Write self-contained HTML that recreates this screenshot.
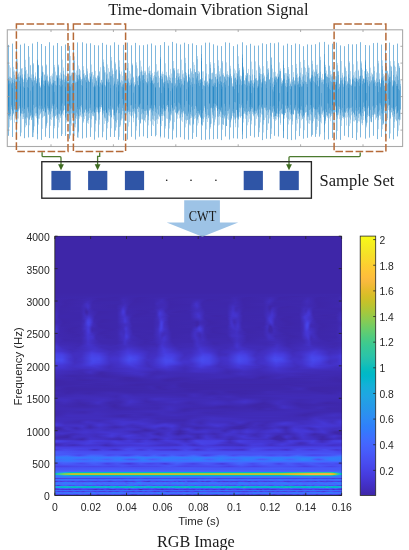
<!DOCTYPE html>
<html><head><meta charset="utf-8"><style>
html,body{margin:0;padding:0;background:#fff;width:409px;height:550px;overflow:hidden}
#sp{position:absolute;left:54.8px;top:236.2px;width:287px;height:260px;overflow:hidden}
#sp i{display:block;height:1px}
#ov{position:absolute;left:0;top:0}
.serif{font-family:"Liberation Serif","Times New Roman",serif;fill:#1a1a1a}
.sans{font-family:"Liberation Sans",Arial,sans-serif}
</style></head><body>
<div id="sp"><i style="background:#3e26a8"></i><i style="background:#3e26a8"></i><i style="background:#3e26a8"></i><i style="background:#3e26a8"></i><i style="background:#3e26a8"></i><i style="background:#3e26a8"></i><i style="background:#3e26a8"></i><i style="background:#3e26a8"></i><i style="background:#3e26a8"></i><i style="background:#3e26a8"></i><i style="background:#3e26a8"></i><i style="background:#3e26a8"></i><i style="background:#3e26a8"></i><i style="background:#3e26a8"></i><i style="background:#3e26a8"></i><i style="background:#3e26a8"></i><i style="background:#3e26a8"></i><i style="background:#3e26a8"></i><i style="background:#3e26a8"></i><i style="background:#3e26a8"></i><i style="background:#3e26a8"></i><i style="background:#3e26a8"></i><i style="background:#3e26a8"></i><i style="background:#3e26a8"></i><i style="background:#3e26a8"></i><i style="background:#3e26a8"></i><i style="background:#3e26a8"></i><i style="background:#3e26a8"></i><i style="background:#3e26a8"></i><i style="background:#3e26a8"></i><i style="background:#3e26a8"></i><i style="background:#3e26a8"></i><i style="background:#3e26a8"></i><i style="background:#3e26a8"></i><i style="background:#3e26a8"></i><i style="background:#3e26a8"></i><i style="background:#3e26a8"></i><i style="background:#3e26a8"></i><i style="background:#3e26a8"></i><i style="background:#3e26a8"></i><i style="background:#3e26a8"></i><i style="background:#3e26a8"></i><i style="background:#3e26a8"></i><i style="background:#3e26a8"></i><i style="background:#3e26a8"></i><i style="background:#3e26a8"></i><i style="background:#3e26a8"></i><i style="background:#3e26a8"></i><i style="background:#3e26a8"></i><i style="background:#3e26a8"></i><i style="background:#3e26a8"></i><i style="background:#3e26a8"></i><i style="background:#3e26a8"></i><i style="background:#3e26a8"></i><i style="background:#3e26a8"></i><i style="background:#3e26a8"></i><i style="background:#3e26a8"></i><i style="background:#3e26a9"></i><i style="background:linear-gradient(90deg,#3e27a9 0px,#3e28ac 286px)"></i><i style="background:linear-gradient(90deg,#3e27aa 0px,#3e27aa 36px,#3e27ab 65px,#3e27ac 175px,#3e27ac 213px,#3e28ac 250px,#3e27ab 283px,#3f28ae 286px)"></i><i style="background:linear-gradient(90deg,#3e27aa 0px,#3e28ac 31px,#3e27aa 64px,#3e28ad 71px,#3e27ab 100px,#3e27aa 174px,#3f28ad 180px,#3e27ab 209px,#3f28ae 217px,#3e26a8 239px,#3f28ad 254px,#3e27aa 282px,#3f29b1 286px)"></i><i style="background:linear-gradient(90deg,#3e27ab 0px,#3e28ac 29px,#3f28ae 35px,#3e26a8 61px,#3f28af 69px,#3e26a8 86px,#3f28ae 108px,#3e26a8 125px,#3e27ab 146px,#3e27aa 174px,#3f29b0 179px,#3e26a8 193px,#3f28ae 210px,#402ab3 216px,#3e26a8 225px,#3f28ad 249px,#3f29b1 253px,#3e26a8 264px,#3e28ac 283px,#402ab3 286px)"></i><i style="background:linear-gradient(90deg,#3f28ad 0px,#3e27ab 27px,#3f29b1 34px,#3e26a8 43px,#3e27aa 64px,#3f29b1 69px,#3e26a8 82px,#3f28ad 100px,#3f29b0 108px,#3e26a8 116px,#3e28ad 136px,#3e28ac 146px,#3e27aa 174px,#3f29b2 179px,#3e26a8 189px,#3f28ad 209px,#402bb6 216px,#3e26a9 224px,#3f28ae 249px,#402ab4 253px,#3e26a8 262px,#3f28ad 283px,#402ab5 286px)"></i><i style="background:linear-gradient(90deg,#3f28ae 0px,#3e26a8 17px,#3f29b0 30px,#3f29b0 35px,#3e26a8 45px,#3e27aa 64px,#402ab3 68px,#3e26a8 81px,#3e27ac 99px,#402bb6 107px,#3e26a9 113px,#3f28ad 136px,#3f29b2 144px,#3e26a8 154px,#3f28ad 175px,#402ab3 180px,#3e26a8 188px,#3f28ad 209px,#412cba 215px,#3e27a9 223px,#3f28ad 248px,#402bb6 253px,#3e26a8 261px,#3f28ad 283px,#402ab6 286px)"></i><i style="background:linear-gradient(90deg,#3f28af 0px,#3e26a8 12px,#3e28ac 28px,#402ab4 34px,#3e26a9 41px,#3e27a9 64px,#402ab5 68px,#3e26a8 80px,#3e27ac 99px,#402bb8 107px,#3e27a9 113px,#3f28ad 136px,#402bb6 143px,#3e26a8 152px,#3f28ae 175px,#402ab5 180px,#3e26a8 188px,#3e27ab 208px,#412dbc 215px,#3e27ab 221px,#3e28ac 247px,#412cb9 252px,#3e26a9 261px,#3e28ad 283px,#402ab5 286px)"></i><i style="background:linear-gradient(90deg,#3f29af 0px,#3e26a8 10px,#3f28ad 28px,#412cb9 33px,#3e27a9 39px,#3e28ac 65px,#402ab4 69px,#3e26a8 80px,#3e27ac 99px,#412cb9 106px,#3e26a9 115px,#3f28ad 136px,#412dbc 142px,#3e27aa 149px,#3e28ac 174px,#402ab5 181px,#3e26a9 188px,#3e27ab 208px,#412ebd 214px,#3e28ad 220px,#3e27ac 246px,#412cba 252px,#3e26a9 261px,#3e28ac 283px,#402ab5 286px)"></i><i style="background:linear-gradient(90deg,#3f29af 0px,#3e26a8 10px,#3f28ae 28px,#412dbc 33px,#3e27ab 38px,#3e28ac 65px,#402bb6 69px,#3e26a8 79px,#3e27ac 99px,#402bb6 103px,#402bb7 108px,#3e26a9 115px,#3f28ad 136px,#422fc2 142px,#3e27ab 148px,#3e27ac 173px,#402bb7 181px,#3e26a9 188px,#3e27ab 208px,#412dbc 214px,#3e27ac 219px,#3e28ac 246px,#412cb9 252px,#3e26a8 262px,#3e28ac 283px,#402ab5 286px)"></i><i style="background:linear-gradient(90deg,#3f29af 0px,#3e26a8 11px,#3e28ac 27px,#422fc1 32px,#3e27ab 38px,#3e28ac 65px,#402bb7 70px,#3e27a9 77px,#3e27ac 99px,#402bb7 102px,#402ab6 109px,#3e26a9 115px,#3f28ad 136px,#4331c7 141px,#422fc1 143px,#3e27ac 147px,#3e27ab 172px,#402bb8 180px,#3e26a9 188px,#3f28ae 209px,#412cb9 213px,#3e27ab 219px,#3f28ad 246px,#402bb7 252px,#3e26a8 263px,#3e28ac 283px,#402ab5 286px)"></i><i style="background:linear-gradient(90deg,#3f29b0 0px,#3e26a8 11px,#3f28ae 27px,#4330c4 32px,#422ebe 34px,#3f28ad 37px,#3e27aa 63px,#412cba 70px,#3e27a9 76px,#3e27ac 99px,#402bb7 102px,#402ab3 110px,#3e26a8 116px,#3e27ab 135px,#412dbc 139px,#4332ca 141px,#4230c3 143px,#3e27ac 147px,#3e27ab 172px,#402cb8 178px,#3f29b2 183px,#3e26a8 190px,#3f28ad 209px,#402ab5 213px,#3e27ac 219px,#3e27ac 245px,#402bb6 252px,#3e26a8 263px,#3e28ad 283px,#402ab5 286px)"></i><i style="background:linear-gradient(90deg,#3f29b0 0px,#3e26a8 9px,#3f28ad 26px,#4331c7 33px,#3f28ad 37px,#3e27a9 61px,#402bb6 67px,#412dbd 70px,#3e27aa 75px,#3e27ac 99px,#402ab5 103px,#402ab4 110px,#3e26a9 115px,#3e27ac 135px,#4330c4 140px,#4332ca 142px,#3e28ac 147px,#3e27ac 172px,#412dbc 178px,#3e26a9 189px,#3f28ad 209px,#402ab5 212px,#3e27ac 216px,#3e28ac 245px,#402ab5 252px,#3e26a8 264px,#3f28ae 284px,#402ab4 286px)"></i><i style="background:linear-gradient(90deg,#3f29b2 0px,#3e26a8 7px,#3f28ae 26px,#422ebf 31px,#4331c7 33px,#3f28ad 37px,#3e27a9 61px,#412cb9 67px,#422fc2 69px,#3e27ab 74px,#3e28ac 99px,#402ab5 103px,#402bb7 109px,#3e26a9 115px,#3e28ac 135px,#4332c9 142px,#3e27ab 148px,#3e27ac 172px,#422ec0 178px,#3e26a9 188px,#3e27ab 208px,#402ab3 212px,#3e26a8 215px,#3f28af 220px,#3e26a8 233px,#3f28af 246px,#402bb6 251px,#3e26a8 265px,#3f28af 285px,#3f29b1 286px)"></i><i style="background:linear-gradient(90deg,#402ab4 0px,#3e26a9 6px,#3e27ac 25px,#412dbb 31px,#4331c6 33px,#3f28ad 37px,#3e27a9 61px,#402bb6 66px,#4330c5 68px,#422fc2 70px,#3e27ab 74px,#3e28ac 99px,#402ab5 104px,#402bb6 109px,#3e26a9 115px,#3e28ad 135px,#4330c5 142px,#3e27ac 148px,#3e27ac 172px,#412cba 176px,#4230c3 178px,#402ab4 181px,#3e26a8 191px,#3e27ab 208px,#402ab3 212px,#3e26a8 215px,#402ab5 218px,#3e26a8 226px,#3e28ac 245px,#402bb8 250px,#402bb6 255px,#3e26a9 262px,#3f28ad 286px)"></i><i style="background:linear-gradient(90deg,#402bb6 0px,#3e27a9 5px,#3e27ac 25px,#402bb6 29px,#402ab5 31px,#422fc2 33px,#3f28ad 37px,#3e27aa 61px,#412cba 66px,#4433cc 68px,#4230c3 70px,#3f28ad 73px,#3e27ab 98px,#412dbc 107px,#3e27a9 114px,#3f28ad 135px,#422fc1 142px,#3e27ac 149px,#3e28ac 172px,#412cba 176px,#4330c5 178px,#402ab3 181px,#402ab4 184px,#3e26a9 189px,#3e27ac 208px,#402ab4 212px,#3e26a8 215px,#412cb9 218px,#3e27a9 224px,#3e28ac 245px,#412cba 249px,#412cb9 252px,#412ebe 254px,#3e27ab 259px,#3e27aa 286px)"></i><i style="background:linear-gradient(90deg,#402bb8 0px,#3e27a9 5px,#3e27ab 25px,#402bb6 29px,#3f28af 31px,#412dbc 33px,#402bb6 35px,#3e27ac 39px,#3e27ab 62px,#402ab5 65px,#4535d2 68px,#4330c5 70px,#3e28ad 73px,#3e27ab 98px,#422fc1 106px,#402bb7 109px,#3e27aa 113px,#3e28ad 135px,#412ebd 141px,#412cb9 145px,#3e27ab 150px,#3e28ac 172px,#412dbc 176px,#4331c6 178px,#402ab3 181px,#402bb6 184px,#3e27a9 188px,#3e27ac 208px,#402ab5 212px,#3e27ab 215px,#412dbc 217px,#412cb9 219px,#3e27aa 223px,#3e27ac 245px,#412dbb 249px,#402bb7 251px,#4230c3 254px,#3f28ad 258px,#3e27aa 286px)"></i><i style="background:linear-gradient(90deg,#412cba 0px,#3e27a9 5px,#3f28ad 26px,#402bb6 29px,#3e27a9 31px,#412cba 34px,#3e27ac 39px,#3e27ab 62px,#402bb7 65px,#4537d7 68px,#4536d3 69px,#3f29b0 72px,#3e26a8 86px,#3f28ad 100px,#4331c8 105px,#422fc1 108px,#3f28ae 111px,#3e26a9 132px,#402bb7 138px,#412ebe 144px,#3e27ab 150px,#3e28ac 172px,#412ebe 176px,#4331c8 178px,#402bb6 181px,#402bb8 184px,#3e27a9 188px,#3e28ac 208px,#402bb7 212px,#3f29b0 215px,#422fc0 217px,#412dbb 219px,#3e27aa 223px,#3e28ac 245px,#412dbc 249px,#402bb8 251px,#4331c8 253px,#4332c9 254px,#3e28ad 258px,#3e27ac 285px,#3e28ad 286px)"></i><i style="background:linear-gradient(90deg,#412dbc 0px,#3e27a9 5px,#3f28ad 26px,#402bb7 29px,#3e26a8 31px,#3e26a8 32px,#402bb8 34px,#3e26a8 44px,#3e27ab 62px,#412cb9 65px,#4539d9 68px,#4537d5 69px,#3f28af 72px,#3e26a8 91px,#3f29b0 101px,#4434cf 105px,#4230c4 108px,#3f28af 111px,#3e26a8 124px,#3e27ac 135px,#412ebe 141px,#412dbd 145px,#3e27aa 151px,#3e28ac 172px,#422fc1 176px,#4332ca 178px,#412dbb 181px,#412cba 184px,#3e27a9 188px,#3e28ac 208px,#412cb8 213px,#402ab5 215px,#4330c5 217px,#402bb6 220px,#3e27a9 224px,#3e28ac 245px,#412dbd 249px,#412cbb 251px,#4433cd 253px,#4434ce 254px,#3e27ac 258px,#3e28ac 283px,#3f29b1 286px)"></i><i style="background:linear-gradient(90deg,#412ebd 0px,#3e27a9 5px,#3e27ac 26px,#412cb9 29px,#3e26a8 31px,#3e26a8 32px,#412cb8 34px,#3e26a8 44px,#3e27ac 62px,#412dbb 65px,#4539d9 68px,#4537d6 69px,#3f28af 72px,#3e26a8 92px,#3f29b0 101px,#4537d5 105px,#4331c6 108px,#3f29b2 111px,#3e26a8 119px,#3e27ac 135px,#422fc1 141px,#4330c5 144px,#3e28ac 150px,#3e28ac 172px,#4433cd 178px,#422fc3 181px,#412dbc 184px,#3e27ab 187px,#3e28ac 208px,#412dbb 213px,#412cba 215px,#4332c8 217px,#3e27aa 223px,#3f28ad 245px,#422ebe 249px,#422fc0 251px,#4535d2 253px,#4535d2 254px,#3e27ac 258px,#3e27ab 282px,#402bb6 286px)"></i><i style="background:linear-gradient(90deg,#422ec0 0px,#3e27aa 5px,#3e27ac 26px,#412cba 29px,#3e27ab 32px,#412dbb 34px,#3e26a9 43px,#3e27ac 62px,#412dbc 65px,#4538d7 68px,#4536d4 69px,#3f29b0 72px,#3e26a8 86px,#3e27ac 100px,#402bb7 102px,#4435d1 104px,#4538d7 105px,#3f28ad 113px,#3e27aa 134px,#4332ca 143px,#3e27aa 151px,#3e28ac 172px,#4434cf 178px,#4230c3 183px,#3e27ab 187px,#3e28ac 208px,#412dbd 213px,#422ebe 215px,#4433cc 217px,#3e27aa 223px,#3e27ab 244px,#4434ce 252px,#4537d5 254px,#3e28ac 258px,#3e27ac 282px,#412cb8 286px)"></i><i style="background:linear-gradient(90deg,#422fc2 0px,#3e27aa 5px,#3e27ab 26px,#412dbc 29px,#402ab3 32px,#422ebf 34px,#3e27a9 42px,#3e27ac 62px,#412dbc 65px,#4536d3 68px,#4332cb 70px,#402ab4 72px,#3e26a8 82px,#3e28ac 100px,#402bb8 102px,#4435d1 104px,#4538d7 105px,#3e27ab 114px,#3e27ac 135px,#4434ce 143px,#422fc0 146px,#3e28ac 150px,#3e27ac 172px,#4434d0 178px,#4332ca 182px,#3e27ac 187px,#3e27ac 208px,#422ebf 213px,#4230c3 215px,#4434cf 217px,#3e27aa 223px,#3e27ab 244px,#4537d6 253px,#4433cd 255px,#3f28ad 258px,#3e27a9 280px,#412cba 286px)"></i><i style="background:linear-gradient(90deg,#4230c4 0px,#3e27ac 4px,#3e27ab 26px,#412ebe 30px,#412dbb 32px,#4331c5 34px,#3e27aa 41px,#3e27ac 62px,#412dbc 65px,#4434ce 68px,#4433cc 70px,#402cb8 72px,#3e26a9 79px,#3f28ad 100px,#402bb7 102px,#4434d0 104px,#4435d1 106px,#3e27aa 115px,#3e27ac 135px,#4434cf 144px,#3f28af 149px,#3e26a8 160px,#3e27ac 172px,#4433cc 177px,#4434cf 181px,#3e27aa 188px,#3e27ab 208px,#4435d0 217px,#3e27ab 223px,#3e27ab 244px,#422ec0 248px,#4537d6 251px,#4536d3 254px,#3f28af 258px,#3e26a8 269px,#3f28ad 282px,#412dbb 286px)"></i><i style="background:linear-gradient(90deg,#4330c5 0px,#3e27ac 4px,#3e27ab 26px,#422ec0 30px,#4433cc 34px,#3e27ab 40px,#3e27ac 62px,#4434ce 69px,#4331c6 71px,#402bb7 74px,#3e26a9 79px,#3e27ac 99px,#402bb6 102px,#4435d2 105px,#402ab5 112px,#3e27a9 116px,#3e27ac 135px,#4434cf 144px,#3f28ae 149px,#3e26a8 163px,#3f28af 173px,#4332cb 177px,#4434cd 181px,#3e27aa 188px,#3f28ad 209px,#4435d1 216px,#4332ca 218px,#3f28ae 222px,#3e26a8 233px,#3f28ae 245px,#4537d6 250px,#4536d2 253px,#4230c3 256px,#3e27ac 259px,#3e27aa 281px,#412dbd 286px)"></i><i style="background:linear-gradient(90deg,#4330c4 0px,#3e27ac 4px,#3e27ab 26px,#4536d3 34px,#3e27ab 40px,#3e27ac 62px,#4435d0 70px,#3e27ab 77px,#3e28ac 99px,#402ab5 102px,#4434d0 105px,#422fc0 110px,#3e27ab 114px,#3e27ac 135px,#4433cb 144px,#3e27ac 150px,#3e27ab 172px,#4331c7 176px,#4331c6 182px,#3e27aa 188px,#3e27ac 209px,#422ebe 212px,#4435d1 215px,#4434cf 217px,#3f28ae 222px,#3e26a8 234px,#3f28ad 245px,#4538d7 250px,#4537d5 252px,#4230c3 256px,#3f28ad 259px,#3e27a9 280px,#412ebe 286px)"></i><i style="background:linear-gradient(90deg,#422fc2 0px,#3e27aa 5px,#3e27ab 26px,#4434ce 32px,#4639da 34px,#422fc2 37px,#3e27ab 40px,#3e27ac 62px,#4536d3 70px,#3f28ad 76px,#3e27ab 98px,#412dbb 103px,#4434cf 105px,#4433cb 108px,#3e27ab 114px,#3e27ac 135px,#4331c6 145px,#3e27ac 150px,#3e27aa 172px,#4331c7 176px,#4230c3 180px,#422fc0 183px,#3e27aa 188px,#3f28ad 210px,#4435d0 214px,#4536d3 216px,#3f29b1 221px,#3e26a8 227px,#3f28ad 245px,#4537d6 250px,#4537d5 252px,#422fc2 256px,#3e27ab 260px,#3e27aa 281px,#422ebf 286px)"></i><i style="background:linear-gradient(90deg,#412ebe 0px,#3e27a9 6px,#3e27ac 26px,#422ebf 30px,#463bdd 33px,#463ada 35px,#3f28af 39px,#3e26a8 48px,#3e27ac 62px,#4331c6 68px,#4537d6 70px,#3e28ac 76px,#3e27ab 98px,#412cb9 103px,#4537d5 106px,#3e27ab 114px,#3e27ab 135px,#412dbb 143px,#422fc1 145px,#3e27aa 151px,#3e27aa 172px,#4331c6 176px,#412cbb 179px,#422fc1 183px,#3e27aa 188px,#3f28ad 210px,#4537d6 215px,#4434ce 217px,#402ab3 220px,#3e26a8 227px,#3e28ac 245px,#4538d8 251px,#4332c9 255px,#3e27ac 260px,#3e27ab 281px,#422ebe 286px)"></i><i style="background:linear-gradient(90deg,#412cba 0px,#3e26a9 7px,#3e27ac 26px,#402bb7 29px,#473fe2 33px,#463cde 35px,#3f29b0 39px,#3e26a8 47px,#3e27ac 62px,#4331c7 68px,#4538d8 70px,#412dbc 74px,#3e27ac 76px,#3e27ab 98px,#412cb8 103px,#4539d9 106px,#4434cf 108px,#3e27aa 114px,#3f28ad 136px,#402ab5 143px,#412dbb 145px,#3e26a9 153px,#3f28ad 173px,#4331c6 176px,#412dbd 178px,#402bb6 179px,#422fc1 183px,#3e27aa 188px,#3e28ad 210px,#4538d7 215px,#4434cf 217px,#3f29b2 220px,#3e26a8 229px,#3e27ac 245px,#4539d8 251px,#4639da 253px,#402ab4 258px,#3e26a9 263px,#3f28ad 282px,#412dbb 286px)"></i><i style="background:linear-gradient(90deg,#402bb7 0px,#3e26a9 8px,#3e28ad 26px,#402bb7 29px,#4741e5 33px,#463de0 35px,#3f29b1 39px,#3e26a8 46px,#3e28ac 62px,#422ebe 66px,#4331c6 68px,#4538d7 70px,#412ebe 74px,#3e28ac 76px,#3e27ab 98px,#402bb8 103px,#422fc1 104px,#463bdd 106px,#463bdc 107px,#422ebe 110px,#3e27aa 114px,#3f28ad 136px,#3f28af 140px,#3e26a9 142px,#402bb7 145px,#3e26a8 154px,#3f28ad 173px,#4331c7 176px,#4331c6 177px,#402ab3 179px,#412dbb 181px,#422fc2 183px,#3e27aa 188px,#3f28ad 210px,#4433cb 214px,#4538d8 216px,#4330c5 218px,#3f29b1 220px,#3e26a8 231px,#3e27ac 245px,#422ec0 248px,#463de0 252px,#4538d8 254px,#412cb9 257px,#3e27a9 262px,#3e27ab 281px,#402bb8 286px)"></i><i style="background:linear-gradient(90deg,#402bb7 0px,#3e26a8 9px,#3f28ad 26px,#412cb9 29px,#4743e7 33px,#473ee1 35px,#4029b3 39px,#3e26a8 45px,#3e28ac 62px,#412dbd 66px,#4230c4 68px,#4535d2 70px,#422ebe 74px,#3f28ad 76px,#3e27aa 97px,#402bb7 103px,#422ec0 104px,#463de0 106px,#463de0 107px,#412ebd 110px,#3e27aa 114px,#3e28ad 136px,#3e27ab 140px,#3e26a8 143px,#402ab5 145px,#3e26a8 156px,#3f28ad 173px,#4331c7 176px,#4331c7 177px,#402ab5 179px,#402ab4 180px,#4230c4 183px,#3e27ac 187px,#3e27ab 209px,#4331c6 214px,#4537d6 216px,#4331c6 218px,#3f29b0 220px,#3e26a8 234px,#3e27ac 245px,#412ebe 248px,#4740e4 252px,#4740e4 253px,#412dbd 256px,#3e27a9 262px,#3e27ab 281px,#402ab5 286px)"></i><i style="background:linear-gradient(90deg,#412cba 0px,#3e26a9 8px,#3f28ad 26px,#412dbc 29px,#4742e6 33px,#463de0 35px,#412cbb 38px,#3e27aa 42px,#3e27ac 62px,#412cba 66px,#422ebf 68px,#4332ca 70px,#412ebe 74px,#3e27ab 77px,#3e27ab 98px,#402bb8 103px,#422fc0 104px,#473fe2 106px,#473ee1 107px,#4330c5 109px,#3e27ab 114px,#3e28ac 136px,#3f28ae 139px,#3e26a8 142px,#3e26a8 143px,#402bb6 145px,#3e26a8 156px,#3f28ad 173px,#4331c7 176px,#4332c9 177px,#412cb8 179px,#412dbd 181px,#4331c6 183px,#3e27ac 187px,#3e27ab 209px,#4331c7 215px,#4434cf 217px,#3f29b0 220px,#3e26a8 235px,#3e27ac 245px,#412dbc 248px,#4743e7 252px,#4742e6 253px,#412cb9 256px,#3e26a9 264px,#3e27ab 281px,#402ab3 286px)"></i><i style="background:linear-gradient(90deg,#422ec0 0px,#3e27a9 7px,#3f28ad 26px,#412ebe 29px,#4740e3 33px,#4741e5 34px,#412cba 38px,#3e27a9 43px,#3e27ac 62px,#402bb8 66px,#4230c4 71px,#412dbd 74px,#3e27ab 77px,#3e27ab 98px,#402cb8 103px,#422fc2 104px,#4740e3 106px,#473ee2 107px,#4230c4 109px,#3e27ab 114px,#3e27ac 136px,#3f28af 139px,#3e26a8 143px,#412cba 145px,#3e26a9 154px,#3f28ad 173px,#4332cb 177px,#412dbb 180px,#4332c9 183px,#3e27ac 187px,#3e27ab 209px,#412dbc 213px,#412dbc 215px,#4332c9 217px,#3f29b0 220px,#3e26a8 234px,#3e27ac 245px,#412dbb 248px,#473ee1 251px,#4744e9 252px,#4743e7 253px,#422fc1 255px,#402ab5 256px,#3e26a8 266px,#3f28ae 282px,#402ab3 286px)"></i><i style="background:linear-gradient(90deg,#4331c6 0px,#3e27aa 6px,#3e27ab 25px,#402bb7 28px,#463ddf 33px,#463ee1 34px,#402bb8 38px,#3e26a9 44px,#3e27ac 62px,#402bb6 66px,#422ebe 69px,#4230c4 72px,#3e27aa 78px,#3e27ab 98px,#412cb9 103px,#4230c4 104px,#4740e3 106px,#463ee1 107px,#4330c5 109px,#3e27aa 115px,#3f28ad 137px,#3f28ad 140px,#3e26a8 142px,#4230c3 145px,#3e27aa 152px,#3e27ab 172px,#412dbc 175px,#4432cb 177px,#422ebf 180px,#4332cb 183px,#3e28ac 187px,#3e27ac 209px,#412ebe 212px,#3f29b1 215px,#422fc0 217px,#422fc0 218px,#3f29b1 220px,#3e26a8 232px,#3e27ac 245px,#412cba 248px,#473fe2 251px,#4745e9 252px,#4742e6 253px,#412ebe 255px,#402ab3 256px,#3e26a8 268px,#3f28ad 282px,#402bb6 286px)"></i><i style="background:linear-gradient(90deg,#4433cd 0px,#3e27ab 6px,#3e27ab 25px,#402bb7 28px,#463adb 33px,#463bdc 34px,#412cba 37px,#3e26a9 44px,#3e27ac 62px,#402ab5 66px,#422ebf 69px,#4332ca 71px,#3e27aa 78px,#3e27ab 98px,#412cbb 103px,#473fe3 106px,#463de0 107px,#4331c6 109px,#3e27aa 115px,#3f28ad 137px,#402ab3 140px,#3f29b1 142px,#4332ca 144px,#4433cd 145px,#3e27ac 151px,#3e27ac 172px,#4230c3 176px,#4332ca 178px,#422fc2 180px,#4433cb 183px,#3f28ad 187px,#3e27aa 208px,#422ebf 212px,#412dbc 213px,#3e26a8 215px,#3e27ab 216px,#402bb8 217px,#412dbc 218px,#3f28ad 223px,#3e27aa 244px,#412cb9 248px,#473fe2 251px,#4744e8 252px,#4740e4 253px,#412dbc 255px,#402ab3 256px,#3e26a8 268px,#3f28ad 282px,#412cb9 286px)"></i><i style="background:linear-gradient(90deg,#4535d2 0px,#3f28ae 5px,#3e26a8 21px,#3f29b1 27px,#4539d8 33px,#4539d8 34px,#402ab5 37px,#3e26a9 46px,#3e27ac 62px,#412cb9 68px,#4434d0 71px,#3e27ac 77px,#3e27ab 98px,#412dbc 103px,#473fe3 106px,#463ddf 107px,#4331c7 109px,#412cba 112px,#3e27ab 115px,#3f28ad 137px,#412ebe 142px,#4537d5 144px,#4537d6 145px,#3f29b0 150px,#3e26a8 160px,#3e27ac 172px,#4332c8 178px,#4230c3 180px,#4332ca 183px,#3f28ae 187px,#3e26a9 205px,#3f29b2 210px,#412ebe 212px,#412dbb 213px,#3e28ad 214px,#3e26a8 216px,#412cb9 218px,#3e26a9 227px,#3e27ac 245px,#412cb9 248px,#463ee1 251px,#4742e6 252px,#463ee1 253px,#412dbd 255px,#402ab6 257px,#3e26a8 266px,#3f28ad 282px,#412dbb 286px)"></i><i style="background:linear-gradient(90deg,#4537d7 0px,#3f28ae 5px,#3e26a8 17px,#3f28ad 26px,#4539d9 33px,#4538d8 34px,#3f29b1 37px,#3e26a8 51px,#3e27ac 62px,#412dbb 68px,#4536d4 71px,#4330c5 73px,#3e27ac 77px,#3e27ab 98px,#422ebe 103px,#463adb 105px,#473fe2 106px,#463cdf 107px,#4332c9 109px,#412dbc 112px,#3e27ab 115px,#3e27ab 136px,#4331c7 142px,#463adb 144px,#4537d5 146px,#3f29b0 150px,#3e26a8 158px,#3e28ad 172px,#4330c5 178px,#4331c7 181px,#4331c8 183px,#3e27ab 188px,#3e27ab 208px,#412dbd 212px,#412cb9 213px,#3e27a9 214px,#3e27ab 217px,#402bb7 218px,#3f29b2 221px,#3e26a8 230px,#3e27ac 245px,#412cb9 248px,#463ddf 251px,#4740e3 252px,#463bdd 253px,#422fc0 255px,#3e26a9 264px,#3f28ad 282px,#412dbc 286px)"></i><i style="background:linear-gradient(90deg,#4539d9 0px,#3f28af 5px,#3e26a8 15px,#3f28ad 26px,#4332c9 31px,#4639da 33px,#4539d8 34px,#3f29af 37px,#3e26a9 58px,#3f29b0 63px,#412cbb 68px,#4536d4 71px,#4331c6 73px,#3e28ac 77px,#3e27ab 98px,#422fc0 103px,#463adb 105px,#463ee1 106px,#4435d1 108px,#4331c8 110px,#3e27ac 115px,#3e27ab 136px,#4536d4 143px,#463bdd 145px,#3f29b1 150px,#3e26a9 157px,#3f28ad 172px,#422fc1 178px,#4332c9 182px,#3e27aa 189px,#3e27ab 208px,#412dbc 212px,#402bb7 213px,#3e26a8 214px,#3e27a9 217px,#402bb6 218px,#402bb8 220px,#3e27ab 224px,#3e27ac 245px,#412cb9 248px,#463bdc 251px,#463de0 252px,#422fc3 255px,#3e27a9 264px,#3f28ad 282px,#412dbd 286px)"></i><i style="background:linear-gradient(90deg,#4538d7 0px,#3f28af 5px,#3e26a8 14px,#3f28ad 26px,#422ebe 30px,#463ada 33px,#4639d9 34px,#3f29b0 37px,#3e26a9 56px,#3f28ad 62px,#412cba 66px,#422ebf 69px,#4435d1 71px,#4331c7 73px,#3e27ab 78px,#3f28ad 99px,#422fc1 103px,#4639d9 105px,#463bdd 106px,#4331c6 109px,#412dbc 112px,#3e27aa 116px,#3e28ac 136px,#4538d8 145px,#4433cc 147px,#3f29b2 150px,#3e26a9 157px,#3f28ae 172px,#412dbd 177px,#422fc0 180px,#4331c6 182px,#3e27aa 189px,#3e27ac 208px,#412dbb 212px,#402bb6 213px,#3e27a9 214px,#3e27aa 217px,#412cb9 219px,#3e27aa 225px,#3e27ac 245px,#412cb9 248px,#4539d9 251px,#463adc 252px,#4330c5 255px,#3e27a9 264px,#3f28ad 282px,#412dbc 286px)"></i><i style="background:linear-gradient(90deg,#4536d3 0px,#3f28ae 5px,#3e26a8 15px,#3f28ad 26px,#412dbd 30px,#4639da 33px,#4639d9 34px,#402ab3 37px,#3e26a9 49px,#3f28ad 62px,#412dbc 66px,#412dbd 69px,#4434d0 71px,#4331c8 73px,#3e27ab 78px,#3f28ad 99px,#422fc1 103px,#4537d6 105px,#4435d0 107px,#422fc2 109px,#412dbc 112px,#3e27ab 116px,#3e27ab 135px,#4331c7 141px,#4434cf 146px,#3f29b1 150px,#3e26a8 158px,#3f28ae 172px,#412dbc 176px,#422ebf 180px,#4230c4 182px,#402bb7 185px,#3e27a9 192px,#3f28ad 208px,#412dbb 212px,#3e26a8 215px,#3f28ad 217px,#412cb9 219px,#3e27aa 226px,#3e27ac 245px,#412cba 248px,#4537d6 251px,#4537d5 253px,#4330c5 256px,#3e27aa 263px,#3e27ac 281px,#412dbc 286px)"></i><i style="background:linear-gradient(90deg,#4434cd 0px,#3f28ae 5px,#3e26a8 19px,#3f29b1 28px,#4330c5 31px,#4538d8 33px,#4538d8 34px,#412cb9 37px,#3e26a9 46px,#3f28ad 62px,#412ebe 66px,#412dbd 69px,#4435d1 71px,#4332c9 73px,#3e27ac 78px,#3e27ab 98px,#422fc0 103px,#4435d0 105px,#422ebe 109px,#412dbb 112px,#3e27aa 117px,#3e27ab 135px,#4330c5 140px,#422ec0 144px,#4330c5 147px,#3f29b1 150px,#3e26a8 158px,#3f28ae 172px,#412dbc 177px,#422ec0 180px,#4330c5 181px,#402bb7 185px,#3e27a9 192px,#3f28ad 208px,#412dbc 212px,#3e28ac 216px,#402bb8 219px,#3e27a9 229px,#3f28ae 246px,#4536d5 251px,#4536d5 253px,#4331c6 256px,#3e27aa 263px,#3e28ac 281px,#412dbb 286px)"></i><i style="background:linear-gradient(90deg,#4331c7 0px,#3f29b0 4px,#3e27a9 14px,#3f28ad 27px,#4330c5 31px,#4537d6 33px,#4434cf 35px,#402bb6 39px,#3e26a8 46px,#3f28ad 62px,#422ebf 66px,#422ebe 69px,#4536d3 71px,#4332ca 73px,#3f28ad 78px,#3e27ab 98px,#422ec0 103px,#4433cc 105px,#412dbb 108px,#412dbb 112px,#3e27aa 117px,#3e28ac 135px,#4331c6 140px,#402bb8 144px,#422fc1 147px,#3f28ae 151px,#3e26a8 165px,#3f28ad 172px,#412dbd 177px,#422fc1 180px,#4230c3 182px,#402bb8 185px,#3e27aa 193px,#3f28ad 208px,#412dbd 213px,#402ab3 216px,#402bb6 219px,#3e27a9 232px,#3f28ae 246px,#4536d3 251px,#4537d5 253px,#4230c4 256px,#3e27aa 263px,#3f28ad 281px,#412cbb 286px)"></i><i style="background:linear-gradient(90deg,#4230c3 0px,#3f28af 4px,#3e26a9 23px,#3f29b1 28px,#4536d3 33px,#3e27ab 43px,#3f28ad 62px,#422fc0 66px,#422fc0 69px,#4538d7 71px,#4433cc 73px,#3f28ae 78px,#3e27aa 97px,#422ebf 103px,#4332c8 105px,#412cbb 108px,#422ebf 111px,#3e27aa 117px,#3f28ad 135px,#4331c6 140px,#402ab4 145px,#412ebd 147px,#3e27ac 152px,#3e27ab 171px,#422ebf 177px,#422fc2 180px,#4230c4 182px,#3e27ac 190px,#3f28ad 208px,#422ebf 213px,#3e27a9 229px,#3f28ae 246px,#4535d2 251px,#4537d5 253px,#422fc1 256px,#412dbb 259px,#3e27ab 263px,#3f28ad 281px,#412cb9 286px)"></i><i style="background:linear-gradient(90deg,#422ec0 0px,#3f28ae 4px,#3e27aa 25px,#402bb7 29px,#4435d2 33px,#4230c4 38px,#3f29b0 41px,#3e27a9 51px,#3f28ad 62px,#422fc0 67px,#422fc2 69px,#4639d9 71px,#4538d7 72px,#402bb7 76px,#3e27ab 81px,#3e28ac 98px,#422ebe 103px,#4331c7 105px,#412dbc 107px,#422fc2 111px,#3e27aa 117px,#3f28ae 135px,#4331c6 140px,#402ab3 145px,#412dbc 147px,#3e27aa 153px,#3e28ac 172px,#422fc0 177px,#4330c5 182px,#3e27ab 192px,#3f28ad 208px,#422fc1 214px,#3f29b2 221px,#3e26a8 236px,#3f28af 246px,#4434d0 251px,#4537d5 253px,#412dbc 256px,#412dbc 259px,#3e27aa 264px,#3e28ac 281px,#402cb8 286px)"></i><i style="background:linear-gradient(90deg,#422ebf 0px,#3f28af 4px,#3e27aa 24px,#402bb8 29px,#4435d1 33px,#4433cd 37px,#3f29b1 41px,#3e27aa 53px,#3f28ad 62px,#422ec0 67px,#4230c4 69px,#4639da 71px,#4539d8 72px,#402bb8 76px,#3e27ab 83px,#3f28ad 98px,#412ebd 103px,#4331c6 105px,#422ebe 107px,#4332c8 110px,#3e27aa 117px,#3f28ae 135px,#4331c6 140px,#402ab5 145px,#412dbc 147px,#3e27ab 153px,#3f28ae 173px,#422ebf 177px,#4331c6 182px,#3e27ab 192px,#3f28ae 209px,#422fc2 214px,#412cba 218px,#3f29b1 220px,#3f29af 224px,#3e26a8 239px,#3f28ae 246px,#4435d1 252px,#4536d4 253px,#4434cf 254px,#402bb7 256px,#412dbd 259px,#3e27ab 264px,#3e27ac 281px,#402bb7 286px)"></i><i style="background:linear-gradient(90deg,#412ebe 0px,#3f29b0 4px,#3e27ab 19px,#3f29b0 27px,#4330c5 31px,#4435d0 33px,#4331c8 38px,#3f29b1 41px,#3e27aa 53px,#3f28ad 62px,#4330c5 69px,#4538d8 71px,#4538d7 72px,#402bb7 76px,#3e27ab 85px,#3f28ad 98px,#412dbc 103px,#4230c4 105px,#422fc1 107px,#4433cd 109px,#3e27ab 117px,#3f28ad 135px,#4331c7 141px,#402bb8 145px,#412dbb 148px,#3e27ab 153px,#3e28ac 173px,#412dbd 178px,#422fc2 183px,#3e27aa 192px,#3f29b0 210px,#422fc1 214px,#412dbc 218px,#402ab3 221px,#3e27a9 237px,#3f28ae 246px,#4535d2 253px,#4434cd 254px,#402ab4 256px,#412dbd 259px,#3e27ab 265px,#3e27ab 281px,#402bb7 286px)"></i><i style="background:linear-gradient(90deg,#412dbc 0px,#3f28ad 7px,#3f28ad 26px,#4230c3 31px,#4435d0 33px,#4331c7 38px,#3f29b2 41px,#3e27aa 57px,#3f29b0 63px,#4330c5 69px,#4536d5 71px,#4433cb 73px,#402bb6 76px,#3e27ab 87px,#3f28ad 98px,#412dbb 103px,#4230c3 105px,#4230c3 107px,#4434cf 109px,#3e27ac 117px,#3f28ad 135px,#4331c7 141px,#412cba 145px,#412dbd 148px,#3f28ad 153px,#3f28ae 174px,#412cb9 178px,#4230c3 182px,#3e27ab 192px,#3f29b0 210px,#422ebf 214px,#412ebe 218px,#402ab4 221px,#3e27aa 234px,#3f28ae 246px,#4434cf 253px,#4433cc 254px,#402ab3 256px,#412cb9 260px,#3e27ab 266px,#3f28ad 282px,#402bb6 286px)"></i><i style="background:linear-gradient(90deg,#412dbb 0px,#3e27ac 9px,#3f28ad 26px,#422fc1 31px,#4434cf 33px,#4230c3 38px,#3f29b0 42px,#3f28ad 62px,#422ec0 68px,#4435d0 71px,#402ab5 76px,#3e27a9 91px,#3f29b2 100px,#4432cb 108px,#4433cc 110px,#3f28ae 116px,#3f28ad 135px,#4331c6 142px,#412dbb 145px,#422ebf 148px,#3f28af 153px,#3f28ad 174px,#422fc2 182px,#3e27ab 192px,#402ab3 211px,#412dbd 214px,#412cba 219px,#3e27ab 232px,#3f29b0 247px,#4230c4 252px,#4433cb 253px,#4332ca 254px,#402ab4 256px,#412cb8 260px,#3e27ab 268px,#3f29af 283px,#402ab5 286px)"></i><i style="background:linear-gradient(90deg,#412cbb 0px,#3e27ac 10px,#3e28ac 26px,#422ebf 31px,#4433cd 33px,#3f28ae 44px,#3f28ad 62px,#422ebf 68px,#4433cc 70px,#422fc1 73px,#3f29b2 78px,#3e27ac 97px,#4433cc 109px,#3f28ad 117px,#3f28af 137px,#4331c6 142px,#412dbc 145px,#422ec0 148px,#3f29b0 153px,#3f28af 175px,#422fc1 182px,#3e27ac 192px,#402ab3 211px,#412dbc 217px,#3e27ac 232px,#3f29b1 248px,#422fc0 252px,#4332c8 254px,#402bb6 256px,#402ab5 261px,#3e27ab 273px,#3f29b1 284px,#402ab4 286px)"></i><i style="background:linear-gradient(90deg,#412dbc 0px,#3f28af 7px,#3e28ac 26px,#422ebe 31px,#4433cb 33px,#3f28ad 45px,#3f28ad 62px,#402bb7 67px,#4332ca 70px,#402bb6 76px,#3e27ab 91px,#402ab3 100px,#4332ca 109px,#3f28ae 117px,#3f28ae 137px,#4330c4 142px,#422ebe 146px,#412cba 149px,#3f28ae 157px,#3f29b0 176px,#422fc1 182px,#3f28ad 192px,#3f29b2 211px,#412cb9 222px,#3e28ac 232px,#3f29b2 248px,#4331c7 254px,#402ab4 257px,#402ab4 261px,#3e27ac 274px,#402ab3 286px)"></i><i style="background:linear-gradient(90deg,#422fc1 0px,#3f29b2 5px,#3f28ad 26px,#422ebf 31px,#4432cb 33px,#3f28ae 45px,#3f28ad 62px,#402bb7 67px,#4332c9 70px,#412cb9 74px,#3e27ac 90px,#3f29b2 100px,#4332c9 108px,#3f28ae 118px,#3f28af 137px,#4330c5 142px,#412ebe 146px,#412cbb 149px,#3f28ad 158px,#3f29b2 177px,#4230c4 182px,#3f28af 190px,#3f29b1 211px,#412cb9 223px,#3e27ac 233px,#402ab5 249px,#4331c6 254px,#402ab5 257px,#3f29b1 263px,#3f28ae 282px,#3f29b2 286px)"></i><i style="background:linear-gradient(90deg,#4331c7 0px,#402ab3 5px,#3f28af 26px,#422fc0 31px,#4433cc 33px,#412cba 40px,#3f28ae 48px,#3f28ae 62px,#402bb8 67px,#4332c8 70px,#412cb9 74px,#3e28ac 90px,#3f29b0 100px,#422ec0 105px,#4332cb 108px,#3f28af 119px,#402ab3 138px,#4331c6 142px,#412ebe 146px,#412cb9 150px,#3e28ac 159px,#402ab3 177px,#4331c8 182px,#3f29b2 189px,#3f29b0 211px,#412dbb 220px,#412dbb 223px,#3e27ac 234px,#402bb7 249px,#4331c6 254px,#402bb6 257px,#3f29b2 263px,#3f28ad 281px,#3f29b2 286px)"></i><i style="background:linear-gradient(90deg,#4434ce 0px,#402ab5 5px,#3f29b1 26px,#422fc2 31px,#4433cc 33px,#4331c6 37px,#402ab3 45px,#3f28af 61px,#422ebe 68px,#4331c6 70px,#412dbb 75px,#3f28ae 86px,#3f28af 100px,#412cba 104px,#4433cc 107px,#3f29af 120px,#402ab4 138px,#4331c7 142px,#422fc0 147px,#3f28ae 159px,#402bb7 178px,#4433cb 182px,#402ab5 188px,#3f29b1 211px,#402bb7 219px,#422fc1 222px,#3f28ae 232px,#402bb6 247px,#4331c6 254px,#402bb7 257px,#402ab5 262px,#3f28ad 279px,#402ab3 286px)"></i><i style="background:linear-gradient(90deg,#4536d4 0px,#412cb8 5px,#3f29b0 24px,#4230c4 31px,#4332ca 34px,#4331c8 37px,#412dbd 41px,#3f29b0 56px,#412cbb 67px,#4230c3 71px,#3f29b0 86px,#402ab3 102px,#4434cf 107px,#3f29b2 120px,#402ab3 137px,#4332c8 143px,#412cba 152px,#3f29b1 162px,#402bb6 177px,#4433cd 182px,#402bb7 188px,#402ab3 211px,#412cb8 217px,#422ebf 220px,#4230c4 222px,#3f28af 232px,#402bb8 247px,#4331c6 254px,#412cba 258px,#402ab5 263px,#3f29af 282px,#402ab4 286px)"></i><i style="background:linear-gradient(90deg,#4538d7 0px,#412dbb 6px,#3f29b2 23px,#4330c4 31px,#4332c9 34px,#4331c8 37px,#4230c4 40px,#402bb7 46px,#402ab4 62px,#4230c3 72px,#3f29b2 89px,#402bb6 102px,#4435d2 107px,#402ab3 121px,#402ab4 137px,#4332c9 143px,#422fc1 151px,#402ab4 159px,#402ab5 172px,#412cbb 178px,#4434cd 182px,#412cb9 189px,#402bb6 211px,#412dbc 217px,#4330c5 222px,#3f29b0 234px,#412cb9 247px,#422fc2 255px,#412dbc 258px,#412cba 262px,#3f28af 279px,#402bb6 286px)"></i><i style="background:linear-gradient(90deg,#4539d9 0px,#412dbd 7px,#402ab3 20px,#412ebe 29px,#4332c8 34px,#4332c9 37px,#4331c7 40px,#402bb7 47px,#402ab4 62px,#4331c7 73px,#402ab4 90px,#412cb9 102px,#4537d6 108px,#4332c9 112px,#3f29b2 125px,#402cb8 138px,#4433cc 145px,#4330c5 151px,#402bb7 159px,#402ab4 171px,#422ebf 179px,#4433cc 182px,#402bb8 193px,#402bb7 210px,#4331c8 222px,#4029b3 235px,#412dbb 247px,#4230c3 255px,#412ebd 262px,#3f29b0 278px,#412cb9 286px)"></i><i style="background:linear-gradient(90deg,#4538d7 0px,#412dbc 9px,#402ab4 21px,#422fc1 30px,#4332c8 34px,#4332c9 40px,#402ab5 51px,#402bb6 63px,#4433cc 73px,#402bb6 90px,#412dbc 102px,#4539d9 108px,#402bb6 123px,#402bb8 136px,#422fc1 141px,#4435d0 145px,#4331c8 151px,#412cb8 160px,#402ab5 171px,#422fc3 180px,#4332cb 183px,#402bb7 199px,#412cb8 210px,#4433cb 221px,#402ab4 237px,#422ebe 248px,#4330c5 261px,#402bb8 269px,#402ab4 282px,#412dbc 286px)"></i><i style="background:linear-gradient(90deg,#4536d5 0px,#402ab5 15px,#412dbb 27px,#4332c9 35px,#4433cb 40px,#402ab5 54px,#412cba 64px,#4435d1 73px,#402bb8 91px,#412dbb 101px,#463adb 109px,#402bb8 124px,#412cba 136px,#422fc2 141px,#4536d4 145px,#4432cb 151px,#402ab5 165px,#422fc0 179px,#4332cb 184px,#4230c3 190px,#402ab5 206px,#4434cd 220px,#402ab5 239px,#4433cb 261px,#412cb9 271px,#402bb8 282px,#422fc0 286px)"></i><i style="background:linear-gradient(90deg,#4536d4 0px,#402bb6 17px,#422fc0 29px,#4435d1 38px,#402bb7 56px,#412ebe 64px,#4537d6 73px,#402bb8 94px,#412dbc 101px,#463bdc 109px,#412cba 125px,#412dbc 136px,#4332c9 142px,#4537d6 146px,#402bb6 165px,#4230c4 179px,#4435d1 187px,#402bb6 203px,#4230c3 212px,#4435d0 221px,#412dbc 233px,#402bb7 242px,#4535d2 261px,#412cb9 273px,#412dbc 283px,#4230c3 286px)"></i><i style="background:linear-gradient(90deg,#4538d8 0px,#4331c8 9px,#402bb8 18px,#422fc2 29px,#4537d6 37px,#4230c4 48px,#412cba 59px,#4332c9 66px,#4639d9 73px,#4433cb 83px,#412cb9 96px,#422fc0 102px,#463bde 109px,#412dbc 127px,#412dbc 136px,#4433cb 142px,#4538d8 146px,#4433cd 154px,#402bb7 164px,#4230c4 176px,#4538d8 187px,#412cb9 203px,#4330c5 212px,#4536d4 221px,#4331c8 230px,#402bb7 238px,#4332cb 252px,#4639d9 260px,#412cb9 275px,#422ec0 284px,#4331c6 286px)"></i><i style="background:linear-gradient(90deg,#463bde 0px,#4537d6 7px,#412dbc 16px,#422fc0 27px,#463bdd 37px,#4435d1 45px,#412dbb 56px,#4230c4 64px,#463bdd 73px,#4434cf 84px,#412dbb 95px,#422ebf 101px,#463cdf 109px,#4435d2 118px,#412dbb 129px,#412dbd 136px,#463adb 147px,#4435d1 155px,#402bb8 164px,#422fc3 174px,#463bdd 186px,#412dbb 203px,#4331c7 212px,#4539d9 220px,#4435d0 229px,#412cba 237px,#4331c6 248px,#463cde 259px,#412cbb 275px,#422fc2 284px,#4332c8 286px)"></i><i style="background:linear-gradient(90deg,#4740e3 0px,#463bdc 7px,#422ebe 17px,#422fc1 27px,#473ee1 37px,#463adb 44px,#412ebe 55px,#4230c4 63px,#463de0 73px,#4537d5 84px,#412dbd 94px,#422fc1 101px,#463ee1 110px,#4639da 117px,#412dbc 129px,#422ebf 136px,#463de0 148px,#4538d8 155px,#402bb8 164px,#412ebe 172px,#463de0 184px,#463bdd 190px,#412ebe 201px,#4330c4 210px,#463cdf 220px,#4538d8 228px,#412dbc 237px,#4330c5 246px,#463ee1 258px,#4537d6 265px,#412dbd 274px,#4230c3 283px,#4433cd 286px)"></i><i style="background:linear-gradient(90deg,#4743e7 0px,#473fe2 7px,#422ec0 18px,#422fc2 27px,#4741e5 37px,#463ddf 44px,#422fc1 54px,#422fc3 62px,#4741e4 74px,#4538d8 84px,#412ebe 94px,#422fc2 101px,#4740e3 110px,#463cdf 117px,#412dbc 130px,#4230c4 137px,#4740e4 148px,#463ee1 154px,#412cb9 164px,#412dbb 171px,#4741e4 184px,#463ee1 190px,#412ebe 201px,#4331c7 210px,#473fe3 220px,#463bdc 228px,#412dbd 238px,#4331c6 246px,#4740e4 257px,#463bdc 264px,#422fc0 274px,#4332c8 283px,#4536d2 286px)"></i><i style="background:linear-gradient(90deg,#4744e9 0px,#4742e6 7px,#422fc0 18px,#422fc1 26px,#4743e7 37px,#473fe3 44px,#4230c3 54px,#4331c6 63px,#4744e8 74px,#463ee1 82px,#422ebf 93px,#4230c4 101px,#4742e6 111px,#463de0 118px,#412dbd 130px,#4331c7 137px,#4743e7 148px,#473fe2 155px,#412dbc 164px,#412ebe 171px,#4744e8 184px,#4741e5 190px,#422fc0 200px,#4230c4 208px,#4742e6 220px,#463ddf 228px,#422ebf 238px,#4330c5 246px,#4743e7 257px,#463ee1 264px,#4230c4 274px,#4332cb 282px,#4538d7 286px)"></i><i style="background:linear-gradient(90deg,#4745e9 0px,#4744e8 7px,#422ebf 19px,#422fc2 26px,#4744e8 37px,#4742e6 44px,#4330c5 55px,#4433cb 64px,#4747eb 74px,#4742e6 81px,#422ec0 93px,#4230c4 100px,#4744e8 111px,#473fe2 118px,#422ebf 129px,#4331c6 136px,#4747eb 148px,#4741e5 155px,#422fc0 164px,#4230c4 172px,#4747eb 184px,#4741e5 191px,#4230c3 200px,#4331c6 208px,#4745e9 220px,#473ee2 228px,#422fc1 238px,#4230c4 246px,#4745e9 257px,#4741e5 264px,#4331c7 275px,#4434cf 283px,#4639d9 286px)"></i><i style="background:linear-gradient(90deg,#4746eb 0px,#4745e9 7px,#422ebf 19px,#4230c3 26px,#4746ea 37px,#4744e8 44px,#4331c8 54px,#4433cc 63px,#484bee 75px,#4742e6 82px,#422fc0 93px,#4331c7 100px,#4745e9 110px,#4742e6 117px,#422fc0 128px,#4331c6 135px,#4848ec 147px,#4745e9 154px,#4230c4 164px,#4332c9 173px,#4849ed 184px,#4743e7 191px,#4330c5 201px,#4331c7 208px,#4848ec 220px,#4743e7 227px,#4230c4 237px,#4230c4 246px,#4747eb 257px,#4743e7 264px,#4332c9 275px,#4434ce 283px,#4539d9 286px)"></i><i style="background:linear-gradient(90deg,#4848ec 0px,#4747ec 7px,#4433cc 15px,#412dbd 21px,#4433cb 28px,#4747ec 37px,#4746ea 44px,#4332c9 54px,#4434ce 63px,#484df0 75px,#4742e7 82px,#422fc1 93px,#4331c6 99px,#4747eb 110px,#4744e8 117px,#4230c3 127px,#4331c6 134px,#484aee 147px,#4745ea 154px,#4330c5 165px,#4432cb 173px,#484aee 184px,#4744e8 191px,#4330c5 202px,#4331c8 208px,#4848ec 219px,#4747eb 226px,#4331c7 236px,#4331c6 246px,#4747eb 257px,#4745e9 264px,#4332c9 275px,#4332ca 282px,#4538d7 286px)"></i><i style="background:linear-gradient(90deg,#484aee 0px,#4849ed 7px,#4535d2 14px,#412ebd 20px,#4331c8 27px,#4747eb 37px,#4746ea 44px,#4332c9 54px,#4434cf 63px,#484cef 74px,#4848ec 80px,#4332c8 90px,#4230c3 97px,#4848ec 110px,#4747ec 116px,#4331c6 126px,#4331c6 133px,#484bef 147px,#4746ea 154px,#4330c5 165px,#4332c9 172px,#484bee 184px,#4745e9 191px,#4230c3 203px,#4432cb 209px,#484bee 220px,#4848ec 226px,#4332c9 236px,#4331c6 245px,#4849ed 258px,#4742e6 265px,#4331c6 275px,#4331c8 282px,#4537d6 286px)"></i><i style="background:linear-gradient(90deg,#484aed 0px,#4848ec 7px,#4433cd 15px,#412ebe 20px,#4332ca 28px,#4848ec 38px,#4743e7 45px,#4332c9 54px,#4433cd 63px,#484bee 74px,#4743e7 81px,#4330c5 91px,#4331c6 98px,#4848ec 110px,#4849ec 116px,#4332c9 126px,#4332ca 134px,#484bef 147px,#4746ea 154px,#4230c3 166px,#4433cb 173px,#484aee 184px,#4742e6 192px,#4230c4 202px,#4332ca 209px,#4849ed 220px,#4745e9 227px,#4331c7 238px,#4332c9 246px,#4848ec 258px,#4741e5 265px,#422fc2 275px,#4331c7 282px,#4537d6 286px)"></i><i style="background:linear-gradient(90deg,#4747eb 0px,#4746ea 7px,#422ebf 19px,#4230c3 26px,#4747eb 38px,#4741e5 45px,#4331c6 55px,#4433cb 63px,#4848ec 74px,#4741e5 81px,#422fc1 92px,#4331c7 98px,#4849ed 111px,#4747eb 117px,#4433cc 126px,#4433cc 135px,#4849ed 147px,#4746ea 154px,#422fc2 166px,#4332ca 173px,#4849ed 184px,#4741e5 192px,#4230c4 201px,#4332c9 209px,#4848ec 221px,#4741e5 228px,#4330c5 239px,#4433cc 247px,#4746ea 258px,#473fe3 265px,#422fc0 274px,#4330c5 281px,#4537d6 286px)"></i><i style="background:linear-gradient(90deg,#4742e6 0px,#4742e6 7px,#422ebf 20px,#4331c7 27px,#4745e9 37px,#4742e6 44px,#4330c5 55px,#4332c9 63px,#4745e9 74px,#473fe3 81px,#422ebf 92px,#4331c6 98px,#4848ec 111px,#4743e7 118px,#4332cb 128px,#4433cb 136px,#4848ec 148px,#4743e7 155px,#422fc1 165px,#4332c8 173px,#4746ea 184px,#473fe3 192px,#4230c4 201px,#4433cd 211px,#4744e8 221px,#463ee1 228px,#4230c4 239px,#4433cc 247px,#4744e8 258px,#463ddf 265px,#422ec0 274px,#4332c9 282px,#4537d6 286px)"></i><i style="background:linear-gradient(90deg,#473ee1 0px,#463ee1 7px,#422fc0 20px,#4332ca 27px,#4743e7 37px,#463ddf 45px,#422fc2 56px,#4332ca 64px,#4741e6 74px,#463cde 82px,#422ebe 92px,#4331c6 98px,#4745e9 111px,#473fe2 119px,#4331c8 129px,#4332ca 137px,#4744e8 147px,#4743e7 154px,#422ebf 165px,#4332ca 174px,#4742e6 184px,#463ee1 192px,#4230c3 202px,#4434ce 212px,#4741e5 221px,#4639da 229px,#422fc2 239px,#4432cb 247px,#4742e6 257px,#463cdf 264px,#422fc1 275px,#4434cf 284px,#4537d5 286px)"></i><i style="background:linear-gradient(90deg,#463bdc 0px,#463adb 7px,#422fc2 19px,#4332c9 26px,#473fe2 36px,#463bdc 44px,#422ebf 56px,#4331c8 64px,#473fe2 75px,#4539d9 83px,#412dbc 93px,#4433cd 101px,#4742e6 111px,#463bdd 119px,#4230c4 129px,#4331c7 137px,#4741e5 147px,#473fe2 154px,#422ebf 164px,#4331c6 173px,#463ee1 184px,#463adb 193px,#422fc2 203px,#4332c8 211px,#473ee1 221px,#4538d7 229px,#422fc0 240px,#4331c8 247px,#4740e3 256px,#463bde 263px,#4330c5 275px,#4433cd 284px,#4536d3 286px)"></i><i style="background:linear-gradient(90deg,#4538d7 0px,#4537d6 7px,#4230c4 18px,#4332ca 26px,#463bdd 36px,#4536d3 45px,#412dbd 55px,#4332c8 65px,#463cde 77px,#4433cd 86px,#412dbb 94px,#4435d1 103px,#463ee1 111px,#4435d1 120px,#422ec0 130px,#4332c9 138px,#463ee1 146px,#463adb 154px,#412ebe 163px,#422fc1 172px,#463adb 183px,#4535d2 195px,#422ebf 207px,#463cde 222px,#412ebe 242px,#4332cb 249px,#463ee1 257px,#4435d2 266px,#4331c6 282px,#4434ce 286px)"></i><i style="background:linear-gradient(90deg,#4536d3 0px,#4536d3 7px,#4230c4 16px,#4332c9 27px,#4538d7 39px,#412cba 55px,#4639d9 79px,#412dbb 94px,#4332ca 102px,#463adb 110px,#4332c9 120px,#412dbc 131px,#4433cb 139px,#463bdd 146px,#4434cf 155px,#412dbc 164px,#422fc0 173px,#4538d8 183px,#422fc0 203px,#422ebf 210px,#4539d9 221px,#412dbc 243px,#4332ca 250px,#463bdc 257px,#422fc1 280px,#4331c7 286px)"></i><i style="background:linear-gradient(90deg,#4434cf 0px,#4434d0 7px,#422fc2 17px,#4331c8 30px,#4435d0 42px,#412cba 54px,#4434ce 74px,#4536d4 81px,#412dbd 96px,#4434cf 105px,#4536d5 112px,#412cba 128px,#422ec0 136px,#4538d7 146px,#412cba 167px,#4330c5 176px,#4536d4 184px,#412dbc 209px,#4536d3 221px,#412dbb 242px,#4330c5 250px,#4536d4 258px,#412dbc 283px,#422fc0 286px)"></i><i style="background:linear-gradient(90deg,#4433cb 0px,#4332cb 8px,#422ebe 20px,#4332c9 36px,#4332c9 44px,#412cba 54px,#422fc1 67px,#4435d0 81px,#422ebf 99px,#4434cf 111px,#402bb7 130px,#4435d0 147px,#412cba 171px,#4434cf 186px,#412cba 206px,#4434ce 221px,#412dbb 239px,#4330c5 252px,#4332c9 262px,#412cb9 284px,#412dbb 286px)"></i><i style="background:linear-gradient(90deg,#4331c7 0px,#4230c4 10px,#412cba 27px,#4330c5 42px,#412cbb 56px,#4331c7 74px,#4433cb 82px,#412ebe 101px,#4332c9 113px,#402bb7 130px,#4332ca 144px,#422fc1 162px,#402bb7 172px,#4332c9 189px,#412cb9 203px,#422ebf 211px,#4433cb 221px,#412dbc 238px,#422ebe 266px,#412cb9 286px)"></i><i style="background:linear-gradient(90deg,#4230c3 0px,#412dbd 14px,#402ab5 26px,#422fc2 37px,#402bb8 54px,#4331c6 74px,#4331c8 82px,#412cb9 102px,#4230c3 114px,#402bb8 130px,#4331c7 141px,#422fc3 161px,#402ab4 172px,#4230c3 189px,#402bb8 202px,#412ebe 211px,#4332c8 222px,#412dbd 238px,#402bb7 285px,#402bb8 286px)"></i><i style="background:linear-gradient(90deg,#422fc0 0px,#402ab4 19px,#402ab4 27px,#422fc2 35px,#3f29b1 47px,#4331c7 75px,#4230c4 84px,#4029b2 102px,#412dbc 112px,#402bb7 130px,#4330c5 141px,#422fc1 160px,#3f29b1 173px,#422ebe 189px,#402bb6 205px,#4330c5 223px,#412dbc 247px,#402ab3 273px,#402ab5 286px)"></i><i style="background:linear-gradient(90deg,#412ebe 0px,#3f29b1 27px,#422fc1 35px,#3e27aa 46px,#402bb7 62px,#4331c6 82px,#402ab3 96px,#3f29b1 103px,#402cb8 113px,#402bb6 130px,#422ebf 143px,#412dbd 160px,#3f29b0 173px,#412ebe 187px,#402ab5 205px,#422fc1 224px,#412cb8 248px,#402bb6 259px,#402ab3 276px,#402ab3 286px)"></i><i style="background:linear-gradient(90deg,#412dbc 0px,#3f29b0 28px,#412dbc 36px,#3e26a8 46px,#402ab5 60px,#4230c3 78px,#422fc2 88px,#3f28af 99px,#402bb7 113px,#402ab3 129px,#412dbb 159px,#3f29b1 173px,#422ebf 186px,#402ab4 205px,#412dbd 226px,#402ab4 247px,#402bb6 256px,#3f29b2 286px)"></i><i style="background:linear-gradient(90deg,#412cb9 0px,#3f29b0 17px,#3f29b0 30px,#402ab4 37px,#3e26a8 45px,#3f29b2 61px,#4230c4 86px,#3f29b0 97px,#402bb7 114px,#402ab3 129px,#402bb7 163px,#402ab3 175px,#422ebe 187px,#4029b2 207px,#412cba 235px,#4029b2 247px,#3f29b1 286px)"></i><i style="background:linear-gradient(90deg,#402bb8 0px,#3e27ac 16px,#3f28af 37px,#3e26a8 48px,#3f29b0 62px,#422ebf 87px,#3f29b1 96px,#402cb8 107px,#402ab3 128px,#402bb7 164px,#402bb6 178px,#412cba 189px,#3f29b0 209px,#412cb9 236px,#402ab4 249px,#3f29b0 260px,#402ab4 268px,#3f28af 286px)"></i><i style="background:linear-gradient(90deg,#402bb6 0px,#3e27aa 17px,#3f28af 37px,#3e26a8 49px,#3f28ae 63px,#402ab4 78px,#412cb9 88px,#3f29b2 96px,#412cb9 105px,#3f29b1 126px,#402bb7 165px,#402ab5 181px,#402ab5 199px,#3e27ab 208px,#402bb7 227px,#3f28ae 254px,#3f29b2 262px,#3f29b0 271px,#3f28ad 285px,#3f28ad 286px)"></i><i style="background:linear-gradient(90deg,#402ab5 0px,#3e28ac 24px,#3f29b2 36px,#3e27ab 50px,#3f28ae 62px,#3e27a9 72px,#402ab5 87px,#3f29b2 96px,#402cb8 104px,#3f28ad 125px,#3f29b0 135px,#402bb7 165px,#3f29b0 183px,#402ab5 197px,#3e26a8 207px,#402bb7 224px,#3f29b2 234px,#3f29b1 261px,#3f29b0 271px,#3e27ab 281px,#3f28ad 286px)"></i><i style="background:linear-gradient(90deg,#3f29b2 0px,#3e27ac 25px,#3f29b1 36px,#3f28ad 62px,#3e26a8 75px,#3f29b0 89px,#402ab5 104px,#3e27a9 121px,#3f28af 135px,#402ab3 145px,#3f29b2 168px,#3f28ad 183px,#3f29b1 197px,#3e26a8 206px,#402ab5 223px,#3e27ac 233px,#3f28af 271px,#3e27a9 281px,#3e27ab 286px)"></i><i style="background:linear-gradient(90deg,#3f28ad 0px,#3f28ae 16px,#3e27a9 26px,#3f29b1 57px,#3e26a8 71px,#3f29b2 104px,#3e26a9 113px,#3f28ae 136px,#402ab3 147px,#3e27ab 172px,#3f28ad 184px,#3e27ab 199px,#3e28ad 210px,#3f28af 225px,#3e28ad 235px,#3f29b1 262px,#3e26a8 285px,#3e26a8 286px)"></i><i style="background:linear-gradient(90deg,#3e26a8 0px,#3f28ae 15px,#3e26a8 29px,#3f29b1 51px,#3e26a8 78px,#3f29b1 103px,#3e26a8 112px,#3f28ae 138px,#3e27ab 168px,#3e27ab 182px,#3e27ab 196px,#3f28ad 213px,#3e27ab 234px,#3f29b0 262px,#3e26a8 286px)"></i><i style="background:linear-gradient(90deg,#3e26a8 0px,#3e27ab 16px,#3e28ad 33px,#3f28ad 65px,#3e27aa 79px,#3f28af 103px,#3e27aa 113px,#3f28ae 123px,#3e27ac 143px,#3e27ac 183px,#3e28ac 236px,#3f28ad 273px,#3e26a8 286px)"></i><i style="background:linear-gradient(90deg,#3e26a8 0px,#3e27ab 17px,#3e27ac 30px,#3f29af 42px,#3f28ae 68px,#3e28ad 85px,#3f28ae 114px,#3f28ad 122px,#3e27aa 131px,#3f28ae 140px,#3e27a9 152px,#3e28ad 185px,#3e27ab 238px,#3f28ad 274px,#3e27ab 286px)"></i><i style="background:linear-gradient(90deg,#3e26a8 0px,#3e27ab 21px,#3f29b0 33px,#3e27ab 43px,#3f29b0 67px,#3e27ab 86px,#3e28ad 111px,#3f28af 120px,#3e26a8 128px,#3e27ac 140px,#3e28ac 187px,#3e27ac 243px,#3f28ae 274px,#3f28ad 286px)"></i><i style="background:linear-gradient(90deg,#3e26a8 0px,#3e27ab 24px,#3e27ac 40px,#3e27ac 50px,#3f28af 66px,#3e26a8 82px,#3e28ac 111px,#3f29b0 119px,#3e26a8 127px,#3e26a9 232px,#3f28ae 245px,#3e28ac 286px)"></i><i style="background:linear-gradient(90deg,#3e26a8 0px,#3f28ae 23px,#3e27a9 49px,#3f28ae 63px,#3e26a8 81px,#3e28ad 96px,#3e27aa 110px,#3f29b2 118px,#3e26a8 126px,#3e27aa 158px,#3e27ab 224px,#3f28ad 232px,#3e27aa 242px,#3f28ae 252px,#3e27ab 286px)"></i><i style="background:linear-gradient(90deg,#3e28ac 0px,#3e28ac 16px,#3e27ab 27px,#3e28ac 52px,#3e27ab 89px,#3f29b1 96px,#3e26a8 103px,#3f28ae 112px,#3f29b2 119px,#3e26a8 127px,#3e27aa 159px,#3e27a9 191px,#3e27ab 225px,#3f28ae 233px,#3f28ae 242px,#3f28ad 251px,#3e27aa 286px)"></i><i style="background:linear-gradient(90deg,#3f29b2 0px,#3e26a8 14px,#3e27ab 27px,#3e28ac 90px,#3f29b1 97px,#3e26a8 104px,#3f28ae 112px,#3f29b2 119px,#3e26a8 129px,#3e27ac 227px,#3f29b2 241px,#3f29b0 249px,#3e26a8 257px,#3e27a9 286px)"></i><i style="background:linear-gradient(90deg,#402ab4 0px,#3e26a8 11px,#3e27ab 90px,#3f29b1 98px,#3e26a8 105px,#3f28af 113px,#3f28ad 122px,#3e27a9 143px,#3e28ac 234px,#402bb7 245px,#3e26a8 255px,#3e27a9 286px)"></i><i style="background:linear-gradient(90deg,#3f29b1 0px,#3e26a8 12px,#3e28ac 91px,#3f29af 99px,#3e26a9 109px,#3f29b0 118px,#3e26a8 135px,#3e27ab 166px,#3e28ad 234px,#402bb6 245px,#3e26a8 256px,#3e27aa 286px)"></i><i style="background:linear-gradient(90deg,#3f28af 0px,#3e26a9 16px,#3e27aa 58px,#3e27a9 86px,#3e28ac 102px,#3f28ae 120px,#3e26a9 138px,#3f28ae 149px,#3f28ad 167px,#3e26a8 191px,#3f28ad 216px,#3f29b0 238px,#3f29b0 249px,#3e26a8 259px,#3e27ac 286px)"></i><i style="background:linear-gradient(90deg,#3f29b0 0px,#3e26a9 14px,#3e27ac 24px,#3e27ac 38px,#3f28ae 56px,#3e27aa 77px,#3f28af 112px,#3e27ab 136px,#3f28ae 150px,#3e27ac 158px,#3f29b0 166px,#3e26a8 174px,#3e27ab 204px,#402ab3 213px,#3f28ae 233px,#3f28af 252px,#3e26a8 267px,#3f28ae 286px)"></i><i style="background:linear-gradient(90deg,#402ab3 0px,#3e26a9 13px,#3f28ae 23px,#3e27aa 35px,#402ab3 55px,#3e27aa 77px,#3e27ac 86px,#3e28ac 97px,#3e28ad 126px,#3f28af 145px,#3e27aa 158px,#3f29b0 166px,#3e26a8 177px,#3e28ad 205px,#402ab4 213px,#3f29af 231px,#3f29b0 255px,#3e27aa 276px,#3f29b2 286px)"></i><i style="background:linear-gradient(90deg,#402ab3 0px,#3e27ab 13px,#3f29b0 22px,#3e27ab 33px,#402ab5 55px,#402ab3 67px,#3f28ae 79px,#3f29b0 87px,#3f28ae 96px,#3f29b0 131px,#402ab5 140px,#3e27a9 158px,#3f29b0 167px,#3e26a9 189px,#3f28ae 205px,#402ab3 213px,#402ab3 231px,#3f29b0 264px,#3e27ab 275px,#402ab4 286px)"></i><i style="background:linear-gradient(90deg,#3f29b0 0px,#3f28af 13px,#402ab4 22px,#3f29b0 34px,#402ab4 56px,#402ab5 64px,#402cb8 71px,#3f29b1 79px,#402ab4 88px,#3f29b2 111px,#3f28ae 130px,#412cba 138px,#3e27ac 155px,#3f29b1 172px,#3e27ab 187px,#3f28af 204px,#4029b3 224px,#402ab4 240px,#402ab5 255px,#402ab3 265px,#3f29b1 276px,#402ab4 286px)"></i><i style="background:linear-gradient(90deg,#3f28af 0px,#402bb7 24px,#402ab3 46px,#402ab4 55px,#3f29b2 62px,#412dbd 70px,#402ab4 80px,#402ab3 115px,#3f28ae 130px,#412cba 139px,#3f29b2 149px,#402ab4 175px,#3f28ad 186px,#402ab3 204px,#402bb7 228px,#402ab3 253px,#402bb7 264px,#402ab5 286px)"></i><i style="background:linear-gradient(90deg,#3f29b2 0px,#412cb8 30px,#402bb6 45px,#402ab5 54px,#3f29b0 61px,#412ebe 70px,#402bb6 83px,#402bb7 114px,#3f29b1 131px,#412cbb 139px,#402ab4 148px,#402bb6 157px,#402ab4 165px,#412cb9 173px,#3f28af 186px,#402ab3 209px,#402bb7 225px,#402ab5 244px,#402bb6 255px,#402bb6 286px)"></i><i style="background:linear-gradient(90deg,#412cb8 0px,#412cb9 33px,#412cb9 43px,#412cb9 52px,#3f29b2 61px,#412ebe 71px,#402bb6 92px,#412dbb 104px,#402bb6 117px,#402ab5 133px,#402bb7 141px,#402bb6 149px,#412cba 156px,#3f29b2 164px,#412cb8 173px,#3f29b2 187px,#3f29b0 210px,#402bb8 232px,#402bb7 254px,#402bb6 286px)"></i><i style="background:linear-gradient(90deg,#412ebd 0px,#412cba 14px,#412cba 24px,#412cb9 34px,#412dbd 43px,#412cba 52px,#402ab5 62px,#422ebe 74px,#402ab5 91px,#422fc1 100px,#402bb7 136px,#402bb6 149px,#412cb8 158px,#402ab4 167px,#402bb7 187px,#3f29b1 214px,#402bb6 231px,#402bb6 251px,#402ab4 286px)"></i><i style="background:linear-gradient(90deg,#412ebe 0px,#422ebe 12px,#402ab5 22px,#412cb9 35px,#422ebf 48px,#402ab3 62px,#422fc1 76px,#402ab4 91px,#422fc1 100px,#402bb8 130px,#412cb9 152px,#402ab5 163px,#402ab5 180px,#422ebf 191px,#3f29af 209px,#402bb8 229px,#3f29b1 246px,#402bb7 263px,#3f29b2 286px)"></i><i style="background:linear-gradient(90deg,#412cba 0px,#422ec0 11px,#4029b2 22px,#422ebf 47px,#3f29b0 63px,#4331c5 76px,#3f29b1 91px,#412dbd 101px,#412dbc 127px,#402bb6 137px,#412dbb 162px,#402ab3 174px,#4330c5 191px,#3f29b0 209px,#412dbc 226px,#3f29b0 244px,#402bb7 262px,#3f29b1 286px)"></i><i style="background:linear-gradient(90deg,#402ab5 0px,#422ebe 10px,#3f29b0 24px,#412dbc 38px,#422fc2 45px,#3f29b0 57px,#3f29b1 66px,#4331c8 75px,#412ebe 83px,#3f28af 91px,#402bb8 104px,#422fc1 121px,#402ab3 135px,#412ebe 162px,#402bb6 174px,#4332c9 190px,#3f29af 209px,#412ebe 224px,#402ab3 236px,#3f29b1 245px,#402bb7 261px,#3f28af 275px,#3f29b1 286px)"></i><i style="background:linear-gradient(90deg,#3f29b0 0px,#412dbb 10px,#3f28ad 24px,#402ab3 34px,#4230c4 43px,#3f28ae 54px,#3f28ae 65px,#4331c7 75px,#412dbc 84px,#3f28af 93px,#422fc0 120px,#3f29b0 134px,#422fc1 161px,#402bb8 175px,#4331c7 190px,#3e27ab 209px,#422ebf 223px,#402ab4 235px,#3f28ad 242px,#402bb7 259px,#3e27aa 272px,#3f28af 286px)"></i><i style="background:linear-gradient(90deg,#3f29af 0px,#412cb8 9px,#3e27ab 25px,#3f29b2 34px,#422fc1 43px,#3e27ac 55px,#3f29b0 65px,#4230c3 74px,#402ab3 88px,#4029b3 101px,#412dbc 121px,#3f28af 135px,#422fc1 160px,#402bb7 176px,#422fc0 190px,#3e26a8 207px,#3f29af 214px,#422ebf 222px,#402bb6 234px,#3e27ab 242px,#402ab3 259px,#3e26a8 272px,#3e28ad 286px)"></i><i style="background:linear-gradient(90deg,#3f29b1 0px,#402ab5 10px,#3e27a9 28px,#412dbb 43px,#3e27a9 60px,#422ec0 73px,#3f29b0 98px,#412cb9 120px,#3f29b0 139px,#412dbd 159px,#402ab5 175px,#402cb8 189px,#3e26a8 203px,#3e27ab 214px,#412ebe 223px,#402bb7 234px,#3e27ab 243px,#3f28af 263px,#3e27ac 286px)"></i><i style="background:linear-gradient(90deg,#402ab3 0px,#3f29b1 14px,#3e27aa 29px,#402bb7 47px,#3e26a8 60px,#412dbc 72px,#3f29b1 100px,#412cba 115px,#3f29b2 142px,#402bb8 158px,#3f29af 171px,#402ab4 187px,#3e26a8 200px,#3f28ad 216px,#422fc1 228px,#3e27ac 244px,#3f28ae 269px,#3e28ad 286px)"></i><i style="background:linear-gradient(90deg,#402ab4 0px,#3f28ad 20px,#3f28ae 33px,#402bb6 50px,#3e26a8 59px,#402bb7 72px,#402ab3 103px,#412dbd 114px,#3f29b1 140px,#402ab3 157px,#3e26a9 168px,#3f29b1 185px,#3e26a8 200px,#3f28ae 218px,#4230c4 229px,#3f28ad 245px,#3f29b0 259px,#402ab3 267px,#3f28ad 286px)"></i><i style="background:linear-gradient(90deg,#402ab5 0px,#3f29af 31px,#402bb7 50px,#3e27aa 60px,#402ab6 80px,#3f29b1 103px,#412ebe 115px,#4029b3 131px,#3f28ae 157px,#3e27a9 171px,#3f28af 187px,#3e26a9 206px,#3f28ae 214px,#4029b3 221px,#4230c4 229px,#3f28ae 247px,#3f29b0 258px,#402bb6 265px,#3f28ae 274px,#3f28ad 286px)"></i><i style="background:linear-gradient(90deg,#402ab5 0px,#402ab3 30px,#402bb8 48px,#3e28ac 61px,#402ab3 86px,#3f29b1 103px,#422ec0 115px,#3f28af 131px,#3f28ad 156px,#3f28ad 173px,#3f28af 195px,#3e27aa 205px,#402ab3 213px,#3f28af 220px,#422ec0 229px,#3f28ae 252px,#402bb6 265px,#3e28ac 274px,#3f28ad 286px)"></i><i style="background:linear-gradient(90deg,#402ab4 0px,#402bb8 36px,#402bb6 48px,#3f28af 65px,#402ab5 91px,#402ab3 102px,#422ec0 116px,#3e28ac 130px,#402ab3 143px,#3f29af 182px,#3f29b2 195px,#3e27ab 204px,#402ab5 213px,#3f29b1 221px,#402bb7 232px,#402ab4 243px,#402ab3 259px,#3f29b1 268px,#3f28ad 277px,#3f28ad 286px)"></i><i style="background:linear-gradient(90deg,#3f29b1 0px,#402bb6 30px,#402bb8 45px,#3f29b2 62px,#412cb9 103px,#412dbd 117px,#3e28ac 129px,#402ab5 141px,#3f29b0 178px,#402ab3 195px,#3f29b0 206px,#3f29b1 217px,#402bb8 237px,#402ab3 262px,#3f28af 279px,#3f28ad 286px)"></i><i style="background:linear-gradient(90deg,#3f28af 0px,#402ab4 16px,#3f29b0 28px,#412cb9 42px,#402ab4 57px,#412dbb 101px,#402cb8 119px,#3f28af 129px,#402bb7 140px,#3f29b0 164px,#402ab3 179px,#402ab3 195px,#402bb7 236px,#402bb7 247px,#3f29b0 261px,#3f28af 286px)"></i><i style="background:linear-gradient(90deg,#3f28ae 0px,#402bb6 14px,#3f28af 28px,#412dbb 41px,#402ab5 56px,#402bb6 86px,#402bb8 98px,#412dbc 107px,#402ab3 123px,#412cb9 139px,#3f29b0 151px,#402ab5 179px,#402bb6 194px,#412cb8 235px,#402ab3 248px,#3f28ae 260px,#402bb6 283px,#402ab4 286px)"></i><i style="background:linear-gradient(90deg,#3f28ad 0px,#402bb8 13px,#402ab3 29px,#412dbd 41px,#402bb6 57px,#412cb9 76px,#402ab3 96px,#412dbb 107px,#402bb7 123px,#402bb7 140px,#3f29b0 157px,#402bb8 195px,#402bb8 230px,#402ab5 242px,#3e27ac 254px,#412dbd 282px,#412cba 286px)"></i><i style="background:linear-gradient(90deg,#3f28ad 0px,#412cba 13px,#412cb9 30px,#412dbd 43px,#3f29b1 70px,#402cb8 81px,#3f29b0 95px,#412dbb 108px,#412cba 122px,#402ab3 166px,#402cb8 196px,#402bb8 230px,#402ab5 238px,#3e27aa 251px,#422fc2 280px,#412ebe 286px)"></i><i style="background:linear-gradient(90deg,#3f28af 0px,#412dbd 13px,#412dbc 30px,#412cbb 46px,#3f28ad 68px,#412cb9 79px,#3f29b1 94px,#412dbd 119px,#402ab4 134px,#402bb8 157px,#402bb7 169px,#402bb7 224px,#402ab5 237px,#3e27aa 249px,#4230c3 278px,#412ebe 286px)"></i><i style="background:linear-gradient(90deg,#402ab4 0px,#412dbd 15px,#412dbc 44px,#3f28ae 67px,#402bb8 80px,#402bb6 103px,#402bb8 122px,#402ab3 134px,#412ebd 154px,#402bb8 169px,#412dbb 217px,#402ab4 238px,#3f29af 251px,#412dbc 262px,#422fc0 280px,#412dbc 286px)"></i><i style="background:linear-gradient(90deg,#412cb9 0px,#412dbc 43px,#402ab5 67px,#402bb8 94px,#402ab5 104px,#402ab5 123px,#402ab5 135px,#422fc0 158px,#412dbc 170px,#402bb7 188px,#402bb7 225px,#402ab4 252px,#422fc1 261px,#412dbd 270px,#412dbb 286px)"></i><i style="background:linear-gradient(90deg,#412dbc 0px,#412ebe 68px,#412cb9 81px,#422ebe 91px,#402ab3 102px,#402bb6 119px,#402ab3 132px,#412dbb 142px,#4230c3 158px,#422ebf 178px,#402bb8 195px,#402bb6 226px,#402bb7 252px,#4330c5 260px,#412dbd 270px,#412ebe 286px)"></i><i style="background:linear-gradient(90deg,#412dbc 0px,#412dbb 13px,#412cba 28px,#412cba 48px,#4330c5 68px,#412cb9 80px,#422fc2 90px,#402ab5 103px,#3f29b0 122px,#3f29b1 131px,#422ebf 139px,#412dbb 148px,#4230c3 158px,#412dbc 188px,#412cb9 217px,#402bb7 251px,#4332c9 261px,#422ebf 276px,#4331c6 286px)"></i><i style="background:linear-gradient(90deg,#412dbd 0px,#412dbc 12px,#402bb6 25px,#422ebf 33px,#402bb6 44px,#4332ca 62px,#422fc1 76px,#4230c4 85px,#402ab4 113px,#3f28af 129px,#422ec0 138px,#412cb8 147px,#422fc1 156px,#422fc2 182px,#412dbb 198px,#402bb7 215px,#402bb8 234px,#422ebf 254px,#4433cd 263px,#422ebf 278px,#4434cf 286px)"></i><i style="background:linear-gradient(90deg,#422fc1 0px,#412cbb 10px,#402ab3 24px,#4330c5 32px,#412cb9 43px,#4433cd 67px,#4332c8 84px,#402bb6 106px,#3f29b2 129px,#422ebf 138px,#402bb6 146px,#422fc1 154px,#422ebf 166px,#412ebe 174px,#4230c4 182px,#4230c3 188px,#412cb8 195px,#402bb6 206px,#402ab5 214px,#4230c4 232px,#412dbd 242px,#4330c5 257px,#4435d1 266px,#412ebe 277px,#4537d5 286px)"></i><i style="background:linear-gradient(90deg,#4332c9 0px,#412cba 10px,#402ab5 24px,#4331c7 32px,#422ebf 53px,#4434cf 68px,#4433cd 82px,#4331c5 93px,#402bb7 103px,#412dbd 112px,#402ab5 129px,#422ec0 138px,#402ab4 145px,#4230c4 154px,#422fc0 165px,#422ec0 172px,#412dbb 178px,#4332c9 185px,#402ab5 194px,#412dbc 202px,#402ab3 212px,#4434d0 231px,#422ebf 245px,#4332c8 260px,#4536d4 268px,#422fc1 277px,#4537d6 286px)"></i><i style="background:linear-gradient(90deg,#4536d3 0px,#412dbc 10px,#412dbb 24px,#422fc2 33px,#4332ca 46px,#422ebf 55px,#4435d0 69px,#4331c8 78px,#4434cf 87px,#412ebd 102px,#4332cb 110px,#402ab4 128px,#4230c3 138px,#402bb6 146px,#4332c9 155px,#4331c6 170px,#412cb9 177px,#4230c4 185px,#3f29b2 193px,#412ebe 201px,#402ab5 211px,#4537d5 229px,#422fc0 246px,#4433cc 262px,#4537d6 269px,#4331c6 278px,#4536d4 286px)"></i><i style="background:linear-gradient(90deg,#4639da 0px,#422fc1 10px,#422fc2 21px,#422fc1 30px,#412dbd 36px,#4535d2 44px,#422fc0 57px,#4434d0 68px,#422fc1 77px,#4433cd 87px,#4331c8 101px,#4537d5 110px,#4332ca 119px,#402ab3 127px,#412dbc 134px,#4230c4 139px,#412cba 146px,#4434cf 157px,#4433cc 169px,#412dbb 177px,#412cba 185px,#3f29b0 192px,#422ebe 200px,#402ab3 208px,#4435d1 227px,#4230c4 248px,#4537d6 270px,#4433cc 280px,#4435d2 286px)"></i><i style="background:linear-gradient(90deg,#4537d6 0px,#4330c5 11px,#4331c6 20px,#4332c9 27px,#402bb6 35px,#4435d1 44px,#412dbc 60px,#4332c8 68px,#412dbc 77px,#4537d6 105px,#4536d4 118px,#402ab3 127px,#412dbb 135px,#412ebe 142px,#422ec0 149px,#4536d4 162px,#4331c7 171px,#3e28ac 189px,#422ebe 199px,#3f29b1 207px,#4331c7 220px,#4331c7 235px,#4434ce 255px,#4536d4 270px,#4434cf 286px)"></i><i style="background:linear-gradient(90deg,#4230c3 0px,#422fc2 15px,#4230c4 22px,#4332c9 28px,#3f29b1 35px,#4433cc 44px,#402ab5 60px,#422fc1 70px,#412dbc 82px,#4537d6 101px,#4433cd 109px,#4538d7 117px,#402bb6 127px,#402bb8 141px,#422ebf 153px,#4434cf 163px,#3f28af 181px,#3e26a8 186px,#402bb6 193px,#412dbd 200px,#402ab4 208px,#4331c6 218px,#402cb8 231px,#4434cd 240px,#4332cb 254px,#4538d7 262px,#4332ca 286px)"></i><i style="background:linear-gradient(90deg,#3e26a8 0px,#402ab5 5px,#4331c6 11px,#402bb6 21px,#4331c7 27px,#3f29af 35px,#4331c6 45px,#3f29b1 61px,#4230c3 72px,#402bb8 83px,#4435d0 100px,#422ebe 108px,#4435d0 117px,#402bb8 126px,#422ebe 134px,#3f28ae 142px,#4230c3 161px,#422fc2 168px,#3e28ac 179px,#3e27a9 189px,#412dbc 196px,#402bb8 205px,#402bb7 211px,#4230c3 220px,#402bb6 227px,#3f28af 231px,#4434cf 239px,#4332ca 247px,#422ebf 254px,#4535d2 263px,#4230c3 285px,#4230c4 286px)"></i><i style="background:linear-gradient(90deg,#3e26a8 0px,#3e26a8 4px,#4330c5 10px,#4230c4 15px,#3f29b2 21px,#4230c4 28px,#402bb6 35px,#4331c6 44px,#412cb9 59px,#4331c8 74px,#412cb8 90px,#4332c9 99px,#402bb7 108px,#4433cc 118px,#412cb8 125px,#4332c9 133px,#3f29b0 141px,#412dbb 152px,#412dbd 160px,#422ebf 167px,#3e27ab 180px,#3e27aa 187px,#422ebf 193px,#412dbc 204px,#402ab5 210px,#4331c6 221px,#412ebe 226px,#3f28af 231px,#4536d3 239px,#4433cd 247px,#402bb7 256px,#4434ce 265px,#422ebf 281px,#4230c4 286px)"></i><i style="background:linear-gradient(90deg,#3e26a8 0px,#3e28ac 4px,#4331c7 13px,#412cb9 22px,#4331c6 29px,#422fc2 36px,#4331c8 44px,#412ebe 52px,#4332ca 73px,#422fc1 84px,#3f29af 90px,#422fc2 100px,#412dbc 110px,#4433cb 118px,#402bb6 125px,#4434cf 133px,#412cba 142px,#4330c5 150px,#422fc1 159px,#422fc1 165px,#402ab4 172px,#412dbc 179px,#402bb6 185px,#4332ca 192px,#412cbb 209px,#4435d0 221px,#4331c8 226px,#402ab5 231px,#4230c4 235px,#4538d7 240px,#4434d0 250px,#412cb9 257px,#4434ce 266px,#422ebf 277px,#4230c3 286px)"></i><i style="background:linear-gradient(90deg,#3f29b0 0px,#4230c4 17px,#422fc3 24px,#4332cb 30px,#4331c7 38px,#4332c8 45px,#422fc2 52px,#4332ca 65px,#422ebf 80px,#412cb9 85px,#3e27aa 91px,#422fc0 104px,#4331c6 118px,#3f28ad 125px,#412ebe 130px,#4433cb 135px,#422fc2 142px,#4332cb 150px,#4230c3 158px,#4230c3 164px,#3f29b2 170px,#4331c8 179px,#422fc0 185px,#4435d1 192px,#422ec0 205px,#4537d5 223px,#402bb7 231px,#422fc3 235px,#4537d6 240px,#4537d6 251px,#422fc0 259px,#4435d1 267px,#412cb8 279px,#412cb9 286px)"></i><i style="background:linear-gradient(90deg,#422ebe 0px,#412dbd 12px,#4330c5 20px,#4434ce 31px,#4331c7 38px,#4433cd 45px,#4332ca 53px,#4332c9 66px,#422ebf 74px,#402ab4 80px,#402ab5 93px,#4331c7 116px,#3e26a8 125px,#3f29b2 129px,#4332c8 135px,#4434ce 150px,#422fc2 157px,#4330c4 164px,#402bb6 170px,#4434cf 178px,#4230c4 185px,#4537d5 192px,#422fc2 203px,#4434ce 214px,#4435d1 224px,#402bb7 231px,#422fc0 235px,#4537d5 241px,#4538d8 252px,#4331c7 260px,#4536d3 268px,#3e28ad 280px,#3e26a8 286px)"></i><i style="background:linear-gradient(90deg,#4330c5 0px,#4230c4 8px,#4331c6 20px,#4434cf 31px,#4331c8 39px,#4434cf 46px,#4435d1 54px,#4331c7 72px,#402ab4 80px,#4230c3 96px,#402bb7 104px,#4433cc 114px,#412cba 120px,#3e26a8 125px,#412dbb 131px,#4331c7 138px,#4332ca 151px,#422ebe 158px,#4230c4 165px,#422fc1 171px,#4435d1 178px,#4230c3 185px,#4536d3 192px,#422fc0 203px,#4434ce 212px,#4332ca 219px,#4332c9 225px,#402bb7 232px,#4537d6 245px,#4435d0 254px,#4230c3 260px,#4435d0 269px,#3e26a8 280px,#3e26a8 286px)"></i><i style="background:linear-gradient(90deg,#422fc2 0px,#4332c9 7px,#412cba 18px,#4332ca 28px,#4230c4 41px,#4433cd 52px,#4537d6 58px,#412dbb 84px,#4332c9 95px,#3f28ad 103px,#422fc1 109px,#4433cc 114px,#3e26a8 123px,#3e27ab 127px,#412dbd 133px,#412dbc 145px,#4230c3 151px,#402ab5 159px,#4434ce 174px,#4332c9 180px,#412ebe 185px,#4332ca 192px,#412cba 202px,#4332c9 212px,#422ec0 221px,#3f29b2 233px,#4536d4 247px,#4330c5 254px,#402ab3 260px,#4331c7 270px,#3e26a8 282px,#3e26a8 286px)"></i><i style="background:linear-gradient(90deg,#412ebe 0px,#422fc2 7px,#402ab4 15px,#4331c7 31px,#422ebf 42px,#4332ca 51px,#4538d8 57px,#4433cc 67px,#4434ce 77px,#422ec0 87px,#4433cc 95px,#3f28af 103px,#412dbc 108px,#4434ce 113px,#4230c4 117px,#3e27ab 123px,#422fc0 132px,#3f29b1 143px,#4230c4 151px,#402ab4 160px,#4434ce 171px,#4330c5 187px,#4330c5 193px,#402bb6 200px,#4433cc 212px,#402ab3 226px,#412cba 239px,#4536d3 247px,#4331c7 252px,#3e27ac 259px,#402ab5 266px,#412ebe 273px,#402bb8 281px,#3e26a8 286px)"></i><i style="background:linear-gradient(90deg,#412dbc 0px,#402bb6 7px,#3e28ad 12px,#422fc3 22px,#4330c5 35px,#412ebe 41px,#4435d1 52px,#4639d9 57px,#4332cb 64px,#463adb 74px,#422fc1 88px,#4434cf 96px,#412cba 105px,#4434cf 114px,#412cb9 123px,#4332ca 133px,#402ab4 143px,#4433cc 151px,#412cbb 162px,#4433cc 171px,#4331c6 179px,#4435d1 190px,#402bb6 200px,#4330c5 207px,#4536d2 213px,#412dbd 219px,#3f28ae 224px,#4330c4 232px,#412cba 239px,#4435d1 247px,#4330c5 252px,#402ab3 258px,#402ab3 269px,#4332ca 280px,#412cba 286px)"></i><i style="background:linear-gradient(90deg,#402bb6 0px,#3f28ad 7px,#3e27ab 13px,#422fc2 19px,#4330c5 35px,#412dbd 42px,#4332ca 51px,#4537d6 56px,#4331c6 64px,#4639da 72px,#4332ca 83px,#4230c4 89px,#4434cf 97px,#4230c3 106px,#4434ce 115px,#422fc1 124px,#4433cb 135px,#3f29b2 143px,#4435d0 151px,#4230c4 157px,#412cb9 162px,#4331c8 170px,#412ebd 177px,#4537d6 188px,#422fc2 196px,#412dbc 203px,#4435d0 212px,#422fc0 217px,#3e26a8 222px,#3f28af 226px,#4332cb 231px,#422fc3 235px,#402bb6 239px,#4435d0 248px,#412cba 258px,#3e27ab 268px,#4230c3 275px,#4434ce 279px,#412dbc 286px)"></i><i style="background:linear-gradient(90deg,#3f28ae 0px,#3e27aa 12px,#422fc1 19px,#412dbc 29px,#4331c8 35px,#422ebf 45px,#4433cb 57px,#412dbc 63px,#4536d4 73px,#4332c9 89px,#4433cd 96px,#4331c7 105px,#4435d1 113px,#4331c6 122px,#4230c4 132px,#4230c4 137px,#3f29b0 143px,#422ebf 147px,#4435d1 151px,#4332ca 156px,#412cba 162px,#4330c5 170px,#412cb9 177px,#4536d4 189px,#422fc1 203px,#4434cf 211px,#412ebd 216px,#3e26a8 220px,#3e27aa 226px,#4331c8 231px,#422ec0 235px,#3f29b0 239px,#412dbc 243px,#4434cf 248px,#402ab4 263px,#3e27aa 268px,#422fc1 275px,#4332c9 279px,#402ab4 286px)"></i><i style="background:linear-gradient(90deg,#3f28af 0px,#402bb6 13px,#412dbd 20px,#3f29b2 28px,#4332ca 35px,#412dbb 59px,#402ab5 65px,#4434d0 74px,#4332c9 88px,#4433cc 94px,#412dbb 101px,#4536d4 112px,#4330c5 120px,#422fc0 126px,#412cb8 132px,#422fc0 138px,#402cb8 144px,#4536d4 152px,#422fc3 163px,#4331c6 169px,#402bb6 176px,#4435d0 191px,#4331c6 205px,#4332ca 212px,#3e26a8 219px,#3e26a8 227px,#422fc1 232px,#3f28ae 240px,#4433cd 248px,#412dbd 261px,#3e27a9 267px,#402ab5 273px,#422fc2 279px,#402ab4 286px)"></i><i style="background:linear-gradient(90deg,#412dbd 0px,#412dbb 19px,#3e27ab 27px,#422fc0 32px,#4433cb 36px,#4330c5 48px,#412dbb 55px,#3f29b1 66px,#4433cc 74px,#422ebe 85px,#4332cb 92px,#3f28af 100px,#412cba 105px,#4435d2 111px,#412cb9 126px,#3e28ad 131px,#4331c7 140px,#4435d0 149px,#4536d3 156px,#4331c7 169px,#3f29b2 175px,#4332c9 185px,#422fc2 214px,#3e26a8 221px,#3e27ab 229px,#412dbc 233px,#402bb6 241px,#4433cb 249px,#4230c3 260px,#3e26a8 266px,#3f28af 272px,#4230c4 280px,#422fc2 286px)"></i><i style="background:linear-gradient(90deg,#463ee1 0px,#4331c6 24px,#4230c4 28px,#463bdd 35px,#463adb 43px,#4537d6 49px,#4435d0 54px,#4536d4 60px,#4332c8 66px,#463adb 74px,#4331c8 83px,#4539d9 91px,#422fc1 101px,#4435d1 107px,#463bdd 112px,#4435d1 124px,#412dbd 131px,#4434cf 136px,#473fe2 141px,#463de0 167px,#422fc1 175px,#463de0 184px,#4536d4 200px,#4434ce 217px,#3f29b2 225px,#412dbd 229px,#4537d6 234px,#4536d4 244px,#463adb 259px,#402bb8 267px,#4230c4 272px,#463bdc 279px,#463ee1 286px)"></i><i style="background:linear-gradient(90deg,#4743e7 0px,#4536d3 17px,#4536d4 29px,#463de0 35px,#4639d9 43px,#4537d6 49px,#4536d4 54px,#463cdf 60px,#4536d4 68px,#4639da 75px,#4331c8 83px,#463ada 91px,#4433cb 103px,#4538d8 114px,#4639da 123px,#4230c3 131px,#4435d1 136px,#4742e6 142px,#4740e4 154px,#4740e4 163px,#4538d8 169px,#422ebf 175px,#4433cd 179px,#473fe2 184px,#4536d4 199px,#4537d5 208px,#4332ca 220px,#412ebe 227px,#463bdd 235px,#4434cf 247px,#463ee0 258px,#4433cb 263px,#412dbc 267px,#4433cc 272px,#463ddf 278px,#4741e5 286px)"></i><i style="background:linear-gradient(90deg,#463adc 0px,#4434cf 16px,#463ddf 35px,#4536d3 42px,#4434d0 49px,#4434cf 54px,#463ddf 61px,#4538d8 70px,#4537d6 78px,#4435d0 84px,#463cde 91px,#4434ce 108px,#4536d3 117px,#463adc 123px,#4433cb 133px,#4743e7 145px,#4740e4 154px,#4740e4 161px,#4433cc 170px,#412dbc 175px,#4433cb 180px,#463bdd 185px,#4538d7 199px,#4538d7 207px,#4332c9 224px,#4536d4 231px,#463adc 236px,#422ebe 246px,#4332ca 251px,#463cdf 257px,#4536d2 262px,#4230c4 267px,#463adb 276px,#463cde 286px)"></i><i style="background:linear-gradient(90deg,#4230c3 0px,#4434ce 13px,#4435d1 20px,#463de0 34px,#4331c8 53px,#463bdc 62px,#4639da 74px,#463ee1 88px,#4639d9 99px,#4332ca 114px,#463adb 127px,#4536d3 138px,#4743e7 147px,#473ee2 160px,#422ebf 176px,#4537d6 189px,#463bde 206px,#4332cb 217px,#4639da 230px,#4536d3 238px,#412cba 245px,#422fc2 250px,#4639da 256px,#4536d4 267px,#4639d9 275px,#4537d5 286px)"></i><i style="background:linear-gradient(90deg,#3f29b2 0px,#4433cc 10px,#422fc0 19px,#4639d9 31px,#4433cd 45px,#412dbc 51px,#4536d4 62px,#4536d3 75px,#463cde 92px,#4332c8 107px,#4331c6 121px,#463bdd 129px,#4434ce 135px,#4331c8 139px,#473fe3 147px,#463bdd 158px,#4330c5 167px,#422fc2 186px,#463cde 198px,#463adb 207px,#4331c6 216px,#463bdd 227px,#412dbc 246px,#4435d1 258px,#4537d6 271px,#4332cb 279px,#4434cf 286px)"></i><i style="background:linear-gradient(90deg,#412cba 0px,#4332ca 10px,#412ebd 18px,#4435d1 31px,#4434cf 43px,#402bb7 51px,#4433cd 63px,#4639d9 91px,#4331c7 104px,#4331c7 122px,#463cde 130px,#4230c4 139px,#463bde 150px,#4433cc 162px,#4230c3 170px,#4230c4 179px,#412dbc 187px,#463adb 197px,#4538d8 208px,#4330c5 216px,#4639d9 227px,#4331c5 239px,#4332c8 250px,#4537d6 268px,#4331c7 277px,#4434cf 286px)"></i><i style="background:linear-gradient(90deg,#4537d5 0px,#4536d3 14px,#4538d8 30px,#4538d8 44px,#4332c8 53px,#463ddf 75px,#4639da 95px,#4537d6 112px,#473fe3 132px,#4537d6 142px,#463cde 154px,#4538d7 171px,#4536d3 181px,#4435d0 189px,#463ee1 198px,#463ada 212px,#4538d8 221px,#4639d9 231px,#463ada 251px,#463bdd 268px,#4538d8 279px,#463adb 286px)"></i><i style="background:linear-gradient(90deg,#4740e3 0px,#463bdc 47px,#4538d8 56px,#4742e6 77px,#463ee1 113px,#4743e7 133px,#463de0 145px,#473ee2 163px,#463adb 185px,#4742e6 202px,#463ee1 237px,#4741e4 269px,#4740e4 286px)"></i><i style="background:linear-gradient(90deg,#4742e6 0px,#4742e6 26px,#463bdd 42px,#463cdf 51px,#463adc 61px,#4849ed 74px,#4741e5 88px,#4742e6 99px,#473fe2 119px,#4746ea 133px,#463bdd 143px,#4745e9 156px,#463ee1 172px,#463adb 189px,#4849ed 200px,#4740e4 221px,#463ddf 234px,#4746ea 244px,#4744e8 261px,#4744e8 275px,#4742e6 285px,#4743e7 286px)"></i><i style="background:linear-gradient(90deg,#463bdc 0px,#4849ed 10px,#473fe2 25px,#473fe2 32px,#4230c3 39px,#4332c9 42px,#473ee1 47px,#463cde 52px,#4331c8 59px,#4536d4 64px,#4849ed 71px,#4746ea 78px,#4538d7 86px,#4747eb 94px,#463adc 101px,#4538d8 107px,#4537d6 114px,#4433cc 120px,#4746ea 130px,#463de0 136px,#4433cd 142px,#4744e9 153px,#463ee1 161px,#4435d1 169px,#4536d4 178px,#4331c7 187px,#4848ec 197px,#4744e8 205px,#4639d9 215px,#463cdf 223px,#4433cc 231px,#4849ed 242px,#463adb 257px,#484bef 270px,#473ee1 277px,#4537d5 282px,#463ee1 286px)"></i><i style="background:linear-gradient(90deg,#4744e8 0px,#484bef 11px,#4744e8 25px,#4742e6 33px,#4435d1 40px,#4744e8 48px,#4639da 61px,#484bef 74px,#463ee1 87px,#484aee 95px,#463de0 106px,#463ddf 115px,#463bdc 122px,#484aee 131px,#463ada 142px,#4747eb 155px,#463bdd 171px,#4538d7 188px,#484bef 198px,#463ee1 215px,#4741e4 224px,#4639da 232px,#484bef 243px,#4741e4 257px,#484cf0 272px,#463adc 283px,#473fe2 286px)"></i><i style="background:linear-gradient(90deg,#4756f6 0px,#484df0 23px,#484aee 36px,#484ff2 93px,#484ef1 125px,#484ef1 135px,#484cef 150px,#484bef 192px,#484df1 241px,#484df0 277px,#4745e9 286px)"></i><i style="background:linear-gradient(90deg,#475bf9 0px,#484ef1 20px,#484ff2 47px,#4851f3 88px,#4853f4 135px,#4850f2 189px,#484ff2 279px,#4849ed 286px)"></i><i style="background:linear-gradient(90deg,#475bfa 0px,#4851f4 25px,#4852f4 48px,#4852f4 79px,#4757f7 111px,#4852f4 141px,#4854f5 220px,#4854f6 274px,#484ff2 286px)"></i><i style="background:linear-gradient(90deg,#4758f8 0px,#4756f7 15px,#484cf0 25px,#475bf9 37px,#4757f7 47px,#484cef 55px,#4851f4 63px,#4849ed 73px,#4755f6 84px,#4850f2 92px,#4759f8 100px,#484ef1 109px,#4759f8 117px,#4851f3 128px,#4759f8 139px,#4849ed 152px,#4759f8 168px,#484ef1 180px,#4854f5 206px,#484ef1 217px,#4854f5 226px,#484ef1 234px,#4759f8 244px,#484bee 259px,#4758f8 286px)"></i><i style="background:linear-gradient(90deg,#475af9 0px,#4466fd 12px,#484aee 24px,#4466fd 35px,#4562fc 46px,#484df0 53px,#4758f8 62px,#4746eb 71px,#465ffb 82px,#484bef 91px,#4561fc 99px,#484aee 109px,#4660fb 117px,#484df0 127px,#4466fd 138px,#4758f8 144px,#4743e7 150px,#484df0 155px,#4465fd 164px,#4562fc 171px,#484cef 178px,#475af9 186px,#4755f6 195px,#475dfa 205px,#484df0 216px,#4758f8 225px,#484df0 232px,#4465fd 242px,#4849ed 257px,#4854f5 275px,#4368fd 286px)"></i><i style="background:linear-gradient(90deg,#406dfe 0px,#3c72ff 12px,#4660fc 24px,#3d70ff 36px,#4369fe 48px,#4563fc 55px,#4269fe 63px,#4660fb 73px,#3e70ff 83px,#4563fd 92px,#3f6dfe 100px,#4660fb 109px,#3e6fff 118px,#4563fc 128px,#3c72ff 140px,#475cfa 151px,#3a73fe 167px,#4661fc 179px,#416bfe 187px,#416bfe 196px,#406dfe 206px,#4562fc 217px,#4368fe 226px,#4564fd 233px,#3a73fe 242px,#4660fc 261px,#416bfe 278px,#3876fe 286px)"></i><i style="background:linear-gradient(90deg,#307ffb 0px,#3678fd 29px,#3678fd 56px,#3678fe 69px,#317efb 83px,#3579fd 110px,#337bfc 124px,#347afd 146px,#3678fd 173px,#3579fd 182px,#317dfc 204px,#327cfc 237px,#317dfc 255px,#3a73fe 265px,#307ffb 286px)"></i><i style="background:linear-gradient(90deg,#3678fd 0px,#347afd 15px,#3f6eff 31px,#3578fd 43px,#406dfe 53px,#327cfc 64px,#4367fd 76px,#317efb 88px,#426afe 99px,#317dfc 111px,#3875fe 132px,#2f81fa 143px,#3e6fff 155px,#317efb 165px,#3e6fff 179px,#307ffb 190px,#337afd 200px,#426afe 207px,#307efb 220px,#3579fd 230px,#3b72ff 237px,#2e85f8 248px,#2f80fa 255px,#4564fd 263px,#3b72ff 269px,#307ffb 275px,#317dfc 286px)"></i><i style="background:linear-gradient(90deg,#416bfe 0px,#347afd 13px,#4660fc 29px,#3777fe 41px,#4561fc 52px,#3975fe 60px,#3578fd 65px,#4758f8 74px,#475af9 79px,#3777fe 87px,#406dfe 92px,#475cfa 97px,#4367fd 102px,#337bfd 109px,#3a74fe 120px,#416bfe 130px,#3080fa 142px,#3b72fe 148px,#4563fc 154px,#317dfc 164px,#4465fd 178px,#317efb 191px,#3875fe 199px,#475cfa 205px,#465efb 209px,#317efb 218px,#327cfc 227px,#4465fd 235px,#3a74fe 241px,#2e84f9 247px,#2f81fa 254px,#4660fb 260px,#4854f5 264px,#3f6fff 270px,#317efb 275px,#337bfc 285px,#3578fd 286px)"></i><i style="background:linear-gradient(90deg,#3b72fe 0px,#327bfc 13px,#406cfe 30px,#3579fd 43px,#3f6efe 54px,#337afd 65px,#4367fd 77px,#327cfc 89px,#426afe 98px,#337afd 110px,#3876fe 134px,#317dfc 144px,#3f6eff 155px,#327cfc 165px,#3b72fe 180px,#317dfc 192px,#3e70ff 203px,#406dfe 209px,#307efb 220px,#3777fe 231px,#3c71ff 238px,#2f82fa 248px,#3777fe 257px,#4464fd 264px,#337bfd 277px,#3678fd 286px)"></i><i style="background:linear-gradient(90deg,#3f6efe 0px,#3a74fe 13px,#3f6eff 31px,#3f6eff 49px,#3f6efe 71px,#3d70ff 83px,#3a73fe 92px,#3e6fff 102px,#3c71ff 128px,#3d71ff 162px,#3c72ff 194px,#3e70ff 236px,#3b72ff 255px,#416bfe 270px,#3f6eff 286px)"></i><i style="background:linear-gradient(90deg,#475bf9 0px,#4367fd 11px,#475bf9 28px,#4464fd 40px,#4757f7 54px,#465efb 65px,#4755f6 76px,#4562fc 88px,#475bf9 98px,#4759f8 107px,#475bf9 114px,#4466fd 123px,#475af9 139px,#465ffb 157px,#4759f9 171px,#4269fe 186px,#465dfb 199px,#4466fd 211px,#465dfa 226px,#4563fc 235px,#465efb 245px,#4660fb 260px,#475bfa 271px,#4758f8 286px)"></i><i style="background:linear-gradient(90deg,#484cf0 0px,#465efb 8px,#4757f7 19px,#4849ed 26px,#465efb 38px,#4854f5 46px,#4743e7 52px,#4854f5 62px,#463cde 74px,#4853f5 85px,#4745ea 95px,#484ef1 103px,#463cde 110px,#4850f3 116px,#465efb 122px,#484cef 132px,#4743e7 138px,#4759f8 150px,#4850f3 159px,#463de0 167px,#4852f4 175px,#4564fd 184px,#475bfa 191px,#484aee 197px,#4660fc 208px,#4758f8 217px,#4745e9 224px,#475bf9 233px,#4849ed 244px,#475af9 256px,#484bee 268px,#4853f5 278px,#4744e8 286px)"></i><i style="background:linear-gradient(90deg,#484df0 0px,#4758f8 10px,#4853f5 21px,#4850f2 29px,#475bf9 42px,#4848ec 53px,#4853f5 63px,#4742e6 75px,#4852f4 86px,#484aee 96px,#4850f3 103px,#4744e8 111px,#4759f8 121px,#4746eb 138px,#4757f7 153px,#4743e7 168px,#465ffb 184px,#4756f6 192px,#484cf0 198px,#475cfa 209px,#4855f6 218px,#4849ed 224px,#4759f8 234px,#4849ed 245px,#4758f8 258px,#484ff2 269px,#484ff2 281px,#4849ed 286px)"></i><i style="background:linear-gradient(90deg,#484aee 0px,#4851f3 26px,#4854f5 42px,#484df0 57px,#4852f4 68px,#484bef 78px,#484ff2 91px,#4850f3 102px,#4756f7 120px,#484aee 130px,#4852f4 161px,#484aed 174px,#4758f8 187px,#484bef 199px,#4757f7 215px,#4851f4 226px,#4756f7 237px,#4849ed 249px,#4757f7 264px,#484ff2 278px,#4854f6 286px)"></i><i style="background:linear-gradient(90deg,#4741e5 0px,#4849ed 27px,#4746ea 38px,#4849ed 48px,#4745ea 57px,#484ef1 67px,#4744e8 78px,#4848ec 92px,#4747eb 101px,#4854f6 114px,#4848ec 124px,#4745e9 131px,#4848ec 140px,#4849ed 149px,#484df0 162px,#4740e4 174px,#4850f3 186px,#4742e6 199px,#4851f3 214px,#484ff2 228px,#484df1 240px,#4740e4 250px,#4852f4 265px,#4745e9 276px,#4852f4 286px)"></i><i style="background:linear-gradient(90deg,#484df0 0px,#4850f3 28px,#4851f3 70px,#4852f4 101px,#4755f6 123px,#4852f4 152px,#484ff2 169px,#4852f4 180px,#4852f4 193px,#4852f4 205px,#4757f7 225px,#4851f4 256px,#4854f6 268px,#4852f4 278px,#4756f7 286px)"></i><i style="background:linear-gradient(90deg,#4854f5 0px,#4755f6 26px,#4758f8 65px,#4755f6 87px,#4759f8 132px,#4758f8 185px,#475cfa 217px,#4759f8 262px,#4758f8 286px)"></i><i style="background:linear-gradient(90deg,#4757f7 0px,#475af9 46px,#475bfa 76px,#4759f8 105px,#4759f8 132px,#475af9 189px,#4759f8 280px,#4759f8 286px)"></i><i style="background:linear-gradient(90deg,#465efb 0px,#4660fc 46px,#4561fc 74px,#4660fc 223px,#465ffb 255px,#465efb 279px,#465ffb 286px)"></i><i style="background:linear-gradient(90deg,#416afe 0px,#426afe 18px,#406cfe 74px,#4367fd 238px,#4269fe 269px,#416bfe 286px)"></i><i style="background:linear-gradient(90deg,#426afe 0px,#2e85f8 3px,#1caadf 10px,#01b8ca 16px,#01b9c6 27px,#02bbc3 85px,#01b9c6 198px,#02bac4 226px,#22c1b0 244px,#2fc5a2 254px,#33c69d 273px,#2ec4a5 276px,#23c1af 278px,#12beb9 279px,#04b6cd 280px,#1aabdd 281px,#2b90f0 283px,#327bfc 285px,#3e6fff 286px)"></i><i style="background:linear-gradient(90deg,#03b7cb 0px,#04bbc1 1px,#26c2ad 3px,#4acb84 7px,#66cd6d 9px,#acc739 17px,#afc637 26px,#b0c636 44px,#b1c635 57px,#aac73a 79px,#b4c533 90px,#b0c636 109px,#aec637 123px,#a7c73c 155px,#abc739 172px,#acc739 185px,#a6c83d 193px,#acc738 202px,#b0c636 211px,#aac739 219px,#adc638 225px,#c0c32d 232px,#d6be28 244px,#e9bb30 253px,#f0ba36 271px,#ecba33 275px,#d4bf28 278px,#c3c22b 279px,#6ecd67 281px,#47cb87 282px,#31c6a0 283px,#25c2ae 284px,#0dbdbb 285px,#01b8c8 286px)"></i><i style="background:linear-gradient(90deg,#04bbc2 0px,#26c2ac 2px,#4ecc82 6px,#7ccc5c 9px,#bfc32d 17px,#c0c32d 27px,#c1c32c 42px,#c8c129 52px,#bec32e 81px,#c5c22a 90px,#c3c22b 124px,#bbc42f 138px,#b9c431 154px,#bfc32d 169px,#c1c32c 184px,#bbc430 194px,#bec32e 208px,#c4c22b 215px,#bbc430 223px,#d6be28 233px,#eaba31 245px,#f8ba3d 255px,#f9bb3d 275px,#e2bc2b 278px,#d2bf27 279px,#abc739 280px,#54cc7c 282px,#37c897 283px,#1bc0b4 285px,#04bbc2 286px)"></i><i style="background:linear-gradient(90deg,#4269fe 0px,#2e84f9 3px,#1caadf 10px,#01b9c8 17px,#01b9c6 43px,#02bac4 102px,#01b8c9 137px,#01b8c9 154px,#01b8c9 188px,#01b8c8 209px,#01bac5 226px,#32c69f 254px,#31c6a0 275px,#1cc0b3 278px,#09bcbe 279px,#0bb3d2 280px,#1ea7e1 281px,#3080fb 284px,#4368fe 286px)"></i><i style="background:linear-gradient(90deg,#327cfc 0px,#327cfc 42px,#3080fa 106px,#3579fd 149px,#337bfd 186px,#347afd 208px,#307efb 250px,#307efb 264px,#3776fe 286px)"></i><i style="background:linear-gradient(90deg,#3f6eff 0px,#3d70ff 10px,#3f6fff 46px,#3d70ff 80px,#3b73fe 110px,#3f6eff 148px,#3e6fff 209px,#3f6dfe 236px,#3b72ff 255px,#426afe 286px)"></i><i style="background:linear-gradient(90deg,#463de0 0px,#4744e8 14px,#4741e4 25px,#4740e3 37px,#4742e6 53px,#473fe3 67px,#4746ea 73px,#4742e6 76px,#4744e8 81px,#4848ec 85px,#473fe3 90px,#4743e7 97px,#4745e9 107px,#4744e8 121px,#4741e5 123px,#4745e9 125px,#4740e4 129px,#4742e6 131px,#4740e4 140px,#4745e9 144px,#4741e5 148px,#4746ea 150px,#4745e9 158px,#473fe2 164px,#4742e6 176px,#4740e3 187px,#4746ea 193px,#4740e4 198px,#4743e7 205px,#473fe3 208px,#4742e6 215px,#4744e8 220px,#4741e5 238px,#4740e4 241px,#4743e7 245px,#4742e6 252px,#4747eb 256px,#473ee2 259px,#4744e8 264px,#4740e4 270px,#4742e7 275px,#463bdc 278px,#4742e6 282px,#463cde 285px,#463ddf 286px)"></i><i style="background:linear-gradient(90deg,#3e70ff 0px,#3e70ff 3px,#3b72fe 7px,#3975fe 10px,#3d70ff 25px,#3c72ff 29px,#416cfe 33px,#426afe 40px,#4561fc 43px,#3e6fff 46px,#4367fd 49px,#3975fe 51px,#3f6efe 56px,#3f6eff 62px,#3d70ff 65px,#4466fd 67px,#3d71ff 69px,#3f6fff 76px,#406dfe 79px,#3578fd 81px,#3e6fff 88px,#3876fe 90px,#4269fe 92px,#3c72ff 95px,#416cfe 98px,#3e70ff 105px,#3579fd 108px,#3578fd 113px,#406cfe 115px,#3677fe 118px,#406cfe 121px,#3876fe 126px,#406cfe 128px,#3a73fe 130px,#406cfe 133px,#416bfe 139px,#4269fe 141px,#3678fd 144px,#4368fe 147px,#3876fe 153px,#3e6fff 155px,#4368fe 161px,#4465fd 164px,#3974fe 170px,#416afe 174px,#337bfd 177px,#4368fe 182px,#3f6eff 185px,#3d71ff 187px,#3a74fe 189px,#3f6eff 193px,#3b72fe 195px,#3d70ff 199px,#3d71ff 202px,#3f6fff 204px,#3b72fe 209px,#416bfe 211px,#3876fe 216px,#416bfe 219px,#3578fd 225px,#3f6dfe 227px,#3e6fff 230px,#406dfe 236px,#4367fd 239px,#3d70ff 244px,#416bfe 246px,#3d70ff 252px,#3c72ff 256px,#3d70ff 258px,#406dfe 260px,#3c71ff 264px,#3e70ff 268px,#426afe 269px,#3f6eff 271px,#4368fe 272px,#3e6fff 275px,#416bfe 278px,#3875fe 281px,#3875fe 284px,#416bfe 286px)"></i><i style="background:linear-gradient(90deg,#4564fd 0px,#465efb 3px,#4562fc 4px,#465efb 5px,#416bfe 7px,#465ffb 10px,#4367fd 12px,#465ffb 14px,#4367fd 17px,#4367fd 20px,#3f6efe 23px,#4464fd 24px,#475cfa 27px,#3f6fff 29px,#475bf9 34px,#4367fd 36px,#4368fd 41px,#475dfa 43px,#416bfe 47px,#475cfa 54px,#475bf9 56px,#4269fe 58px,#3e6fff 60px,#4561fc 63px,#4367fd 66px,#475cfa 71px,#416bfe 75px,#4465fd 78px,#3975fe 82px,#465efb 88px,#4368fd 92px,#4758f8 94px,#4464fd 97px,#4561fc 101px,#4465fd 102px,#4660fc 106px,#3776fe 108px,#4368fe 114px,#3c71ff 115px,#4368fd 119px,#465ffb 123px,#426afe 126px,#4564fd 128px,#4269fe 130px,#475af9 133px,#465dfa 136px,#4465fd 139px,#4660fb 141px,#4368fd 143px,#4563fd 145px,#4465fd 148px,#3a74fe 150px,#465ffb 153px,#426afe 158px,#4561fc 160px,#426afe 163px,#4660fc 167px,#4367fd 171px,#4465fd 176px,#3f6eff 179px,#465dfa 185px,#4368fd 187px,#475cfa 191px,#4563fd 192px,#3b73fe 193px,#3975fe 194px,#426afe 195px,#416cfe 198px,#4367fd 202px,#465ffb 205px,#475bf9 206px,#4564fd 207px,#465ffb 209px,#4563fd 211px,#465ffb 214px,#426afe 215px,#426afe 219px,#4561fc 220px,#416bfe 224px,#3d70ff 225px,#416bfe 228px,#4563fc 229px,#4368fe 231px,#465efb 233px,#4368fe 235px,#4562fc 238px,#416afe 242px,#4368fe 249px,#465ffb 253px,#4367fd 256px,#4562fc 258px,#4367fd 260px,#4269fe 263px,#475bfa 265px,#4466fd 267px,#465ffb 269px,#4369fe 270px,#4757f7 272px,#4562fc 276px,#4269fe 284px,#465efb 286px)"></i><i style="background:linear-gradient(90deg,#4536d5 0px,#4639d9 2px,#4849ed 4px,#463adb 6px,#4743e7 8px,#484cf0 11px,#4742e7 13px,#4849ed 15px,#4536d4 18px,#4746eb 20px,#484aee 21px,#4744e8 22px,#463ee1 29px,#4744e8 32px,#4742e6 36px,#463cde 37px,#463de0 39px,#463adb 41px,#4743e7 43px,#4742e6 52px,#4539d9 54px,#4746ea 60px,#4848ec 64px,#4744e9 69px,#463adc 71px,#473fe3 74px,#463cde 78px,#484bef 81px,#4850f3 86px,#4747eb 88px,#463bdd 90px,#463ddf 91px,#4536d4 92px,#4434ce 94px,#463bdd 95px,#484aee 96px,#4849ed 100px,#463ee1 102px,#4747ec 104px,#4744e8 107px,#463ddf 108px,#4746eb 110px,#473fe2 112px,#4849ed 115px,#484aee 118px,#473ee1 120px,#484ef1 122px,#463ddf 124px,#4740e4 126px,#4849ed 127px,#4742e6 129px,#4757f7 131px,#484cef 132px,#463bdd 133px,#4743e7 135px,#463bdd 137px,#4742e6 141px,#4742e6 143px,#484cf0 144px,#4741e5 146px,#4538d8 147px,#4536d4 148px,#473ee2 149px,#4741e5 150px,#4538d8 152px,#463cdf 155px,#4851f3 157px,#4747eb 161px,#463bdd 164px,#4743e7 166px,#463adb 169px,#473ee1 171px,#463ada 172px,#4744e8 175px,#463bdc 177px,#463cde 179px,#463adb 182px,#4745e9 185px,#4740e4 187px,#4745ea 189px,#473fe2 190px,#4740e3 192px,#4535d2 194px,#4745ea 197px,#4741e5 199px,#463adc 201px,#4849ed 204px,#463ee1 211px,#4744e8 213px,#473fe2 214px,#4740e4 216px,#463ddf 217px,#484cf0 220px,#4746ea 224px,#484df0 226px,#4848ec 227px,#484cef 228px,#463adb 230px,#473fe3 231px,#463adc 233px,#4740e4 236px,#484aee 240px,#4745e9 244px,#473fe2 245px,#4849ed 249px,#473ee1 253px,#4745e9 255px,#473fe3 259px,#4537d6 260px,#4849ed 264px,#4744e8 265px,#4539d9 266px,#4539d9 267px,#4745e9 270px,#463ddf 272px,#4741e5 273px,#473fe3 276px,#463adc 277px,#4744e8 279px,#4743e7 282px,#463bdd 283px,#4741e4 285px,#463ddf 286px)"></i><i style="background:linear-gradient(90deg,#416bfe 0px,#3a73fe 3px,#3c71ff 8px,#317efb 10px,#3f6eff 16px,#3c72ff 19px,#4660fc 24px,#406cfe 26px,#4660fc 28px,#416bfe 29px,#4466fd 33px,#3876fe 37px,#4466fd 40px,#3d71ff 42px,#4562fc 46px,#3d70ff 49px,#4368fe 51px,#3f6efe 52px,#4269fe 54px,#3875fe 57px,#3f6eff 60px,#3a73fe 61px,#4466fd 64px,#426afe 69px,#465ffb 70px,#475cfa 71px,#416cfe 73px,#3f6efe 75px,#347afd 77px,#4464fd 79px,#4561fc 80px,#3975fe 82px,#2e84f9 83px,#2e83f9 85px,#3f6eff 87px,#3b73fe 90px,#4368fe 92px,#3975fe 95px,#426afe 99px,#3975fe 102px,#406cfe 108px,#3c72ff 110px,#406cfe 112px,#3b72ff 113px,#4367fd 115px,#327bfc 119px,#327cfc 122px,#3d71ff 124px,#2e83f9 126px,#3d71ff 129px,#426afe 130px,#3a74fe 131px,#426afe 134px,#3f6fff 139px,#327bfc 141px,#3f6dfe 142px,#426afe 143px,#347afd 147px,#3f6dfe 149px,#3974fe 150px,#4367fd 152px,#4367fd 153px,#3776fe 155px,#3777fe 156px,#3f6efe 157px,#3b72ff 159px,#327dfc 161px,#4563fc 163px,#416bfe 166px,#4563fd 170px,#4368fe 173px,#4660fb 176px,#3e6fff 178px,#4465fd 182px,#337bfc 184px,#3578fd 188px,#4368fd 191px,#4368fe 195px,#3c72ff 197px,#426afe 200px,#406cfe 202px,#4367fd 203px,#3b72ff 205px,#406dfe 207px,#3974fe 208px,#4369fe 210px,#3b72ff 214px,#406dfe 215px,#3777fe 217px,#3777fe 220px,#406dfe 222px,#406dfe 224px,#3975fe 226px,#3e6fff 228px,#3678fe 230px,#3974fe 231px,#4562fc 233px,#4465fd 236px,#3d71ff 238px,#4563fd 241px,#4367fd 244px,#416bfe 246px,#4562fc 248px,#4269fe 254px,#4369fe 256px,#4564fd 257px,#3975fe 260px,#3d71ff 262px,#337afd 263px,#416bfe 265px,#3d71ff 267px,#465ffb 270px,#4465fd 272px,#3d71ff 274px,#4564fd 276px,#3875fe 278px,#3b72ff 279px,#3080fb 281px,#3c72ff 283px,#3a73fe 286px)"></i><i style="background:linear-gradient(90deg,#3b72ff 0px,#3579fd 3px,#406dfe 5px,#347afd 10px,#3c71ff 13px,#2f80fa 15px,#3975fe 18px,#3777fe 19px,#406cfe 21px,#426afe 26px,#3975fe 28px,#3d71ff 32px,#3080fb 36px,#406dfe 38px,#406cfe 43px,#3d71ff 44px,#4466fd 48px,#3c72ff 50px,#4562fc 52px,#3876fe 58px,#4466fd 60px,#3d70ff 62px,#416bfe 64px,#3e6fff 66px,#4564fd 68px,#3e70ff 69px,#3c71ff 70px,#475af9 72px,#3776fe 76px,#3975fe 77px,#4269fe 78px,#3777fe 80px,#3876fe 86px,#3f6efe 87px,#416cfe 90px,#3b72ff 93px,#406cfe 98px,#347afd 101px,#3777fe 102px,#307ffb 104px,#426afe 106px,#3974fe 109px,#317dfc 110px,#4367fd 115px,#3f6eff 116px,#317efb 117px,#307ffb 118px,#3c71ff 120px,#3c71ff 121px,#327cfc 122px,#3080fb 123px,#3a73fe 124px,#2f81fa 127px,#4466fd 132px,#3e6fff 134px,#327cfc 135px,#317efb 140px,#3876fe 144px,#4564fd 146px,#3777fe 155px,#3c72ff 157px,#3777fe 158px,#416bfe 160px,#3678fd 163px,#4661fc 167px,#4269fe 170px,#3875fe 172px,#4466fd 174px,#3e70ff 175px,#406dfe 178px,#3e6fff 180px,#4562fc 182px,#3678fd 184px,#3677fe 188px,#3e70ff 189px,#317efb 192px,#4368fd 194px,#4466fd 195px,#3777fe 197px,#3677fe 198px,#3f6eff 200px,#406dfe 203px,#3876fe 204px,#3777fe 205px,#4368fe 207px,#3a73fe 209px,#3f6dfe 210px,#3678fe 212px,#3f6dfe 214px,#3f6efe 216px,#3c72ff 222px,#3e70ff 224px,#337bfc 228px,#3678fd 231px,#3677fe 233px,#3e6fff 236px,#3975fe 237px,#3b72ff 239px,#3974fe 242px,#3d71ff 243px,#3777fe 245px,#426afe 249px,#406cfe 251px,#4466fd 252px,#3b72fe 254px,#4466fd 257px,#3c71ff 259px,#4563fd 261px,#3777fe 266px,#406dfe 269px,#3975fe 271px,#4368fe 276px,#3d70ff 277px,#3e6fff 278px,#4466fd 279px,#4367fd 280px,#3677fe 282px,#3d71ff 283px,#347afd 286px)"></i><i style="background:linear-gradient(90deg,#327cfc 0px,#3e6fff 6px,#3a73fe 8px,#3f6fff 9px,#3974fe 12px,#416cfe 14px,#416bfe 16px,#3479fd 18px,#416afe 23px,#3d71ff 25px,#4562fc 28px,#347afd 32px,#347afd 36px,#3d70ff 38px,#3d71ff 40px,#4661fc 42px,#3d71ff 46px,#4561fc 49px,#3c71ff 51px,#416cfe 57px,#3f6eff 60px,#3777fe 61px,#3777fe 64px,#416bfe 65px,#3e6fff 67px,#4368fd 69px,#3f6eff 70px,#416bfe 72px,#3975fe 73px,#3e6fff 78px,#347afd 81px,#3f6eff 83px,#3678fd 86px,#406dfe 88px,#406dfe 90px,#4368fe 91px,#406dfe 93px,#4561fc 94px,#3876fe 98px,#3f6fff 102px,#3678fe 104px,#4269fe 109px,#3f6efe 114px,#426afe 120px,#3777fe 123px,#416bfe 126px,#3876fe 128px,#4368fd 130px,#3876fe 133px,#406dfe 135px,#3d71ff 139px,#3876fe 142px,#3e6fff 143px,#3776fe 145px,#4269fe 149px,#3b72ff 150px,#4367fd 153px,#3d71ff 155px,#4564fd 157px,#406dfe 160px,#4466fd 163px,#3a74fe 165px,#4660fc 173px,#3876fe 176px,#4464fd 180px,#3975fe 182px,#3678fd 184px,#3b72ff 185px,#3c72ff 190px,#3e70ff 191px,#3678fd 193px,#4368fd 196px,#4269fe 200px,#4366fd 202px,#3776fe 204px,#416bfe 208px,#465ffb 209px,#3a74fe 211px,#416bfe 213px,#4368fe 218px,#3876fe 224px,#3f6dfe 228px,#406cfe 229px,#327cfc 231px,#3c71ff 233px,#3f6efe 235px,#3b72ff 237px,#426afe 239px,#3f6eff 241px,#4563fc 242px,#4465fd 243px,#3d71ff 244px,#3d71ff 247px,#4465fd 249px,#3e70ff 253px,#337bfc 254px,#4368fe 258px,#4561fc 259px,#3f6dfe 261px,#426afe 265px,#3f6eff 269px,#3678fe 272px,#3777fe 275px,#406dfe 278px,#3d71ff 279px,#416afe 281px,#3876fe 284px,#3f6eff 286px)"></i><i style="background:linear-gradient(90deg,#4746ea 0px,#4848ec 1px,#4536d3 3px,#4639d9 4px,#4747eb 5px,#475af9 7px,#475cfa 11px,#484cf0 15px,#4853f5 17px,#484df0 19px,#4758f8 20px,#4757f7 24px,#4759f8 26px,#4851f3 29px,#4755f6 31px,#484ef1 32px,#4853f5 34px,#484ef1 35px,#4756f6 37px,#4851f4 39px,#4757f7 41px,#484ff2 42px,#4850f3 45px,#4744e8 47px,#4851f3 49px,#484bef 52px,#4744e9 54px,#475cfa 56px,#4850f3 66px,#4855f6 69px,#4851f4 71px,#475af9 72px,#4562fc 76px,#475bf9 79px,#4854f5 80px,#475bf9 82px,#484df0 84px,#4853f5 86px,#484bee 88px,#465efb 93px,#475cfa 96px,#484df0 99px,#4757f7 101px,#4759f8 104px,#4852f4 105px,#475bfa 107px,#484bee 109px,#4851f3 113px,#484cef 115px,#4853f5 116px,#4759f8 119px,#4853f5 124px,#475af9 128px,#4850f3 132px,#4561fc 134px,#4758f8 139px,#4851f3 140px,#4758f8 143px,#4852f4 149px,#4756f7 155px,#475af9 156px,#4755f6 160px,#475bf9 161px,#4854f5 166px,#484bef 167px,#4757f7 169px,#484aee 174px,#484ff2 178px,#484bee 180px,#475af9 183px,#475bf9 185px,#4747eb 187px,#4755f6 190px,#4853f5 192px,#484cef 193px,#4755f6 195px,#4852f4 199px,#4757f7 201px,#484ef1 204px,#4759f8 206px,#4853f5 208px,#475cfa 209px,#475dfa 210px,#4853f5 212px,#4755f6 213px,#4848ec 216px,#4850f3 218px,#465efb 220px,#4852f4 224px,#4564fd 227px,#484df0 231px,#4850f2 233px,#4661fc 235px,#484df0 241px,#4854f5 245px,#4745e9 250px,#484ff2 252px,#484cf0 254px,#4759f8 256px,#484bee 258px,#4759f8 260px,#475af9 264px,#4850f3 266px,#4756f7 268px,#484ef1 269px,#4758f8 272px,#484aee 275px,#484ff2 276px,#484ff2 278px,#4759f9 279px,#4755f6 281px,#4747eb 283px,#4849ed 285px,#4742e6 286px)"></i><i style="background:linear-gradient(90deg,#2896ec 0px,#21a4e3 3px,#1caadf 5px,#0cb3d3 6px,#08b5d0 8px,#12b1d6 9px,#0db3d3 11px,#17aedb 12px,#17aedb 13px,#0fb2d5 14px,#1ea8e1 16px,#0cb3d3 18px,#09b4d1 20px,#19addc 22px,#16afd9 27px,#08b4d0 32px,#01b7ca 33px,#12b1d7 36px,#06b5ce 37px,#01b9c7 38px,#07b5cf 40px,#1aacdd 42px,#17aeda 45px,#19acdc 47px,#11b1d6 48px,#10b2d5 50px,#15afd9 51px,#09b4d1 53px,#10b2d5 54px,#06b5cf 57px,#16afda 59px,#14b0d8 60px,#01b8ca 62px,#01b8ca 63px,#18aedb 65px,#12b1d6 67px,#18addb 68px,#04b6cd 76px,#01bac5 78px,#08b4d0 79px,#17aeda 80px,#19addc 81px,#11b1d6 82px,#12b1d7 85px,#1ea7e1 87px,#13b0d7 92px,#13b0d7 94px,#0bb3d2 95px,#0bb3d2 96px,#1caadf 99px,#18addb 102px,#06b5cf 103px,#16afd9 105px,#0db3d3 106px,#1aacdd 116px,#09b4d1 117px,#03b7cc 119px,#0fb2d5 121px,#09b4d1 123px,#12b1d6 127px,#0bb4d2 128px,#16afd9 131px,#10b2d5 133px,#04b6cd 134px,#06b5cf 137px,#01bac5 138px,#02bac5 139px,#13b0d7 140px,#18aedb 141px,#0fb2d5 145px,#03b7cc 147px,#0fb2d4 151px,#0ab4d2 152px,#18aedb 154px,#09b4d1 157px,#1aacdd 159px,#0fb2d5 161px,#17aedb 164px,#0cb3d3 166px,#1babde 168px,#1caadf 169px,#06b5cf 171px,#14b0d8 173px,#12b1d6 181px,#15afd9 182px,#02b7cb 184px,#04b6cd 188px,#07b5d0 189px,#16afd9 190px,#1aabdd 191px,#0db3d3 193px,#0fb2d5 194px,#19acdc 195px,#13b0d8 198px,#08b4d1 201px,#09b4d1 202px,#18addb 204px,#0db3d4 206px,#15afd9 209px,#0eb2d4 210px,#15afd9 212px,#0cb3d3 213px,#19addc 215px,#02b7cb 217px,#06b5cf 219px,#01b9c7 220px,#13b1d7 222px,#11b1d6 223px,#02bac5 225px,#03b7cc 226px,#0fb2d4 227px,#03b6cc 228px,#01b9c7 229px,#0eb2d4 231px,#01b8c8 233px,#02bac4 238px,#01b8c8 239px,#11b1d6 241px,#0eb2d4 244px,#04b6cd 245px,#12b1d7 247px,#0cb3d3 248px,#0bb3d2 251px,#18aedb 252px,#18addb 255px,#06b5cf 258px,#0ab4d1 260px,#18aedb 262px,#13b1d7 266px,#10b2d5 267px,#1aacdd 269px,#01b8c9 271px,#19addc 276px,#18addb 277px,#08b4d1 278px,#02b7cb 279px,#1ea7e1 286px)"></i><i style="background:linear-gradient(90deg,#15afd9 0px,#0fb2d5 4px,#03b7cc 5px,#01b8c8 6px,#06b5cf 7px,#01bac5 10px,#0bbdbd 12px,#01b8ca 16px,#0dbdbb 18px,#03bbc3 19px,#01bac5 21px,#08b5d0 22px,#02bac4 24px,#01b8ca 26px,#01b9c7 29px,#01b9c7 32px,#06b5ce 33px,#03b7cc 36px,#03bbc3 37px,#01bac5 40px,#0cb3d3 42px,#01b9c8 43px,#04bbc2 44px,#06b5ce 48px,#04b6cd 49px,#12b1d6 50px,#16afd9 51px,#02b7cb 54px,#0ab4d1 59px,#02b7cb 61px,#01b8ca 66px,#06bcc1 67px,#02bac4 68px,#09bcbe 71px,#01b8c8 73px,#0fbeba 74px,#1ac0b5 75px,#0abdbd 76px,#12beb9 77px,#01b8c8 81px,#01b9c6 84px,#08b5d0 86px,#06b5ce 88px,#11b1d6 89px,#13b1d7 90px,#01b8c9 92px,#01b8c9 97px,#0abdbd 99px,#02b7cb 100px,#08bcbe 102px,#01b8c8 104px,#07bcbf 109px,#02bac4 110px,#06bbc1 111px,#01b9c6 112px,#11b1d6 114px,#04b6cc 116px,#19addc 118px,#01b8ca 120px,#03bbc2 122px,#0dbdbc 124px,#02bbc3 125px,#06bcc0 129px,#15bfb7 130px,#07bcbf 132px,#01bac5 136px,#05b6cd 137px,#01b9c8 142px,#06b5cf 146px,#01b9c6 147px,#01b7ca 150px,#01bac5 151px,#06b5cf 153px,#01b9c6 154px,#08bcbf 155px,#05bbc1 157px,#0cbdbc 159px,#01b8c9 162px,#0bb4d2 165px,#02bac4 167px,#0abdbd 168px,#01b8c8 170px,#06b5cf 171px,#02bac5 174px,#14beb8 175px,#06bcc0 178px,#04b6cd 180px,#08b4d0 182px,#02bac4 183px,#0ebebb 184px,#03bbc2 185px,#03b7cc 186px,#02b7cb 187px,#0cbdbc 188px,#1ec0b2 189px,#1bc0b4 190px,#09bcbe 191px,#01b9c7 193px,#03b7cc 194px,#01bac6 196px,#04b6cd 198px,#01b8c9 200px,#09b4d1 203px,#01b8ca 204px,#08b4d0 206px,#01b8ca 208px,#02b7cb 210px,#02bac4 211px,#01b8c9 212px,#0db3d4 213px,#01b8c9 216px,#05bbc1 217px,#02bac3 221px,#05b6ce 223px,#05bbc1 225px,#01b9c6 227px,#13beb8 231px,#13beb9 232px,#05bbc1 234px,#1dc0b3 235px,#01bac5 237px,#0ab4d1 240px,#01b9c6 243px,#01b8c9 244px,#01b9c6 247px,#0bbdbd 249px,#02bac4 250px,#01b7ca 251px,#01b9c6 252px,#02b7cb 253px,#0cb3d3 254px,#02b7cb 256px,#04b6cd 258px,#01b9c7 259px,#0abdbd 261px,#01b9c7 262px,#04b6cd 263px,#05bbc1 265px,#01b9c6 266px,#08bcbf 267px,#01b9c7 269px,#03bbc3 270px,#17bfb7 271px,#1bc0b4 272px,#14bfb8 273px,#02bac4 274px,#04b6cd 275px,#01b9c6 278px,#01b9c7 279px,#08bcbf 280px,#01b8c8 281px,#1aabdd 286px)"></i><i style="background:linear-gradient(90deg,#4740e4 0px,#4853f4 4px,#465efb 5px,#4561fc 6px,#4758f8 7px,#4759f8 8px,#4465fd 10px,#465efb 13px,#4756f7 14px,#465efb 16px,#4755f6 18px,#4660fb 20px,#4851f3 25px,#4661fc 29px,#4757f8 31px,#475cfa 36px,#4757f7 37px,#475bf9 39px,#4756f6 41px,#4851f4 43px,#475cfa 45px,#4756f7 51px,#484aee 53px,#4465fd 56px,#4369fe 58px,#4759f8 61px,#475cfa 63px,#475af9 65px,#4758f8 68px,#4464fd 70px,#4368fe 72px,#4563fc 73px,#4755f6 74px,#465ffb 76px,#3f6efe 77px,#4465fd 82px,#4759f8 83px,#4757f7 84px,#4369fe 86px,#4756f7 88px,#4757f7 92px,#4851f3 93px,#4660fc 97px,#484ff2 101px,#4562fc 104px,#484ff2 107px,#475af9 110px,#4851f3 111px,#465ffb 114px,#4854f5 116px,#4759f8 118px,#4755f6 119px,#4466fd 121px,#4367fd 124px,#475af9 126px,#4561fc 129px,#475bfa 131px,#4852f4 132px,#4854f5 133px,#426afe 135px,#475af9 137px,#4562fc 143px,#4757f7 148px,#4561fc 150px,#4757f7 154px,#465efb 155px,#475bfa 157px,#406cfe 159px,#4562fc 161px,#4367fd 163px,#4660fb 164px,#4755f6 170px,#4368fd 172px,#465efb 174px,#4465fd 175px,#4758f8 179px,#4757f7 184px,#4562fc 185px,#4368fe 189px,#475af9 192px,#475af9 196px,#4465fd 200px,#4854f5 202px,#465efb 206px,#4854f5 208px,#4854f6 211px,#484cf0 213px,#4561fc 216px,#4758f8 218px,#475bf9 222px,#4854f5 223px,#4368fe 226px,#4660fb 227px,#4367fd 229px,#475bf9 231px,#465ffb 232px,#4853f5 234px,#4466fd 236px,#4465fd 237px,#4759f8 238px,#465ffb 248px,#475af9 250px,#4660fc 253px,#416bfe 255px,#4759f8 257px,#4759f9 262px,#465dfa 264px,#4368fe 265px,#465efb 267px,#4564fd 268px,#465dfa 270px,#4466fd 274px,#4853f5 278px,#4464fd 280px,#4465fd 281px,#4746eb 285px,#4746ea 286px)"></i><i style="background:linear-gradient(90deg,#4639da 0px,#463adb 2px,#4435d1 3px,#463bdd 5px,#4536d3 8px,#4537d5 10px,#4433cd 11px,#4537d6 13px,#4332c9 15px,#4741e5 17px,#463bdc 19px,#4433cd 20px,#4332c8 21px,#463ada 23px,#4536d4 25px,#4741e5 27px,#473fe2 32px,#4639da 33px,#4639d9 37px,#412cb9 41px,#4539d9 43px,#4536d3 46px,#4331c7 47px,#463cdf 49px,#4747eb 50px,#4538d8 52px,#463adb 53px,#4433cd 54px,#4332ca 56px,#4537d6 58px,#4434cf 60px,#463ee1 61px,#4743e7 62px,#463adc 66px,#4741e5 68px,#4538d7 70px,#4639d9 71px,#4741e5 72px,#4639da 73px,#422fc0 74px,#4332ca 75px,#463bdd 76px,#463cdf 78px,#4742e6 79px,#463ada 80px,#4740e4 82px,#463bdc 83px,#402ab4 85px,#3e27ac 86px,#4536d3 88px,#463ada 89px,#4435d1 91px,#4740e4 96px,#4744e8 97px,#463cde 98px,#4741e5 100px,#4538d8 101px,#4434cf 104px,#4536d2 105px,#422fc2 107px,#4331c6 108px,#4538d7 109px,#4539d9 110px,#4435d0 111px,#463adc 116px,#4740e3 117px,#4435d0 119px,#4433cb 121px,#422fc2 122px,#463cdf 124px,#4538d8 126px,#463cdf 127px,#4434cf 130px,#463ada 133px,#4537d6 136px,#463adb 137px,#4433cd 139px,#4742e6 141px,#4741e5 142px,#463adb 143px,#4741e5 145px,#4332ca 147px,#4740e4 149px,#463ddf 150px,#4332c9 151px,#4741e5 156px,#463adb 158px,#4435d1 159px,#4743e7 164px,#473fe2 165px,#4433cd 166px,#4433cd 169px,#463ee1 170px,#4744e8 171px,#4536d2 175px,#473fe3 177px,#4744e8 180px,#473fe2 181px,#4536d3 182px,#463adb 186px,#4538d7 187px,#4742e6 188px,#4849ed 189px,#463cdf 191px,#463bde 193px,#4433cb 195px,#463cde 197px,#463ee1 200px,#463adc 201px,#4433cb 202px,#4331c7 203px,#4537d6 204px,#4435d2 205px,#412dbc 206px,#4537d5 207px,#4740e3 208px,#4435d0 210px,#4639da 215px,#4332c9 217px,#4536d3 219px,#4435d1 220px,#4743e7 223px,#463cdf 226px,#4743e7 229px,#4743e7 234px,#463adb 239px,#4536d3 241px,#4538d8 242px,#4536d4 244px,#4331c8 245px,#4332cb 246px,#4743e7 248px,#4744e8 250px,#463de0 255px,#463ada 256px,#4848ec 258px,#4849ed 259px,#4538d7 261px,#473fe3 262px,#4538d7 264px,#4537d6 266px,#463bdd 267px,#4538d7 271px,#4435d1 272px,#4536d4 273px,#473fe3 275px,#463bde 277px,#4331c6 278px,#422fc3 279px,#463adc 280px,#4435d1 285px,#4538d8 286px)"></i><i style="background:linear-gradient(90deg,#3f6dfe 0px,#3a73fe 1px,#4465fd 3px,#3a73fe 5px,#4368fd 7px,#4269fe 8px,#3777fe 9px,#327cfc 10px,#3f6efe 12px,#3b72ff 14px,#4369fe 15px,#3678fd 20px,#3f6fff 22px,#3974fe 24px,#406cfe 26px,#3a73fe 31px,#4368fd 33px,#3d70ff 35px,#4466fd 38px,#416bfe 40px,#4466fd 42px,#406dfe 43px,#3e6fff 46px,#406dfe 48px,#4465fd 52px,#3a74fe 53px,#3875fe 54px,#426afe 56px,#3b72fe 61px,#4369fe 64px,#3677fe 68px,#347afd 71px,#3f6fff 74px,#327cfc 76px,#4464fd 79px,#3678fe 81px,#406dfe 82px,#406cfe 87px,#3678fe 88px,#347afd 89px,#406cfe 92px,#416bfe 94px,#3c72ff 95px,#4562fc 100px,#4368fe 106px,#4465fd 110px,#3c72ff 112px,#4464fd 114px,#3f6fff 120px,#3a73fe 122px,#4466fd 123px,#3e70ff 126px,#4269fe 128px,#406dfe 130px,#465ffb 132px,#406dfe 135px,#4465fd 138px,#3f6efe 143px,#327cfc 145px,#3678fe 147px,#3d70ff 149px,#3975fe 150px,#4269fe 153px,#3974fe 155px,#4368fe 158px,#3b72fe 162px,#416cfe 168px,#3c71ff 170px,#317efb 171px,#307ffb 172px,#406dfe 174px,#3d71ff 177px,#4562fc 179px,#3f6dfe 181px,#4368fe 182px,#3479fd 185px,#4269fe 187px,#3d71ff 189px,#4367fd 191px,#3776fe 194px,#3a73fe 198px,#2f80fa 200px,#337afd 203px,#4368fd 206px,#3d70ff 209px,#4465fd 210px,#406cfe 212px,#3975fe 213px,#426afe 224px,#3678fd 226px,#416bfe 233px,#3c71ff 236px,#317dfc 237px,#327bfc 238px,#3e6fff 239px,#3c71ff 241px,#3876fe 242px,#406cfe 248px,#3b73fe 250px,#327bfc 254px,#3c72ff 257px,#327dfc 258px,#317efb 259px,#406cfe 261px,#3578fd 263px,#426afe 268px,#3f6efe 270px,#4367fd 271px,#4368fe 273px,#347afd 275px,#416bfe 278px,#3579fd 281px,#4564fd 286px)"></i><i style="background:linear-gradient(90deg,#484ff1 0px,#4745ea 2px,#4639d9 4px,#4746ea 6px,#473fe3 8px,#4747eb 12px,#4639da 15px,#484aee 19px,#463bdd 22px,#4747eb 26px,#4639da 28px,#463bdd 29px,#4746ea 30px,#484aee 35px,#4747eb 37px,#4742e6 39px,#463bdd 40px,#4848ec 42px,#463adb 45px,#463de0 46px,#463adc 49px,#4848ec 52px,#4745e9 53px,#4535d2 55px,#463bdd 56px,#4745e9 59px,#463bdd 62px,#4853f4 66px,#484aee 69px,#4743e7 74px,#473ee2 76px,#4537d6 78px,#4848ec 81px,#463cdf 84px,#4536d4 85px,#4536d4 86px,#4746ea 88px,#484aed 89px,#463de0 91px,#484ff2 93px,#4743e7 97px,#463bdc 99px,#4435d0 100px,#463bde 101px,#463de0 102px,#4537d5 104px,#4743e7 105px,#484aee 106px,#484bee 109px,#4745e9 110px,#4536d3 112px,#4744e8 116px,#4745e9 122px,#4849ed 123px,#473fe3 126px,#4745e9 128px,#4538d8 132px,#484aee 136px,#484aee 138px,#463bdc 140px,#463de0 143px,#484ff2 146px,#484bee 148px,#4852f4 149px,#484df0 152px,#484df0 155px,#4745e9 157px,#4746ea 159px,#4746ea 161px,#484ff2 163px,#4744e8 164px,#473fe2 166px,#4537d5 167px,#4741e5 169px,#4742e6 173px,#4745e9 178px,#4745e9 182px,#463cde 184px,#4741e5 186px,#463adb 189px,#4740e4 190px,#463cde 192px,#4747eb 194px,#4741e4 196px,#484cef 198px,#463de0 200px,#484ff2 203px,#484ef1 204px,#473ee1 205px,#4537d6 206px,#484ef1 209px,#4745ea 211px,#4849ed 212px,#463de0 214px,#4745e9 216px,#463adb 218px,#4849ed 220px,#4849ed 221px,#463cde 223px,#4746ea 224px,#4745e9 226px,#463ee0 229px,#4742e6 232px,#484df0 233px,#463cde 239px,#463de0 240px,#484bef 241px,#4853f5 242px,#4746ea 243px,#463ada 247px,#4850f2 249px,#4850f3 250px,#463de0 252px,#4741e5 254px,#484cef 255px,#4848ec 257px,#484ef1 260px,#473fe3 263px,#4744e8 266px,#4538d8 269px,#4747eb 271px,#484ff2 275px,#4756f6 276px,#4747eb 280px,#4746ea 286px)"></i><i style="background:linear-gradient(90deg,#347afd 0px,#426afe 4px,#3d71ff 6px,#4563fd 8px,#3e70ff 9px,#3b73fe 10px,#416bfe 11px,#3876fe 13px,#3c71ff 15px,#465ffb 17px,#3579fd 19px,#3677fe 22px,#3c71ff 23px,#3777fe 24px,#3a73fe 25px,#4465fd 26px,#4368fe 28px,#4466fd 30px,#337bfd 32px,#3d70ff 37px,#327cfc 39px,#4661fc 41px,#3b72ff 46px,#3d70ff 49px,#4367fd 51px,#3e6fff 53px,#416bfe 55px,#327dfc 58px,#3b73fe 61px,#347afd 66px,#3f6eff 70px,#475cfa 73px,#3b73fe 76px,#3974fe 77px,#4561fc 79px,#3c71ff 83px,#3c71ff 87px,#4465fd 89px,#4367fd 93px,#4269fe 94px,#3777fe 96px,#4369fe 99px,#4466fd 100px,#337bfd 103px,#3974fe 105px,#317dfc 106px,#3f6eff 109px,#3479fd 111px,#4464fd 113px,#3b73fe 119px,#4660fb 121px,#3578fd 123px,#4465fd 125px,#4269fe 127px,#337bfc 129px,#4269fe 131px,#3a73fe 134px,#4561fc 138px,#4269fe 139px,#3777fe 140px,#3479fd 143px,#3f6efe 146px,#3e6fff 148px,#3776fe 150px,#3e70ff 151px,#3e70ff 153px,#4368fd 154px,#4368fe 155px,#3b73fe 156px,#416bfe 159px,#3875fe 163px,#3b73fe 164px,#327cfc 167px,#4464fd 169px,#3974fe 173px,#4269fe 175px,#3f6eff 182px,#416cfe 184px,#3d70ff 185px,#465efb 189px,#416bfe 195px,#416cfe 197px,#3677fe 199px,#406dfe 202px,#3677fe 204px,#3a73fe 207px,#416bfe 208px,#3a73fe 210px,#416bfe 212px,#3777fe 215px,#4367fd 221px,#3d70ff 226px,#347afd 228px,#4269fe 233px,#406cfe 236px,#347afd 238px,#3875fe 242px,#426afe 244px,#406cfe 246px,#3875fe 247px,#3b72fe 254px,#3777fe 256px,#3b72ff 259px,#3479fd 260px,#3c71ff 262px,#337bfc 263px,#317dfc 264px,#4561fc 268px,#416cfe 270px,#307efb 273px,#3080fb 276px,#3479fd 277px,#416bfe 278px,#4466fd 279px,#3875fe 281px,#3f6dfe 284px,#3a73fe 286px)"></i><i style="background:linear-gradient(90deg,#4561fc 0px,#4465fd 2px,#3f6eff 3px,#416cfe 8px,#3875fe 13px,#3e6fff 16px,#3c72ff 17px,#4368fd 19px,#3974fe 22px,#3d71ff 24px,#3f6dfe 27px,#4465fd 28px,#4269fe 29px,#3579fd 30px,#4466fd 32px,#3c71ff 34px,#4367fd 37px,#3678fd 39px,#4466fd 42px,#3974fe 45px,#3c71ff 50px,#3677fe 53px,#406cfe 55px,#3b73fe 57px,#3a74fe 59px,#3479fd 60px,#3e70ff 61px,#3e70ff 62px,#3579fd 63px,#3e6fff 66px,#3f6eff 69px,#4564fd 73px,#3a73fe 74px,#3c71ff 77px,#3876fe 78px,#3e6fff 79px,#3a74fe 84px,#317efb 86px,#4368fd 89px,#3e70ff 92px,#4465fd 95px,#3975fe 97px,#4367fd 100px,#307ffb 104px,#3677fe 108px,#406cfe 110px,#347afd 114px,#426afe 116px,#416bfe 122px,#4269fe 123px,#3b73fe 126px,#426afe 128px,#3777fe 131px,#3b72ff 133px,#3578fd 134px,#4269fe 136px,#3e6fff 141px,#3f6eff 142px,#2f82f9 145px,#3578fd 147px,#317efb 150px,#416bfe 152px,#4369fe 154px,#3974fe 157px,#327cfc 161px,#3e6fff 166px,#3777fe 167px,#416bfe 171px,#3777fe 172px,#3974fe 176px,#3e70ff 177px,#3579fd 179px,#3b72ff 180px,#2f81fa 182px,#3678fd 184px,#465efb 186px,#465efb 189px,#4269fe 191px,#4368fd 193px,#3e6fff 195px,#4465fd 197px,#317dfc 199px,#3975fe 202px,#406dfe 206px,#347afd 210px,#3975fe 212px,#3479fd 213px,#406cfe 215px,#3678fe 217px,#4367fd 220px,#4563fd 226px,#3d71ff 229px,#337bfd 230px,#406dfe 232px,#3a73fe 236px,#3e6fff 239px,#3579fd 241px,#3b72ff 243px,#347afd 244px,#406dfe 247px,#3e70ff 248px,#465ffb 250px,#3c72ff 252px,#3975fe 254px,#4466fd 256px,#3b72fe 257px,#3e6fff 259px,#3975fe 261px,#4368fe 262px,#3e6fff 264px,#3876fe 268px,#416cfe 271px,#3e70ff 274px,#426afe 275px,#3c72ff 278px,#426afe 280px,#3e70ff 281px,#4269fe 285px,#3f6eff 286px)"></i><i style="background:linear-gradient(90deg,#4742e6 0px,#4744e9 2px,#4538d7 4px,#463de0 7px,#463ee1 9px,#4744e8 10px,#4639da 12px,#4747ec 17px,#4740e3 21px,#4639da 22px,#4849ed 25px,#4744e9 28px,#484aee 30px,#4742e6 31px,#4745e9 32px,#4639da 34px,#4745e9 38px,#4744e8 41px,#4434cf 43px,#4536d3 44px,#463ee1 45px,#4741e5 48px,#463ee1 50px,#4742e6 54px,#484cef 58px,#4741e5 60px,#4848ec 61px,#4744e8 64px,#484bee 65px,#473fe2 67px,#473fe2 68px,#4639d9 69px,#4740e3 71px,#473fe2 73px,#4746eb 74px,#4433cc 77px,#4537d6 80px,#4434cf 81px,#4746ea 83px,#473ee1 85px,#4741e5 88px,#463cdf 89px,#4745e9 91px,#473fe2 95px,#4746ea 96px,#473fe2 97px,#473ee2 102px,#4538d8 103px,#4742e6 106px,#463adb 110px,#484aee 112px,#473fe2 115px,#4539d9 116px,#473fe2 122px,#4536d5 124px,#463ee1 126px,#463ddf 127px,#484cf0 129px,#463ddf 131px,#4434ce 132px,#4433cd 133px,#4639da 134px,#463ddf 136px,#4747eb 137px,#4745e9 138px,#463cde 139px,#463bdd 142px,#473fe2 143px,#463adb 145px,#4539d9 147px,#4741e5 148px,#4742e6 153px,#4747eb 155px,#463cdf 160px,#4537d6 162px,#4747eb 164px,#4741e5 165px,#473ee1 168px,#4848ec 170px,#4743e7 172px,#4849ed 173px,#463cde 175px,#4744e8 177px,#4536d4 179px,#463ee1 181px,#4536d3 184px,#463adb 187px,#4435d2 189px,#473ee2 191px,#463adb 192px,#4332ca 193px,#4536d5 194px,#4744e8 195px,#463adb 197px,#4742e6 199px,#4537d5 202px,#4332c9 204px,#463bdc 206px,#463de0 209px,#463bdd 210px,#4747eb 214px,#4849ed 215px,#4538d8 217px,#4332c9 219px,#4743e8 223px,#463adb 227px,#4435d1 229px,#463bdd 232px,#4537d6 234px,#4537d7 236px,#4746ea 239px,#4740e3 241px,#4435d1 243px,#484aee 246px,#484cf0 247px,#4536d3 249px,#4538d7 250px,#4740e4 251px,#4746ea 252px,#4743e7 260px,#4434cf 262px,#4743e7 264px,#473ee1 267px,#4746ea 269px,#4743e7 272px,#463adc 276px,#4743e7 278px,#4741e5 281px,#4434cf 285px,#4435d0 286px)"></i><i style="background:linear-gradient(90deg,#416bfe 0px,#4465fd 2px,#3d71ff 5px,#406dfe 11px,#3876fe 13px,#3e6fff 17px,#3c71ff 20px,#4466fd 22px,#426afe 24px,#4466fd 26px,#3479fd 32px,#4368fe 35px,#3578fd 37px,#4465fd 39px,#416bfe 40px,#4368fe 41px,#4759f8 42px,#475dfa 43px,#3e6fff 45px,#426afe 48px,#3777fe 52px,#3f6efe 56px,#327cfc 59px,#3975fe 61px,#337bfc 63px,#416bfe 65px,#416bfe 70px,#3a74fe 72px,#416bfe 73px,#3678fe 75px,#4465fd 77px,#4368fe 81px,#3c72ff 83px,#4367fd 87px,#4367fd 88px,#3e6fff 89px,#3f6eff 94px,#406dfe 97px,#3c71ff 100px,#4368fe 102px,#3875fe 106px,#2f81fa 107px,#2e86f7 108px,#307ffb 109px,#4269fe 110px,#465efb 111px,#406dfe 115px,#3777fe 116px,#3b72ff 119px,#327cfc 122px,#406dfe 124px,#406cfe 126px,#3579fd 129px,#416bfe 131px,#406dfe 133px,#4564fd 135px,#3d70ff 138px,#406dfe 139px,#327bfc 141px,#3677fe 143px,#337afd 144px,#3d71ff 145px,#3f6efe 147px,#4464fd 148px,#406cfe 151px,#3677fe 153px,#4466fd 155px,#3578fd 157px,#426afe 159px,#3f6efe 163px,#3080fb 166px,#317efb 168px,#416cfe 170px,#416bfe 174px,#3974fe 176px,#3975fe 180px,#426afe 182px,#3876fe 183px,#3e6fff 189px,#3875fe 190px,#3b73fe 192px,#4661fc 194px,#4465fd 197px,#317dfc 199px,#2e84f9 202px,#3e6fff 204px,#465ffb 212px,#4368fe 214px,#4464fd 221px,#307ffb 227px,#3d70ff 228px,#4464fd 232px,#3d70ff 234px,#4562fc 237px,#3f6eff 240px,#3678fe 241px,#4369fe 243px,#426afe 244px,#3975fe 245px,#426afe 247px,#337afd 249px,#4561fc 251px,#4660fc 252px,#3f6dfe 254px,#3974fe 259px,#4269fe 263px,#4368fe 265px,#4561fc 266px,#3b73fe 270px,#4562fc 272px,#4367fd 274px,#3a73fe 275px,#3e6fff 280px,#3a74fe 283px,#406cfe 286px)"></i></div>
<svg id="ov" width="409" height="550" viewBox="0 0 409 550">
<text x="108.2" y="15.4" class="serif" font-size="16.4">Time-domain Vibration Signal</text>
<path d="M8.5 44.9V135.8M12.5 43.6V137.0M16.5 45.1V139.8M20.5 44.7V136.3M24.5 43.5V138.2M28.5 46.0V137.4M32.5 43.5V137.1M37.5 41.9V139.4M41.5 44.0V139.9M45.5 46.1V136.8M49.5 42.2V138.1M53.5 45.5V138.4M57.5 43.0V138.5M61.5 46.1V136.0M65.5 44.5V135.9M69.5 45.9V138.7M73.5 44.3V136.2M77.5 42.4V137.5M82.5 42.3V138.5M86.5 43.5V137.7M90.5 43.3V136.9M94.5 45.1V139.7M98.5 45.4V137.5M102.5 42.9V137.3M106.5 44.7V139.9M110.5 45.4V136.9M114.5 42.3V137.0M118.5 44.8V139.8M123.5 44.9V140.3M127.5 42.6V139.6M131.5 45.3V136.8M135.5 42.9V139.5M139.5 45.3V136.7M143.5 45.2V136.4M147.5 44.4V138.1M151.5 43.5V136.0M155.5 45.4V136.3M160.5 45.1V136.6M164.5 42.1V137.5M168.5 45.7V138.8M172.5 41.9V139.4M176.5 43.4V137.5M180.5 44.5V137.2M184.5 42.7V139.4M188.5 44.1V139.7M192.5 43.4V138.9M196.5 45.1V136.9M201.5 45.3V139.9M205.5 42.7V139.8M209.5 42.6V139.4M213.5 44.3V139.2M217.5 45.6V138.8M221.5 46.1V140.1M225.5 42.3V136.5M229.5 42.8V139.5M233.5 46.1V138.3M237.5 44.4V138.6M242.5 42.3V139.1M246.5 45.3V138.3M250.5 43.8V135.9M254.5 45.7V137.4M258.5 45.5V136.9M262.5 43.3V140.1M266.5 44.2V138.7M270.5 42.9V138.8M274.5 43.3V135.8M278.5 42.4V136.5M283.5 45.5V138.1M287.5 43.7V139.2M291.5 45.0V140.1M295.5 43.5V139.6M299.5 44.2V136.1M303.5 46.2V138.7M307.5 44.4V137.8M311.5 44.8V136.6M315.5 44.2V136.9M319.5 42.3V136.6M324.5 41.9V139.7M328.5 44.6V139.3M332.5 43.7V137.9M336.5 42.6V139.5M340.5 45.4V139.9M344.5 46.2V135.8M348.5 44.1V137.2M352.5 44.4V138.0M356.5 44.2V139.9M360.5 42.2V137.4M365.5 45.0V138.7M369.5 45.4V137.6M373.5 43.1V135.8M377.5 42.8V139.1M381.5 44.6V136.9M385.5 43.9V137.1M389.5 42.6V138.5M393.5 44.9V139.4M397.5 43.6V136.4" fill="none" stroke="#0072bd" stroke-width="1" stroke-opacity="0.5"/>
<path d="M8.5 80.1V115.7M9.5 83.5V127.4M10.5 81.4V114.1M11.5 77.9V119.8M12.5 88.1V110.6M13.5 71.5V114.6M14.5 78.9V106.2M15.5 79.4V117.9M16.5 81.4V115.7M17.5 75.1V112.7M18.5 74.1V118.6M19.5 80.9V106.2M20.5 76.1V112.9M21.5 68.3V113.1M22.5 68.1V119.1M23.5 86.6V119.0M24.5 88.0V109.0M25.5 71.2V123.2M26.5 78.1V117.2M27.5 87.0V117.4M28.5 88.0V112.8M29.5 76.6V119.8M30.5 78.0V112.6M31.5 78.2V120.1M32.5 82.1V117.3M33.5 74.6V132.5M34.5 77.8V115.6M35.5 72.4V107.1M36.5 83.5V118.2M37.5 79.2V122.6M38.5 64.9V124.7M39.5 86.1V105.7M40.5 87.4V112.9M41.5 76.1V110.5M42.5 71.6V108.7M43.5 80.4V111.2M44.5 74.8V116.2M45.5 80.9V112.0M46.5 65.4V126.2M47.5 83.3V106.2M48.5 81.9V108.2M49.5 86.8V112.4M50.5 78.6V114.1M51.5 75.4V111.4M52.5 85.6V105.7M53.5 80.0V106.0M54.5 81.0V126.0M55.5 84.7V115.9M56.5 75.7V118.7M57.5 78.4V117.4M58.5 67.3V113.6M59.5 78.4V114.4M60.5 78.6V116.2M61.5 86.5V114.3M62.5 59.6V112.5M63.5 74.2V115.3M64.5 74.7V105.9M65.5 78.0V110.2M66.5 75.9V119.9M67.5 82.8V110.3M68.5 82.7V113.6M69.5 82.5V115.2M70.5 56.0V135.0M71.5 74.8V125.7M72.5 83.0V112.9M73.5 77.8V116.3M74.5 60.8V115.1M75.5 81.5V118.0M76.5 82.0V118.9M77.5 81.9V114.2M78.5 65.5V132.5M79.5 74.4V116.3M80.5 76.8V115.1M81.5 79.7V105.2M82.5 86.1V109.4M83.5 74.0V121.4M84.5 76.5V112.6M85.5 80.2V109.3M86.5 82.6V113.0M87.5 71.3V123.1M88.5 81.0V111.0M89.5 82.0V113.2M90.5 76.5V110.1M91.5 72.2V113.0M92.5 71.9V114.4M93.5 76.6V116.4M94.5 87.7V112.9M95.5 77.2V120.0M96.5 80.4V111.9M97.5 76.3V107.6M98.5 75.6V112.7M99.5 76.7V119.7M100.5 83.1V109.0M101.5 84.4V107.3M102.5 84.6V114.8M103.5 62.2V113.5M104.5 72.5V118.3M105.5 85.4V109.9M106.5 79.6V113.2M107.5 73.6V123.0M108.5 68.2V121.9M109.5 82.1V112.3M110.5 75.9V109.6M111.5 60.7V128.3M112.5 70.6V109.7M113.5 77.7V119.3M114.5 83.6V113.0M115.5 64.1V130.7M116.5 84.2V127.4M117.5 78.8V119.9M118.5 84.8V108.0M119.5 60.3V136.8M120.5 81.8V126.5M121.5 71.5V120.5M122.5 86.8V108.0M123.5 84.5V103.8M124.5 63.3V120.5M125.5 76.0V119.8M126.5 85.3V113.5M127.5 83.2V107.0M128.5 81.5V126.5M129.5 70.9V122.2M130.5 73.6V105.4M131.5 82.6V105.3M132.5 64.9V115.6M133.5 77.7V118.1M134.5 86.8V107.8M135.5 84.7V103.9M136.5 65.4V118.4M137.5 81.1V108.7M138.5 76.2V112.0M139.5 75.8V105.0M140.5 60.6V123.9M141.5 71.5V119.3M142.5 74.8V118.9M143.5 75.1V108.9M144.5 70.8V120.6M145.5 70.7V117.6M146.5 82.7V109.7M147.5 85.7V105.2M148.5 81.3V120.2M149.5 73.4V109.9M150.5 82.9V108.2M151.5 74.5V104.4M152.5 73.1V110.3M153.5 78.2V108.5M154.5 75.0V105.2M155.5 86.8V108.5M156.5 64.2V113.3M157.5 82.9V123.9M158.5 82.3V115.2M159.5 87.8V117.1M160.5 59.0V123.7M161.5 79.2V126.1M162.5 78.9V108.9M163.5 83.2V108.3M164.5 75.4V111.0M165.5 63.3V128.6M166.5 75.4V118.5M167.5 77.3V107.1M168.5 82.9V112.3M169.5 75.3V119.4M170.5 68.9V114.6M171.5 83.3V115.3M172.5 77.6V110.8M173.5 69.2V110.7M174.5 71.2V109.2M175.5 77.9V112.5M176.5 86.8V114.5M177.5 80.1V113.2M178.5 73.4V111.6M179.5 76.1V109.4M180.5 79.1V104.8M181.5 59.6V109.4M182.5 74.3V112.4M183.5 85.2V113.3M184.5 81.2V105.2M185.5 57.8V127.4M186.5 72.9V120.6M187.5 82.6V119.8M188.5 74.8V104.1M189.5 80.9V123.9M190.5 68.8V125.5M191.5 71.2V106.9M192.5 84.1V116.7M193.5 77.9V123.7M194.5 83.8V119.1M195.5 72.2V114.9M196.5 77.7V106.7M197.5 56.1V111.0M198.5 74.0V123.2M199.5 71.7V115.5M200.5 79.4V118.0M201.5 61.2V124.2M202.5 81.7V125.3M203.5 85.1V119.1M204.5 86.0V117.3M205.5 83.3V111.9M206.5 73.4V129.5M207.5 81.8V115.4M208.5 86.6V115.0M209.5 85.2V103.3M210.5 68.1V128.7M211.5 79.8V107.5M212.5 79.1V112.3M213.5 83.6V107.9M214.5 63.1V122.2M215.5 76.9V106.8M216.5 86.9V108.1M217.5 75.6V105.8M218.5 65.8V117.0M219.5 71.3V109.4M220.5 76.6V110.7M221.5 81.6V107.4M222.5 62.6V129.7M223.5 75.0V114.8M224.5 76.7V117.4M225.5 84.7V110.8M226.5 62.4V126.0M227.5 74.2V118.6M228.5 75.1V110.7M229.5 75.7V104.5M230.5 73.9V122.3M231.5 77.5V120.3M232.5 86.8V113.2M233.5 75.3V108.9M234.5 78.6V119.7M235.5 70.4V127.2M236.5 79.7V109.9M237.5 76.2V118.3M238.5 63.9V116.6M239.5 76.5V107.7M240.5 75.5V116.7M241.5 85.2V105.3M242.5 54.5V134.5M243.5 68.5V122.5M244.5 80.7V111.1M245.5 75.2V114.3M246.5 87.5V108.5M247.5 73.0V125.3M248.5 81.0V111.0M249.5 85.7V118.8M250.5 87.3V104.7M251.5 61.6V124.3M252.5 69.2V111.8M253.5 87.5V115.3M254.5 82.4V112.6M255.5 78.2V110.8M256.5 70.4V118.8M257.5 81.0V116.4M258.5 79.6V113.5M259.5 65.4V132.2M260.5 68.5V117.3M261.5 82.1V107.5M262.5 74.6V104.5M263.5 73.2V124.6M264.5 76.7V120.1M265.5 84.3V107.8M266.5 88.1V105.1M267.5 69.0V115.0M268.5 68.1V112.4M269.5 79.3V118.5M270.5 77.4V115.5M271.5 57.7V134.0M272.5 77.8V106.8M273.5 81.7V116.9M274.5 79.2V111.8M275.5 77.5V115.9M276.5 75.8V112.9M277.5 78.6V108.4M278.5 77.2V116.3M279.5 62.4V117.5M280.5 71.0V122.9M281.5 86.2V108.5M282.5 83.0V113.6M283.5 60.4V131.2M284.5 75.2V118.6M285.5 73.0V113.0M286.5 73.3V108.5M287.5 76.2V105.8M288.5 67.0V124.5M289.5 74.0V112.4M290.5 83.4V119.2M291.5 86.6V114.7M292.5 79.4V124.6M293.5 77.2V114.4M294.5 80.7V110.5M295.5 77.9V104.9M296.5 75.0V120.0M297.5 77.8V113.6M298.5 77.3V113.6M299.5 87.3V115.8M300.5 61.9V128.3M301.5 67.8V106.3M302.5 86.3V118.7M303.5 83.9V115.4M304.5 60.0V117.5M305.5 74.8V112.2M306.5 81.9V120.5M307.5 84.2V115.2M308.5 67.8V123.3M309.5 79.7V110.0M310.5 79.2V109.3M311.5 74.8V107.9M312.5 60.7V134.8M313.5 80.9V108.4M314.5 71.5V109.0M315.5 83.4V110.4M316.5 69.4V133.9M317.5 74.1V119.4M318.5 86.3V121.0M319.5 77.7V115.9M320.5 56.7V117.9M321.5 77.7V107.4M322.5 79.5V114.9M323.5 79.2V110.2M324.5 61.7V113.5M325.5 67.0V121.0M326.5 70.6V116.6M327.5 74.4V116.4M328.5 82.5V113.4M329.5 77.8V118.5M330.5 81.1V115.4M331.5 76.5V113.8M332.5 76.3V105.0M333.5 72.7V111.4M334.5 71.8V122.2M335.5 85.0V111.9M336.5 82.2V112.9M337.5 62.9V118.7M338.5 75.0V115.3M339.5 83.9V107.1M340.5 80.6V113.2M341.5 80.4V110.3M342.5 75.3V115.9M343.5 84.3V116.9M344.5 83.1V116.5M345.5 66.5V112.9M346.5 76.5V111.4M347.5 82.3V112.8M348.5 87.8V115.4M349.5 78.0V117.5M350.5 85.1V107.9M351.5 83.8V111.7M352.5 77.4V110.8M353.5 64.3V112.8M354.5 72.2V121.6M355.5 77.5V120.4M356.5 77.8V115.7M357.5 79.0V122.9M358.5 69.7V121.2M359.5 78.5V121.5M360.5 75.7V114.7M361.5 61.4V119.6M362.5 84.2V109.1M363.5 79.2V107.0M364.5 82.5V106.2M365.5 61.5V119.9M366.5 74.2V127.4M367.5 79.9V122.6M368.5 77.0V105.9M369.5 81.0V113.5M370.5 67.7V118.5M371.5 72.7V121.7M372.5 73.9V106.5M373.5 81.4V110.2M374.5 66.5V114.3M375.5 81.9V107.5M376.5 78.5V105.0M377.5 86.3V113.8M378.5 63.4V117.4M379.5 81.9V115.9M380.5 83.0V105.2M381.5 77.6V109.0M382.5 65.9V120.4M383.5 80.7V123.9M384.5 85.8V112.9M385.5 83.1V106.2M386.5 66.2V126.2M387.5 71.3V120.0M388.5 83.1V104.8M389.5 77.0V104.9M390.5 76.7V133.5M391.5 67.0V112.4M392.5 80.3V115.1M393.5 85.2V110.8M394.5 65.5V127.9M395.5 81.8V107.2M396.5 74.5V113.7M397.5 76.3V111.4M398.5 80.1V110.6M399.5 67.9V119.6M400.5 86.2V109.6" fill="none" stroke="#0072bd" stroke-width="1" stroke-opacity="0.24"/>
<path d="M8.5 78.0V106.5M9.5 65.2V119.2M10.5 76.8V116.1M11.5 84.3V106.9M12.5 82.1V116.1M13.5 83.0V113.3M14.5 70.3V109.0M15.5 77.4V116.2M16.5 83.4V111.9M17.5 63.1V118.3M18.5 72.7V109.2M19.5 71.8V108.1M20.5 86.5V115.5M21.5 77.8V132.6M22.5 74.3V113.9M23.5 79.6V113.7M24.5 87.9V105.4M25.5 59.8V118.6M26.5 69.9V125.0M27.5 73.7V107.2M28.5 76.8V111.2M29.5 77.1V119.3M30.5 65.5V116.1M31.5 74.4V114.8M32.5 87.1V110.1M33.5 63.0V130.1M34.5 80.5V108.3M35.5 76.4V113.4M36.5 81.2V113.2M37.5 59.6V133.8M38.5 65.7V118.7M39.5 82.2V109.7M40.5 85.5V114.2M41.5 77.8V112.1M42.5 66.6V128.9M43.5 84.4V116.7M44.5 85.9V115.8M45.5 80.4V104.6M46.5 76.5V124.3M47.5 74.5V109.6M48.5 80.7V114.4M49.5 77.2V108.5M50.5 76.0V119.0M51.5 84.7V120.0M52.5 73.5V108.6M53.5 82.5V115.7M54.5 64.9V128.3M55.5 71.6V109.7M56.5 85.5V107.4M57.5 75.4V115.3M58.5 64.5V127.5M59.5 85.0V122.5M60.5 81.2V118.0M61.5 74.4V105.7M62.5 80.3V134.1M63.5 70.8V110.3M64.5 79.5V105.3M65.5 87.5V117.9M66.5 76.4V113.0M67.5 68.0V116.5M68.5 82.4V113.5M69.5 75.6V106.4M70.5 75.7V135.8M71.5 84.2V113.5M72.5 72.1V117.9M73.5 78.2V114.6M74.5 56.4V126.8M75.5 82.8V127.5M76.5 74.8V116.2M77.5 75.7V108.9M78.5 79.1V131.4M79.5 69.0V118.7M80.5 70.4V106.1M81.5 79.1V107.4M82.5 78.7V112.8M83.5 66.2V122.7M84.5 73.2V112.3M85.5 75.3V109.9M86.5 88.2V108.6M87.5 68.6V121.2M88.5 78.5V123.8M89.5 73.2V117.9M90.5 79.2V104.4M91.5 73.9V127.5M92.5 79.2V116.0M93.5 86.7V115.8M94.5 85.1V112.3M95.5 70.8V123.7M96.5 81.1V107.4M97.5 85.3V109.6M98.5 79.8V114.2M99.5 71.0V112.5M100.5 82.3V111.8M101.5 79.8V104.9M102.5 85.8V112.3M103.5 59.5V131.7M104.5 70.3V110.7M105.5 86.7V118.3M106.5 78.6V111.8M107.5 81.7V128.4M108.5 78.5V108.3M109.5 71.7V109.5M110.5 88.2V115.1M111.5 76.2V117.3M112.5 68.3V109.4M113.5 85.5V109.7M114.5 81.5V116.4M115.5 71.1V130.3M116.5 69.8V111.6M117.5 79.1V110.1M118.5 85.5V104.9M119.5 73.3V127.0M120.5 74.3V124.8M121.5 86.5V114.5M122.5 75.8V111.1M123.5 83.5V105.3M124.5 70.0V114.9M125.5 76.7V109.1M126.5 75.5V106.2M127.5 83.6V110.7M128.5 63.1V110.4M129.5 85.5V111.7M130.5 85.1V111.8M131.5 83.8V116.8M132.5 65.6V108.7M133.5 76.7V109.0M134.5 85.6V111.6M135.5 84.0V113.9M136.5 62.3V130.5M137.5 77.7V117.4M138.5 85.4V119.9M139.5 87.2V108.2M140.5 81.3V122.9M141.5 66.5V109.3M142.5 71.4V108.9M143.5 75.1V109.3M144.5 72.9V120.2M145.5 72.3V122.3M146.5 74.8V110.9M147.5 78.4V114.5M148.5 67.4V116.3M149.5 71.1V108.4M150.5 70.7V109.7M151.5 80.7V112.4M152.5 80.9V124.7M153.5 84.4V126.0M154.5 82.8V121.2M155.5 87.7V107.1M156.5 77.2V135.1M157.5 70.6V118.7M158.5 70.5V119.2M159.5 87.1V105.9M160.5 76.0V112.0M161.5 75.8V114.2M162.5 74.2V114.1M163.5 73.9V111.6M164.5 88.0V110.1M165.5 81.4V111.1M166.5 76.2V109.3M167.5 80.7V118.9M168.5 87.9V106.7M169.5 77.2V122.9M170.5 77.9V121.3M171.5 82.6V113.5M172.5 83.4V108.2M173.5 68.1V130.6M174.5 68.2V109.7M175.5 84.5V112.5M176.5 75.8V105.4M177.5 69.5V118.7M178.5 78.4V114.8M179.5 73.4V110.7M180.5 86.6V117.4M181.5 79.0V114.3M182.5 83.6V121.9M183.5 77.3V111.5M184.5 80.4V114.4M185.5 72.0V119.8M186.5 75.3V123.6M187.5 82.1V116.1M188.5 74.1V112.3M189.5 77.4V119.2M190.5 78.6V118.2M191.5 72.7V115.7M192.5 87.0V105.5M193.5 74.0V124.7M194.5 64.9V116.4M195.5 72.0V118.3M196.5 84.3V108.6M197.5 76.1V120.4M198.5 71.0V113.3M199.5 85.9V112.7M200.5 83.0V110.0M201.5 58.2V124.6M202.5 78.1V125.7M203.5 85.5V122.2M204.5 80.8V105.9M205.5 76.4V114.0M206.5 82.3V119.0M207.5 80.8V122.0M208.5 83.4V117.8M209.5 83.4V116.4M210.5 62.1V124.2M211.5 73.1V108.2M212.5 73.2V108.6M213.5 86.9V115.9M214.5 68.1V125.3M215.5 76.8V119.5M216.5 73.6V106.3M217.5 82.9V111.0M218.5 81.5V125.5M219.5 77.2V115.9M220.5 76.2V111.9M221.5 85.1V105.6M222.5 74.6V124.1M223.5 73.2V124.7M224.5 77.2V118.6M225.5 78.8V106.4M226.5 74.5V125.9M227.5 76.7V111.0M228.5 85.8V113.6M229.5 77.3V107.4M230.5 68.6V127.6M231.5 78.3V118.9M232.5 83.4V111.3M233.5 86.7V112.7M234.5 68.7V113.3M235.5 77.6V123.2M236.5 73.1V117.6M237.5 79.2V116.6M238.5 71.3V127.5M239.5 70.1V116.6M240.5 78.8V108.4M241.5 81.2V107.4M242.5 62.9V116.3M243.5 66.7V113.9M244.5 83.9V113.9M245.5 77.8V118.8M246.5 76.0V104.4M247.5 74.5V115.6M248.5 68.9V111.5M249.5 74.9V114.0M250.5 84.0V108.8M251.5 80.6V120.6M252.5 82.8V107.6M253.5 83.8V116.3M254.5 75.1V114.3M255.5 79.1V114.1M256.5 80.3V113.1M257.5 86.4V108.7M258.5 87.1V105.9M259.5 67.1V109.5M260.5 79.3V112.8M261.5 87.4V106.7M262.5 83.4V114.6M263.5 66.2V120.1M264.5 75.4V107.9M265.5 80.7V109.8M266.5 77.0V111.1M267.5 61.1V130.0M268.5 72.6V123.4M269.5 79.7V109.1M270.5 86.3V106.0M271.5 57.4V128.5M272.5 68.6V112.3M273.5 87.0V108.7M274.5 85.0V116.4M275.5 71.8V118.9M276.5 77.1V113.8M277.5 73.6V113.7M278.5 76.3V113.6M279.5 74.4V113.9M280.5 68.5V110.0M281.5 82.2V113.1M282.5 80.2V114.1M283.5 79.0V137.5M284.5 73.4V112.8M285.5 85.9V113.3M286.5 79.9V109.4M287.5 83.1V108.3M288.5 69.4V108.2M289.5 78.5V120.5M290.5 84.4V104.9M291.5 86.0V112.9M292.5 65.0V113.8M293.5 72.1V114.1M294.5 85.3V108.8M295.5 85.8V110.6M296.5 68.0V130.8M297.5 81.7V123.5M298.5 83.3V119.0M299.5 87.1V108.9M300.5 77.7V109.5M301.5 79.8V109.9M302.5 76.6V110.4M303.5 75.5V112.2M304.5 80.8V130.2M305.5 68.0V112.9M306.5 83.9V112.0M307.5 87.0V116.7M308.5 65.3V117.1M309.5 67.7V123.9M310.5 81.5V120.5M311.5 76.8V105.3M312.5 64.0V134.9M313.5 76.4V121.2M314.5 82.2V118.7M315.5 76.2V108.9M316.5 71.7V130.0M317.5 74.0V109.3M318.5 78.0V107.2M319.5 80.3V104.6M320.5 60.1V134.3M321.5 79.9V114.2M322.5 81.9V111.4M323.5 79.8V117.2M324.5 54.1V125.0M325.5 64.8V109.4M326.5 76.1V112.1M327.5 76.9V117.9M328.5 84.8V109.5M329.5 65.5V113.7M330.5 74.8V121.2M331.5 82.0V115.9M332.5 86.4V113.7M333.5 66.9V124.8M334.5 70.5V114.8M335.5 84.2V106.8M336.5 79.7V116.7M337.5 65.2V115.0M338.5 71.6V111.7M339.5 83.6V119.1M340.5 77.9V108.7M341.5 77.8V120.4M342.5 72.8V117.9M343.5 77.5V117.1M344.5 80.2V111.2M345.5 68.2V117.7M346.5 71.0V108.7M347.5 84.0V108.0M348.5 74.4V111.5M349.5 61.3V109.5M350.5 71.1V119.7M351.5 85.4V115.3M352.5 78.9V114.2M353.5 75.3V121.3M354.5 77.8V114.6M355.5 86.4V120.0M356.5 78.8V107.9M357.5 81.2V132.5M358.5 82.4V117.8M359.5 76.2V113.5M360.5 75.9V112.3M361.5 67.9V123.4M362.5 81.0V125.2M363.5 78.8V120.0M364.5 78.8V111.1M365.5 64.9V118.3M366.5 69.1V123.3M367.5 71.0V116.9M368.5 73.2V116.0M369.5 86.8V116.2M370.5 76.2V109.9M371.5 80.0V122.2M372.5 74.8V114.8M373.5 83.7V115.1M374.5 79.8V112.5M375.5 80.4V119.7M376.5 83.2V118.2M377.5 82.4V105.7M378.5 82.1V129.2M379.5 73.3V114.8M380.5 83.6V119.2M381.5 80.3V106.5M382.5 60.3V129.2M383.5 73.8V122.9M384.5 85.7V107.5M385.5 76.6V104.7M386.5 58.8V109.6M387.5 84.3V107.9M388.5 78.8V106.1M389.5 81.4V105.0M390.5 65.5V117.8M391.5 66.2V107.8M392.5 86.5V108.4M393.5 83.6V107.1M394.5 61.1V116.6M395.5 66.8V119.3M396.5 84.2V121.2M397.5 83.9V113.2M398.5 62.9V119.2M399.5 67.7V120.5M400.5 80.4V109.3" fill="none" stroke="#0072bd" stroke-width="1" stroke-opacity="0.24"/>
<path d="M8.5 84.5V115.3M9.5 76.6V114.8M10.5 67.7V120.5M11.5 78.1V105.1M12.5 79.9V110.6M13.5 66.9V113.5M14.5 80.9V122.7M15.5 86.0V113.1M16.5 87.7V108.9M17.5 59.1V123.4M18.5 77.2V110.9M19.5 76.6V109.5M20.5 75.1V116.4M21.5 68.8V113.9M22.5 77.4V111.2M23.5 82.0V117.0M24.5 74.5V113.1M25.5 67.0V127.3M26.5 82.2V125.5M27.5 80.2V118.4M28.5 77.8V107.0M29.5 56.8V125.3M30.5 64.9V117.6M31.5 79.8V119.8M32.5 80.6V117.7M33.5 64.3V137.0M34.5 80.3V126.4M35.5 76.6V116.5M36.5 78.7V106.7M37.5 60.5V114.2M38.5 64.8V108.5M39.5 83.4V115.3M40.5 87.6V108.7M41.5 80.5V105.8M42.5 65.4V108.9M43.5 72.3V111.1M44.5 74.5V107.2M45.5 79.7V111.9M46.5 64.4V128.2M47.5 76.1V122.8M48.5 86.2V110.1M49.5 83.5V110.8M50.5 81.7V125.8M51.5 83.7V108.4M52.5 82.8V117.4M53.5 83.4V113.3M54.5 67.3V117.5M55.5 80.9V116.2M56.5 74.9V114.7M57.5 77.6V109.0M58.5 65.4V119.9M59.5 75.3V113.8M60.5 72.6V110.9M61.5 78.3V115.2M62.5 79.6V113.8M63.5 67.5V110.8M64.5 82.1V109.9M65.5 75.6V116.8M66.5 81.3V122.7M67.5 81.5V120.2M68.5 76.7V113.8M69.5 86.3V105.4M70.5 76.3V123.6M71.5 72.7V108.4M72.5 73.0V117.9M73.5 83.7V106.3M74.5 72.4V136.0M75.5 72.7V124.1M76.5 70.5V112.6M77.5 78.1V107.0M78.5 80.5V137.8M79.5 68.8V109.4M80.5 78.7V116.4M81.5 85.0V117.2M82.5 81.3V114.1M83.5 70.1V116.7M84.5 78.2V119.0M85.5 75.0V116.1M86.5 77.0V111.2M87.5 74.4V112.2M88.5 79.9V113.8M89.5 81.9V108.4M90.5 76.8V107.7M91.5 64.5V119.3M92.5 82.4V111.8M93.5 74.9V111.3M94.5 83.3V112.3M95.5 78.5V131.5M96.5 77.9V120.6M97.5 75.3V112.2M98.5 78.0V108.3M99.5 72.2V124.6M100.5 67.2V106.8M101.5 80.0V107.3M102.5 82.7V109.5M103.5 65.9V110.7M104.5 66.8V123.9M105.5 72.3V120.9M106.5 74.7V112.4M107.5 64.4V120.6M108.5 82.6V110.5M109.5 72.2V116.2M110.5 84.7V105.8M111.5 57.0V117.3M112.5 74.4V107.7M113.5 74.1V115.3M114.5 83.9V114.9M115.5 62.4V121.1M116.5 69.4V113.1M117.5 81.6V106.5M118.5 81.2V107.1M119.5 66.8V113.1M120.5 83.0V120.3M121.5 80.2V118.6M122.5 81.2V118.5M123.5 87.7V110.9M124.5 71.7V124.3M125.5 76.1V114.3M126.5 79.6V115.3M127.5 79.4V110.9M128.5 78.3V112.0M129.5 82.8V114.2M130.5 79.7V115.7M131.5 78.3V105.0M132.5 63.5V112.2M133.5 83.5V111.2M134.5 82.1V113.5M135.5 85.0V109.0M136.5 75.9V126.2M137.5 68.3V108.9M138.5 76.5V106.5M139.5 75.4V104.0M140.5 71.8V122.8M141.5 70.1V114.2M142.5 80.1V119.8M143.5 83.1V114.3M144.5 79.1V111.0M145.5 80.9V111.1M146.5 82.0V115.1M147.5 84.1V112.8M148.5 73.3V125.4M149.5 65.8V110.8M150.5 77.1V121.3M151.5 78.1V108.6M152.5 79.8V115.5M153.5 76.1V111.2M154.5 71.8V115.8M155.5 87.8V105.7M156.5 72.3V119.7M157.5 71.8V109.4M158.5 75.8V114.1M159.5 77.8V116.0M160.5 57.2V138.4M161.5 73.6V107.7M162.5 71.5V121.0M163.5 86.5V104.7M164.5 82.0V109.1M165.5 75.2V126.1M166.5 71.9V105.8M167.5 79.7V105.0M168.5 88.4V110.6M169.5 80.0V128.5M170.5 81.0V120.2M171.5 73.5V105.1M172.5 87.7V106.9M173.5 61.0V128.9M174.5 70.1V122.1M175.5 83.1V106.3M176.5 88.4V107.1M177.5 73.1V113.6M178.5 68.9V110.7M179.5 79.5V118.4M180.5 88.1V107.7M181.5 80.8V120.5M182.5 70.2V117.1M183.5 73.5V110.9M184.5 78.1V107.2M185.5 63.1V113.8M186.5 76.3V115.7M187.5 80.6V120.0M188.5 87.3V110.8M189.5 74.4V125.3M190.5 85.1V114.2M191.5 82.2V117.8M192.5 77.4V110.3M193.5 62.2V132.8M194.5 69.2V109.0M195.5 72.3V106.0M196.5 79.5V113.0M197.5 59.2V125.5M198.5 82.9V116.9M199.5 80.2V115.2M200.5 79.0V117.1M201.5 54.0V118.9M202.5 71.4V118.4M203.5 71.3V110.7M204.5 80.5V107.7M205.5 86.6V109.7M206.5 64.1V116.6M207.5 84.9V109.2M208.5 74.3V118.4M209.5 78.3V104.1M210.5 64.5V127.0M211.5 79.3V123.7M212.5 72.4V118.3M213.5 86.1V103.5M214.5 82.6V110.5M215.5 74.0V117.3M216.5 79.3V105.2M217.5 78.6V116.4M218.5 60.2V109.1M219.5 74.3V124.7M220.5 81.0V110.3M221.5 82.3V107.6M222.5 61.0V117.8M223.5 83.0V124.8M224.5 82.1V116.0M225.5 87.5V114.8M226.5 80.5V126.0M227.5 71.2V115.6M228.5 77.1V119.8M229.5 78.4V109.1M230.5 65.8V127.2M231.5 76.0V118.0M232.5 85.9V115.8M233.5 86.4V116.6M234.5 73.4V117.5M235.5 82.1V118.9M236.5 84.7V110.0M237.5 73.8V114.7M238.5 56.2V118.8M239.5 68.0V112.2M240.5 79.9V118.0M241.5 76.2V116.0M242.5 57.9V131.4M243.5 70.1V118.6M244.5 80.2V112.7M245.5 84.7V111.7M246.5 78.6V114.9M247.5 73.1V112.1M248.5 82.4V122.2M249.5 81.4V107.2M250.5 76.2V110.6M251.5 80.3V109.0M252.5 74.5V114.1M253.5 80.2V112.5M254.5 87.7V110.2M255.5 61.4V125.6M256.5 78.0V111.3M257.5 80.1V114.9M258.5 84.3V107.3M259.5 76.2V127.7M260.5 74.0V122.4M261.5 74.0V114.4M262.5 79.2V104.5M263.5 78.3V132.5M264.5 81.1V107.5M265.5 81.5V117.7M266.5 82.2V107.4M267.5 74.5V110.0M268.5 69.8V123.4M269.5 79.4V110.2M270.5 82.8V110.3M271.5 64.8V116.7M272.5 83.6V113.1M273.5 72.2V119.1M274.5 77.3V111.2M275.5 80.2V120.9M276.5 77.3V119.7M277.5 79.2V117.1M278.5 77.6V106.2M279.5 70.6V111.2M280.5 71.3V124.8M281.5 83.8V114.4M282.5 84.4V114.4M283.5 64.8V118.7M284.5 78.8V115.3M285.5 83.1V105.6M286.5 87.1V117.5M287.5 86.5V112.1M288.5 79.1V119.1M289.5 86.0V110.3M290.5 81.5V114.0M291.5 86.5V115.3M292.5 81.8V121.3M293.5 77.3V114.5M294.5 83.7V108.1M295.5 84.3V106.7M296.5 63.9V118.3M297.5 84.8V109.7M298.5 81.2V113.7M299.5 76.3V116.5M300.5 72.6V110.2M301.5 85.6V115.5M302.5 74.2V117.1M303.5 83.6V116.1M304.5 66.8V114.7M305.5 81.9V107.2M306.5 71.8V104.7M307.5 76.6V105.6M308.5 73.0V115.4M309.5 78.4V120.1M310.5 81.7V114.2M311.5 77.9V115.2M312.5 75.0V123.2M313.5 69.6V107.1M314.5 72.3V117.1M315.5 76.6V115.1M316.5 64.9V118.9M317.5 64.7V126.8M318.5 73.1V112.3M319.5 76.1V114.0M320.5 71.7V121.8M321.5 82.5V123.3M322.5 73.9V113.3M323.5 84.1V111.6M324.5 74.1V132.3M325.5 73.2V123.5M326.5 76.7V115.0M327.5 87.0V115.6M328.5 77.7V103.7M329.5 66.1V113.2M330.5 70.8V110.0M331.5 74.2V111.4M332.5 84.5V111.3M333.5 80.6V114.0M334.5 79.6V113.8M335.5 81.9V105.3M336.5 76.5V112.1M337.5 71.4V131.0M338.5 70.8V106.3M339.5 87.2V109.0M340.5 85.5V115.2M341.5 61.0V126.0M342.5 79.6V107.9M343.5 86.8V118.7M344.5 77.1V112.3M345.5 81.1V112.3M346.5 85.4V125.5M347.5 80.9V117.3M348.5 83.3V106.9M349.5 62.9V126.1M350.5 79.3V123.4M351.5 85.8V107.7M352.5 79.7V106.5M353.5 79.3V112.5M354.5 81.1V117.2M355.5 70.7V110.6M356.5 79.2V116.4M357.5 61.3V111.4M358.5 70.9V113.9M359.5 85.8V107.1M360.5 79.7V111.6M361.5 63.4V116.5M362.5 69.7V123.0M363.5 78.1V116.0M364.5 82.9V107.8M365.5 59.9V121.5M366.5 77.2V125.5M367.5 72.1V114.9M368.5 85.8V107.7M369.5 84.1V116.6M370.5 82.3V121.6M371.5 81.2V122.2M372.5 77.2V116.9M373.5 76.5V105.5M374.5 71.0V114.4M375.5 85.9V114.5M376.5 72.5V117.3M377.5 82.0V116.0M378.5 60.8V120.2M379.5 79.6V110.5M380.5 87.5V115.7M381.5 79.3V113.2M382.5 69.7V124.9M383.5 80.5V124.6M384.5 75.4V105.6M385.5 83.8V115.5M386.5 66.8V127.2M387.5 70.8V118.1M388.5 75.4V110.1M389.5 77.4V111.5M390.5 61.2V118.9M391.5 71.1V112.3M392.5 85.5V116.8M393.5 75.0V110.9M394.5 80.2V121.8M395.5 76.9V109.5M396.5 71.3V120.3M397.5 86.0V112.7M398.5 63.4V130.8M399.5 66.0V125.4M400.5 84.0V119.8" fill="none" stroke="#0072bd" stroke-width="1" stroke-opacity="0.24"/>
<path d="M8.5 80.6V110.6M9.5 80.5V116.8M11.5 83.1V109.2M14.5 74.9V109.9M16.5 81.6V109.0M17.5 77.0V111.4M20.5 83.7V108.3M22.5 78.8V107.6M24.5 78.7V109.0M27.5 79.6V108.6M30.5 90.7V115.4M33.5 85.6V104.8M36.5 83.1V115.8M39.5 78.0V118.7M42.5 72.3V117.8M44.5 81.0V108.6M45.5 83.1V113.1M47.5 80.6V108.2M48.5 84.6V114.9M52.5 76.6V103.7M54.5 91.9V104.3M57.5 77.6V108.6M60.5 86.5V109.8M62.5 84.7V103.5M65.5 86.6V113.3M67.5 80.0V112.3M68.5 81.3V105.8M70.5 86.7V108.7M72.5 85.4V109.7M78.5 74.9V116.1M79.5 75.5V109.3M80.5 80.9V111.8M86.5 82.0V99.9M88.5 81.4V120.0M94.5 86.3V106.4M95.5 86.5V109.4M98.5 82.4V112.3M99.5 86.7V106.7M102.5 82.3V110.1M104.5 84.8V116.7M106.5 81.7V113.1M108.5 79.7V115.3M116.5 87.3V122.6M118.5 91.4V113.3M119.5 70.5V103.7M122.5 84.5V99.0M127.5 68.0V112.6M133.5 92.7V122.2M138.5 85.0V106.9M139.5 75.3V107.2M140.5 78.4V103.5M142.5 75.6V112.7M147.5 82.7V105.1M150.5 75.0V108.2M151.5 81.3V105.5M152.5 83.0V119.2M153.5 83.6V119.7M155.5 76.7V111.8M161.5 93.0V116.0M162.5 77.2V115.9M163.5 82.3V115.6M164.5 84.1V116.3M167.5 83.1V105.1M168.5 84.4V100.6M170.5 91.1V111.3M172.5 89.4V108.1M174.5 85.9V103.0M177.5 85.7V112.4M178.5 77.0V102.5M179.5 83.0V103.3M181.5 84.5V112.4M186.5 89.2V101.0M188.5 69.3V113.7M189.5 77.2V104.9M190.5 68.0V112.0M197.5 73.4V118.8M198.5 80.6V111.0M199.5 72.8V114.0M200.5 79.7V116.3M202.5 89.0V113.1M209.5 79.0V102.9M210.5 78.7V108.2M212.5 85.9V114.7M213.5 87.4V106.1M214.5 85.2V103.4M215.5 83.3V104.0M217.5 79.3V110.4M219.5 84.0V114.0M220.5 68.3V117.2M221.5 89.0V112.3M222.5 86.7V114.5M224.5 76.3V103.8M234.5 89.2V102.0M235.5 77.9V102.4M237.5 81.2V112.3M238.5 92.8V119.7M239.5 84.6V103.9M242.5 84.0V103.2M243.5 72.6V108.0M247.5 85.6V100.7M249.5 83.3V112.1M250.5 80.7V111.3M251.5 93.0V106.9M252.5 85.9V108.4M254.5 82.6V110.7M257.5 88.1V110.2M258.5 86.0V117.0M259.5 73.0V105.1M261.5 83.5V108.6M262.5 81.7V108.9M272.5 89.5V111.3M273.5 91.5V105.7M274.5 84.8V105.7M275.5 76.1V115.9M276.5 82.3V116.2M278.5 77.0V119.4M279.5 93.0V101.3M281.5 78.3V109.1M282.5 81.1V104.2M284.5 68.0V114.9M287.5 91.9V105.6M288.5 76.7V107.4M290.5 89.1V109.6M294.5 80.5V110.0M297.5 73.6V111.2M298.5 84.4V107.8M299.5 76.2V112.1M300.5 84.0V113.3M301.5 87.0V120.3M302.5 81.9V118.9M310.5 77.9V105.0M311.5 83.2V111.6M312.5 71.4V112.2M316.5 84.8V109.4M317.5 80.9V112.4M318.5 86.4V114.5M321.5 93.0V105.8M325.5 73.4V119.3M326.5 83.3V112.1M327.5 77.1V103.3M329.5 88.7V107.8M330.5 90.1V117.0M332.5 82.3V105.3M335.5 76.2V105.8M336.5 82.3V115.1M338.5 88.9V113.5M342.5 83.3V112.3M344.5 76.3V105.0M349.5 84.3V108.3M354.5 86.5V114.4M355.5 81.9V99.9M358.5 79.8V109.9M359.5 78.8V113.6M360.5 83.2V115.8M362.5 75.7V113.1M363.5 79.2V102.5M364.5 71.1V111.5M365.5 79.9V107.8M366.5 93.0V100.4M367.5 82.3V108.5M374.5 82.7V108.4M378.5 92.1V111.7M379.5 79.2V103.3M380.5 86.7V103.2M382.5 77.7V113.7M383.5 76.4V110.5M384.5 90.4V100.6M385.5 90.3V108.2M388.5 73.6V99.0M390.5 81.9V109.9M393.5 81.5V108.9M394.5 81.0V114.0M396.5 86.0V106.0M398.5 89.0V119.4M399.5 90.3V116.6" fill="none" stroke="#0072bd" stroke-width="1" stroke-opacity="0.25"/>
<rect x="7.3" y="29.8" width="395.3" height="116.7" fill="none" stroke="#aaaaaa" stroke-width="1.1"/>
<path d="M51.0 29.8v2.2M51.0 146.5v-2.2M7.3 46.3h2.2M402.6 46.3h-2.2M113.4 29.8v2.2M113.4 146.5v-2.2M7.3 63.1h2.2M402.6 63.1h-2.2M175.8 29.8v2.2M175.8 146.5v-2.2M7.3 79.8h2.2M402.6 79.8h-2.2M238.2 29.8v2.2M238.2 146.5v-2.2M7.3 96.6h2.2M402.6 96.6h-2.2M300.6 29.8v2.2M300.6 146.5v-2.2M7.3 113.4h2.2M402.6 113.4h-2.2M363.0 29.8v2.2M363.0 146.5v-2.2M7.3 130.1h2.2M402.6 130.1h-2.2" stroke="#999" stroke-width="0.8"/>
<rect x="16.4" y="24.0" width="51.6" height="127.5" fill="none" stroke="#b56a38" stroke-width="1.5" stroke-dasharray="7.6 2.5"/>
<rect x="73.4" y="24.0" width="52.2" height="127.5" fill="none" stroke="#b56a38" stroke-width="1.5" stroke-dasharray="7.6 2.5"/>
<rect x="334.1" y="24.0" width="51.8" height="127.5" fill="none" stroke="#b56a38" stroke-width="1.5" stroke-dasharray="7.6 2.5"/>
<path d="M42.1 152.3V155.7Q42.1 156.7 43.1 156.7H60Q61 156.7 61 157.7V165" fill="none" stroke="#4b7a2e" stroke-width="1.3"/>
<path d="M99.7 152.5V156.4H97.6V165" fill="none" stroke="#4b7a2e" stroke-width="1.3"/>
<path d="M360.2 152.5V155.6Q360.2 156.6 359.2 156.6H290Q289 156.6 289 157.6V165" fill="none" stroke="#4b7a2e" stroke-width="1.3"/>
<path d="M58.1 164.2H63.9L61.0 170.2Z" fill="#3e6a20"/>
<path d="M94.7 164.2H100.5L97.6 170.2Z" fill="#3e6a20"/>
<path d="M286.1 164.2H291.9L289.0 170.2Z" fill="#3e6a20"/>
<rect x="41.8" y="161.7" width="269.6" height="36.5" fill="none" stroke="#262626" stroke-width="1.35"/>
<rect x="51.4" y="170.9" width="19.2" height="19.2" fill="#2f55a6"/>
<rect x="88.1" y="170.9" width="19.2" height="19.2" fill="#2f55a6"/>
<rect x="124.9" y="170.9" width="19.2" height="19.2" fill="#2f55a6"/>
<rect x="243.7" y="170.9" width="19.2" height="19.2" fill="#2f55a6"/>
<rect x="279.6" y="170.9" width="19.2" height="19.2" fill="#2f55a6"/>
<circle cx="166.7" cy="180.3" r="0.8" fill="#111"/>
<circle cx="191.0" cy="180.3" r="0.8" fill="#111"/>
<circle cx="215.9" cy="180.3" r="0.8" fill="#111"/>
<text x="319.6" y="185.6" class="serif" font-size="16.5">Sample Set</text>
<path d="M184.2 200.2H219.9V222.6H238.2L202.4 236.7L166.7 222.6H184.2Z" fill="#9dc3e6"/>
<text x="188.8" y="221.2" class="serif" font-size="13.6" textLength="27.5" lengthAdjust="spacingAndGlyphs">CWT</text>
<path d="M54.8 236.2V495.5H341.6" fill="none" stroke="#262626" stroke-width="0.9"/>
<path d="M54.8 236.2H341.6V495.5" fill="none" stroke="#262626" stroke-width="0.5" stroke-opacity="0.6"/>
<path d="M54.80 495.5v-2.8M54.80 236.2v2.8M54.8 495.50h2.8M341.6 495.50h-2.8M90.65 495.5v-2.8M90.65 236.2v2.8M54.8 463.09h2.8M341.6 463.09h-2.8M126.50 495.5v-2.8M126.50 236.2v2.8M54.8 430.68h2.8M341.6 430.68h-2.8M162.35 495.5v-2.8M162.35 236.2v2.8M54.8 398.26h2.8M341.6 398.26h-2.8M198.20 495.5v-2.8M198.20 236.2v2.8M54.8 365.85h2.8M341.6 365.85h-2.8M234.05 495.5v-2.8M234.05 236.2v2.8M54.8 333.44h2.8M341.6 333.44h-2.8M269.90 495.5v-2.8M269.90 236.2v2.8M54.8 301.02h2.8M341.6 301.02h-2.8M305.75 495.5v-2.8M305.75 236.2v2.8M54.8 268.61h2.8M341.6 268.61h-2.8M341.60 495.5v-2.8M341.60 236.2v2.8M54.8 236.20h2.8M341.6 236.20h-2.8" stroke="#262626" stroke-width="0.8"/>
<g class="sans" font-size="10.4" fill="#262626"><text x="55.00" y="511.0" text-anchor="middle">0</text><text x="49.7" y="500.40" text-anchor="end">0</text><text x="90.85" y="511.0" text-anchor="middle">0.02</text><text x="49.7" y="467.99" text-anchor="end">500</text><text x="126.70" y="511.0" text-anchor="middle">0.04</text><text x="49.7" y="435.57" text-anchor="end">1000</text><text x="162.55" y="511.0" text-anchor="middle">0.06</text><text x="49.7" y="403.16" text-anchor="end">1500</text><text x="198.40" y="511.0" text-anchor="middle">0.08</text><text x="49.7" y="370.75" text-anchor="end">2000</text><text x="234.25" y="511.0" text-anchor="middle">0.1</text><text x="49.7" y="338.34" text-anchor="end">2500</text><text x="270.10" y="511.0" text-anchor="middle">0.12</text><text x="49.7" y="305.92" text-anchor="end">3000</text><text x="305.95" y="511.0" text-anchor="middle">0.14</text><text x="49.7" y="273.51" text-anchor="end">3500</text><text x="341.80" y="511.0" text-anchor="middle">0.16</text><text x="49.7" y="241.10" text-anchor="end">4000</text></g>
<text x="198.9" y="524.8" class="sans" font-size="11.4" fill="#262626" text-anchor="middle">Time (s)</text>
<text transform="translate(21.5 366.4) rotate(-90)" class="sans" font-size="11.35" fill="#262626" text-anchor="middle">Frequency (Hz)</text>
<defs><linearGradient id="cb" x1="0" y1="1" x2="0" y2="0"><stop offset="0.0000" stop-color="#3e26a8"/><stop offset="0.0159" stop-color="#402ab4"/><stop offset="0.0317" stop-color="#422ec0"/><stop offset="0.0476" stop-color="#4332cb"/><stop offset="0.0635" stop-color="#4537d5"/><stop offset="0.0794" stop-color="#463cde"/><stop offset="0.0952" stop-color="#4741e5"/><stop offset="0.1111" stop-color="#4747eb"/><stop offset="0.1270" stop-color="#484df0"/><stop offset="0.1429" stop-color="#4852f4"/><stop offset="0.1587" stop-color="#4758f8"/><stop offset="0.1746" stop-color="#465efb"/><stop offset="0.1905" stop-color="#4563fd"/><stop offset="0.2063" stop-color="#4269fe"/><stop offset="0.2222" stop-color="#3e6fff"/><stop offset="0.2381" stop-color="#3875fe"/><stop offset="0.2540" stop-color="#327cfc"/><stop offset="0.2698" stop-color="#2f81fa"/><stop offset="0.2857" stop-color="#2e87f7"/><stop offset="0.3016" stop-color="#2d8cf3"/><stop offset="0.3175" stop-color="#2b91ef"/><stop offset="0.3333" stop-color="#2797eb"/><stop offset="0.3492" stop-color="#259be8"/><stop offset="0.3651" stop-color="#23a0e5"/><stop offset="0.3810" stop-color="#20a5e3"/><stop offset="0.3968" stop-color="#1ca9df"/><stop offset="0.4127" stop-color="#18addb"/><stop offset="0.4286" stop-color="#12b1d6"/><stop offset="0.4444" stop-color="#08b5d0"/><stop offset="0.4603" stop-color="#01b8ca"/><stop offset="0.4762" stop-color="#02bac3"/><stop offset="0.4921" stop-color="#0bbdbd"/><stop offset="0.5079" stop-color="#19bfb6"/><stop offset="0.5238" stop-color="#24c1ae"/><stop offset="0.5397" stop-color="#2cc4a7"/><stop offset="0.5556" stop-color="#31c69f"/><stop offset="0.5714" stop-color="#37c897"/><stop offset="0.5873" stop-color="#3fca8e"/><stop offset="0.6032" stop-color="#4acb84"/><stop offset="0.6190" stop-color="#57cc7a"/><stop offset="0.6349" stop-color="#64cd6f"/><stop offset="0.6508" stop-color="#72cd64"/><stop offset="0.6667" stop-color="#81cc59"/><stop offset="0.6825" stop-color="#8fcb4e"/><stop offset="0.6984" stop-color="#9dc943"/><stop offset="0.7143" stop-color="#abc739"/><stop offset="0.7302" stop-color="#b9c431"/><stop offset="0.7460" stop-color="#c5c22a"/><stop offset="0.7619" stop-color="#d1bf27"/><stop offset="0.7778" stop-color="#dcbd29"/><stop offset="0.7937" stop-color="#e6bb2d"/><stop offset="0.8095" stop-color="#f0ba36"/><stop offset="0.8254" stop-color="#f8ba3d"/><stop offset="0.8413" stop-color="#febe3c"/><stop offset="0.8571" stop-color="#fec338"/><stop offset="0.8730" stop-color="#fec934"/><stop offset="0.8889" stop-color="#fccf30"/><stop offset="0.9048" stop-color="#fad62d"/><stop offset="0.9206" stop-color="#f7dc2a"/><stop offset="0.9365" stop-color="#f5e327"/><stop offset="0.9524" stop-color="#f5e924"/><stop offset="0.9683" stop-color="#f6ef20"/><stop offset="0.9841" stop-color="#f7f51b"/><stop offset="1.0000" stop-color="#f9fb15"/></linearGradient></defs>
<rect x="360.2" y="236.1" width="15.5" height="259.3" fill="url(#cb)" stroke="#262626" stroke-width="0.8"/>
<path d="M375.7 470.36h-2.5M375.7 444.72h-2.5M375.7 419.08h-2.5M375.7 393.44h-2.5M375.7 367.80h-2.5M375.7 342.16h-2.5M375.7 316.52h-2.5M375.7 290.88h-2.5M375.7 265.24h-2.5M375.7 239.60h-2.5" stroke="#262626" stroke-width="0.8"/>
<g class="sans" font-size="10.3" fill="#262626"><text x="379.4" y="474.66">0.2</text><text x="379.4" y="449.02">0.4</text><text x="379.4" y="423.38">0.6</text><text x="379.4" y="397.74">0.8</text><text x="379.4" y="372.10">1</text><text x="379.4" y="346.46">1.2</text><text x="379.4" y="320.82">1.4</text><text x="379.4" y="295.18">1.6</text><text x="379.4" y="269.54">1.8</text><text x="379.4" y="243.90">2</text></g>
<text x="156.9" y="546.6" class="serif" font-size="16.2">RGB Image</text>
</svg>
</body></html>
